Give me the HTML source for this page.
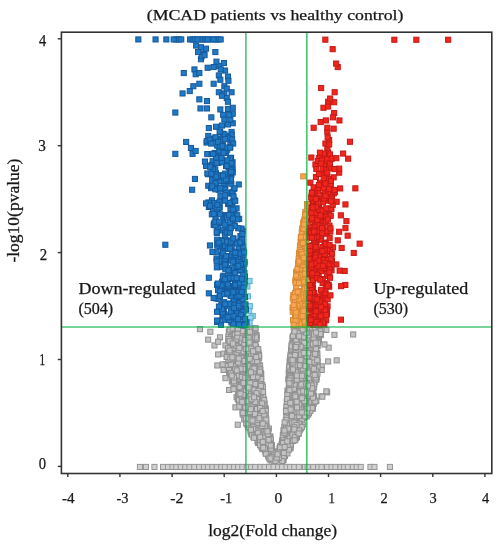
<!DOCTYPE html>
<html><head><meta charset="utf-8"><title>Volcano plot</title>
<style>html,body{margin:0;padding:0;background:#fff}svg{display:block}</style></head>
<body>
<svg width="502" height="550" viewBox="0 0 502 550">
<rect width="502" height="550" fill="#fff"/>
<g fill="#d0d0d0" stroke="#969696" stroke-width="1"><rect x="137.4" y="464.4" width="5.1" height="5.1"/><rect x="143.4" y="464.4" width="5.1" height="5.1"/><rect x="151.9" y="464.4" width="5.1" height="5.1"/><rect x="160.5" y="464.4" width="5.1" height="5.1"/><rect x="165.5" y="464.4" width="5.1" height="5.1"/><rect x="170.0" y="464.4" width="5.1" height="5.1"/><rect x="173.7" y="464.4" width="5.1" height="5.1"/><rect x="178.2" y="464.4" width="5.1" height="5.1"/><rect x="182.7" y="464.4" width="5.1" height="5.1"/><rect x="186.9" y="464.4" width="5.1" height="5.1"/><rect x="191.8" y="464.4" width="5.1" height="5.1"/><rect x="196.6" y="464.4" width="5.1" height="5.1"/><rect x="201.4" y="464.4" width="5.1" height="5.1"/><rect x="205.4" y="464.4" width="5.1" height="5.1"/><rect x="209.8" y="464.4" width="5.1" height="5.1"/><rect x="214.2" y="464.4" width="5.1" height="5.1"/><rect x="218.7" y="464.4" width="5.1" height="5.1"/><rect x="222.3" y="464.4" width="5.1" height="5.1"/><rect x="227.2" y="464.4" width="5.1" height="5.1"/><rect x="231.4" y="464.4" width="5.1" height="5.1"/><rect x="235.6" y="464.4" width="5.1" height="5.1"/><rect x="239.8" y="464.4" width="5.1" height="5.1"/><rect x="244.2" y="464.4" width="5.1" height="5.1"/><rect x="248.7" y="464.4" width="5.1" height="5.1"/><rect x="252.6" y="464.4" width="5.1" height="5.1"/><rect x="257.9" y="464.4" width="5.1" height="5.1"/><rect x="262.0" y="464.4" width="5.1" height="5.1"/><rect x="266.5" y="464.4" width="5.1" height="5.1"/><rect x="271.0" y="464.4" width="5.1" height="5.1"/><rect x="275.6" y="464.4" width="5.1" height="5.1"/><rect x="279.4" y="464.4" width="5.1" height="5.1"/><rect x="284.0" y="464.4" width="5.1" height="5.1"/><rect x="287.6" y="464.4" width="5.1" height="5.1"/><rect x="291.7" y="464.4" width="5.1" height="5.1"/><rect x="296.3" y="464.4" width="5.1" height="5.1"/><rect x="302.4" y="464.4" width="5.1" height="5.1"/><rect x="305.1" y="464.4" width="5.1" height="5.1"/><rect x="310.7" y="464.4" width="5.1" height="5.1"/><rect x="315.6" y="464.4" width="5.1" height="5.1"/><rect x="319.0" y="464.4" width="5.1" height="5.1"/><rect x="324.5" y="464.4" width="5.1" height="5.1"/><rect x="329.0" y="464.4" width="5.1" height="5.1"/><rect x="332.9" y="464.4" width="5.1" height="5.1"/><rect x="338.0" y="464.4" width="5.1" height="5.1"/><rect x="341.6" y="464.4" width="5.1" height="5.1"/><rect x="345.3" y="464.4" width="5.1" height="5.1"/><rect x="350.3" y="464.4" width="5.1" height="5.1"/><rect x="354.2" y="464.4" width="5.1" height="5.1"/><rect x="358.2" y="464.4" width="5.1" height="5.1"/><rect x="367.9" y="464.4" width="5.1" height="5.1"/><rect x="371.9" y="464.4" width="5.1" height="5.1"/><rect x="387.4" y="464.4" width="5.1" height="5.1"/></g>

<g fill="#c3c3c3" stroke="#909090" stroke-width="1"><rect x="254.4" y="355.0" width="5.1" height="5.1"/><rect x="258.4" y="421.2" width="5.1" height="5.1"/><rect x="303.6" y="371.3" width="5.1" height="5.1"/><rect x="306.6" y="375.2" width="5.1" height="5.1"/><rect x="237.8" y="374.4" width="5.1" height="5.1"/><rect x="302.8" y="342.2" width="5.1" height="5.1"/><rect x="226.8" y="327.8" width="5.1" height="5.1"/><rect x="289.3" y="406.2" width="5.1" height="5.1"/><rect x="310.9" y="390.4" width="5.1" height="5.1"/><rect x="295.8" y="334.4" width="5.1" height="5.1"/><rect x="308.2" y="370.9" width="5.1" height="5.1"/><rect x="277.4" y="447.5" width="5.1" height="5.1"/><rect x="288.0" y="445.7" width="5.1" height="5.1"/><rect x="293.1" y="332.4" width="5.1" height="5.1"/><rect x="287.2" y="379.5" width="5.1" height="5.1"/><rect x="303.6" y="331.0" width="5.1" height="5.1"/><rect x="297.8" y="410.3" width="5.1" height="5.1"/><rect x="254.8" y="378.6" width="5.1" height="5.1"/><rect x="234.2" y="342.8" width="5.1" height="5.1"/><rect x="247.9" y="379.0" width="5.1" height="5.1"/><rect x="296.3" y="341.6" width="5.1" height="5.1"/><rect x="298.7" y="333.4" width="5.1" height="5.1"/><rect x="284.4" y="441.0" width="5.1" height="5.1"/><rect x="276.1" y="452.3" width="5.1" height="5.1"/><rect x="297.9" y="411.9" width="5.1" height="5.1"/><rect x="260.4" y="392.5" width="5.1" height="5.1"/><rect x="292.1" y="397.6" width="5.1" height="5.1"/><rect x="267.9" y="451.6" width="5.1" height="5.1"/><rect x="289.2" y="385.6" width="5.1" height="5.1"/><rect x="243.2" y="332.6" width="5.1" height="5.1"/><rect x="248.3" y="341.9" width="5.1" height="5.1"/><rect x="294.0" y="425.2" width="5.1" height="5.1"/><rect x="243.8" y="356.4" width="5.1" height="5.1"/><rect x="285.4" y="444.5" width="5.1" height="5.1"/><rect x="239.1" y="382.0" width="5.1" height="5.1"/><rect x="292.2" y="350.4" width="5.1" height="5.1"/><rect x="251.0" y="361.0" width="5.1" height="5.1"/><rect x="248.6" y="380.1" width="5.1" height="5.1"/><rect x="300.7" y="373.1" width="5.1" height="5.1"/><rect x="288.1" y="379.7" width="5.1" height="5.1"/><rect x="258.0" y="416.2" width="5.1" height="5.1"/><rect x="247.7" y="381.2" width="5.1" height="5.1"/><rect x="284.9" y="388.1" width="5.1" height="5.1"/><rect x="307.7" y="332.3" width="5.1" height="5.1"/><rect x="304.0" y="401.9" width="5.1" height="5.1"/><rect x="303.6" y="344.9" width="5.1" height="5.1"/><rect x="261.4" y="411.4" width="5.1" height="5.1"/><rect x="238.4" y="389.6" width="5.1" height="5.1"/><rect x="252.5" y="338.3" width="5.1" height="5.1"/><rect x="287.3" y="445.0" width="5.1" height="5.1"/><rect x="310.3" y="346.4" width="5.1" height="5.1"/><rect x="315.0" y="343.5" width="5.1" height="5.1"/><rect x="246.4" y="325.2" width="5.1" height="5.1"/><rect x="331.9" y="332.3" width="5.1" height="5.1"/><rect x="297.0" y="420.0" width="5.1" height="5.1"/><rect x="277.2" y="456.2" width="5.1" height="5.1"/><rect x="252.2" y="410.9" width="5.1" height="5.1"/><rect x="268.0" y="457.8" width="5.1" height="5.1"/><rect x="256.3" y="401.7" width="5.1" height="5.1"/><rect x="289.9" y="352.4" width="5.1" height="5.1"/><rect x="286.3" y="403.9" width="5.1" height="5.1"/><rect x="295.6" y="353.7" width="5.1" height="5.1"/><rect x="250.9" y="434.5" width="5.1" height="5.1"/><rect x="258.6" y="390.4" width="5.1" height="5.1"/><rect x="234.5" y="337.8" width="5.1" height="5.1"/><rect x="266.3" y="426.0" width="5.1" height="5.1"/><rect x="310.0" y="345.6" width="5.1" height="5.1"/><rect x="290.4" y="374.8" width="5.1" height="5.1"/><rect x="242.4" y="395.1" width="5.1" height="5.1"/><rect x="266.9" y="437.2" width="5.1" height="5.1"/><rect x="265.5" y="436.5" width="5.1" height="5.1"/><rect x="230.8" y="327.2" width="5.1" height="5.1"/><rect x="236.1" y="387.3" width="5.1" height="5.1"/><rect x="236.7" y="389.1" width="5.1" height="5.1"/><rect x="279.2" y="446.5" width="5.1" height="5.1"/><rect x="246.1" y="412.3" width="5.1" height="5.1"/><rect x="248.6" y="380.2" width="5.1" height="5.1"/><rect x="308.8" y="351.0" width="5.1" height="5.1"/><rect x="316.4" y="337.9" width="5.1" height="5.1"/><rect x="254.7" y="420.5" width="5.1" height="5.1"/><rect x="256.3" y="429.2" width="5.1" height="5.1"/><rect x="242.2" y="401.6" width="5.1" height="5.1"/><rect x="250.4" y="325.9" width="5.1" height="5.1"/><rect x="313.2" y="363.1" width="5.1" height="5.1"/><rect x="240.2" y="412.0" width="5.1" height="5.1"/><rect x="311.9" y="349.1" width="5.1" height="5.1"/><rect x="308.7" y="404.5" width="5.1" height="5.1"/><rect x="245.0" y="374.7" width="5.1" height="5.1"/><rect x="310.7" y="346.5" width="5.1" height="5.1"/><rect x="265.6" y="429.2" width="5.1" height="5.1"/><rect x="245.7" y="414.6" width="5.1" height="5.1"/><rect x="259.3" y="411.6" width="5.1" height="5.1"/><rect x="289.0" y="357.4" width="5.1" height="5.1"/><rect x="263.3" y="407.8" width="5.1" height="5.1"/><rect x="241.0" y="363.9" width="5.1" height="5.1"/><rect x="297.7" y="414.6" width="5.1" height="5.1"/><rect x="290.5" y="434.0" width="5.1" height="5.1"/><rect x="286.2" y="385.2" width="5.1" height="5.1"/><rect x="259.4" y="405.6" width="5.1" height="5.1"/><rect x="260.2" y="421.3" width="5.1" height="5.1"/><rect x="249.1" y="370.0" width="5.1" height="5.1"/><rect x="300.3" y="368.1" width="5.1" height="5.1"/><rect x="252.1" y="350.4" width="5.1" height="5.1"/><rect x="308.7" y="363.1" width="5.1" height="5.1"/><rect x="310.7" y="332.7" width="5.1" height="5.1"/><rect x="334.1" y="357.8" width="5.1" height="5.1"/><rect x="284.0" y="414.4" width="5.1" height="5.1"/><rect x="243.9" y="327.4" width="5.1" height="5.1"/><rect x="247.6" y="367.2" width="5.1" height="5.1"/><rect x="301.9" y="391.0" width="5.1" height="5.1"/><rect x="260.9" y="412.6" width="5.1" height="5.1"/><rect x="289.8" y="340.8" width="5.1" height="5.1"/><rect x="295.9" y="371.4" width="5.1" height="5.1"/><rect x="239.4" y="360.6" width="5.1" height="5.1"/><rect x="251.4" y="331.5" width="5.1" height="5.1"/><rect x="261.2" y="430.0" width="5.1" height="5.1"/><rect x="288.4" y="359.3" width="5.1" height="5.1"/><rect x="314.7" y="343.2" width="5.1" height="5.1"/><rect x="234.0" y="394.7" width="5.1" height="5.1"/><rect x="231.7" y="336.8" width="5.1" height="5.1"/><rect x="242.2" y="351.8" width="5.1" height="5.1"/><rect x="282.5" y="453.4" width="5.1" height="5.1"/><rect x="241.4" y="372.5" width="5.1" height="5.1"/><rect x="313.1" y="355.5" width="5.1" height="5.1"/><rect x="306.5" y="354.1" width="5.1" height="5.1"/><rect x="313.9" y="376.9" width="5.1" height="5.1"/><rect x="302.4" y="349.3" width="5.1" height="5.1"/><rect x="290.4" y="416.7" width="5.1" height="5.1"/><rect x="294.7" y="378.1" width="5.1" height="5.1"/><rect x="235.4" y="367.7" width="5.1" height="5.1"/><rect x="305.3" y="390.1" width="5.1" height="5.1"/><rect x="235.2" y="355.9" width="5.1" height="5.1"/><rect x="310.4" y="405.9" width="5.1" height="5.1"/><rect x="262.5" y="406.1" width="5.1" height="5.1"/><rect x="226.3" y="329.5" width="5.1" height="5.1"/><rect x="297.3" y="415.9" width="5.1" height="5.1"/><rect x="260.4" y="442.1" width="5.1" height="5.1"/><rect x="311.4" y="365.0" width="5.1" height="5.1"/><rect x="221.0" y="367.4" width="5.1" height="5.1"/><rect x="262.6" y="407.1" width="5.1" height="5.1"/><rect x="280.0" y="454.2" width="5.1" height="5.1"/><rect x="319.2" y="363.8" width="5.1" height="5.1"/><rect x="242.4" y="381.3" width="5.1" height="5.1"/><rect x="297.3" y="362.1" width="5.1" height="5.1"/><rect x="271.7" y="458.0" width="5.1" height="5.1"/><rect x="243.0" y="407.3" width="5.1" height="5.1"/><rect x="228.8" y="338.2" width="5.1" height="5.1"/><rect x="260.0" y="387.1" width="5.1" height="5.1"/><rect x="293.6" y="405.4" width="5.1" height="5.1"/><rect x="288.4" y="432.8" width="5.1" height="5.1"/><rect x="232.4" y="325.1" width="5.1" height="5.1"/><rect x="264.0" y="438.1" width="5.1" height="5.1"/><rect x="311.9" y="353.6" width="5.1" height="5.1"/><rect x="308.8" y="327.8" width="5.1" height="5.1"/><rect x="288.9" y="432.4" width="5.1" height="5.1"/><rect x="252.9" y="350.7" width="5.1" height="5.1"/><rect x="301.2" y="333.9" width="5.1" height="5.1"/><rect x="255.6" y="440.5" width="5.1" height="5.1"/><rect x="236.4" y="351.0" width="5.1" height="5.1"/><rect x="259.5" y="430.8" width="5.1" height="5.1"/><rect x="241.7" y="416.8" width="5.1" height="5.1"/><rect x="267.1" y="435.5" width="5.1" height="5.1"/><rect x="236.9" y="353.7" width="5.1" height="5.1"/><rect x="285.7" y="420.0" width="5.1" height="5.1"/><rect x="290.5" y="365.9" width="5.1" height="5.1"/><rect x="239.9" y="384.6" width="5.1" height="5.1"/><rect x="248.0" y="378.1" width="5.1" height="5.1"/><rect x="292.6" y="414.4" width="5.1" height="5.1"/><rect x="282.2" y="437.0" width="5.1" height="5.1"/><rect x="302.0" y="347.7" width="5.1" height="5.1"/><rect x="298.6" y="363.5" width="5.1" height="5.1"/><rect x="252.8" y="332.8" width="5.1" height="5.1"/><rect x="240.8" y="348.3" width="5.1" height="5.1"/><rect x="256.7" y="414.4" width="5.1" height="5.1"/><rect x="300.8" y="396.6" width="5.1" height="5.1"/><rect x="263.7" y="434.4" width="5.1" height="5.1"/><rect x="258.2" y="424.6" width="5.1" height="5.1"/><rect x="300.7" y="371.1" width="5.1" height="5.1"/><rect x="253.9" y="356.8" width="5.1" height="5.1"/><rect x="279.1" y="441.4" width="5.1" height="5.1"/><rect x="294.1" y="418.6" width="5.1" height="5.1"/><rect x="310.0" y="389.9" width="5.1" height="5.1"/><rect x="289.5" y="391.8" width="5.1" height="5.1"/><rect x="237.0" y="338.3" width="5.1" height="5.1"/><rect x="298.5" y="409.5" width="5.1" height="5.1"/><rect x="293.4" y="373.0" width="5.1" height="5.1"/><rect x="289.4" y="343.5" width="5.1" height="5.1"/><rect x="281.8" y="426.6" width="5.1" height="5.1"/><rect x="279.8" y="451.5" width="5.1" height="5.1"/><rect x="242.0" y="359.9" width="5.1" height="5.1"/><rect x="285.9" y="429.7" width="5.1" height="5.1"/><rect x="313.6" y="340.7" width="5.1" height="5.1"/><rect x="268.7" y="455.0" width="5.1" height="5.1"/><rect x="253.9" y="432.6" width="5.1" height="5.1"/><rect x="241.3" y="327.9" width="5.1" height="5.1"/><rect x="254.6" y="377.8" width="5.1" height="5.1"/><rect x="293.9" y="408.7" width="5.1" height="5.1"/><rect x="297.1" y="371.6" width="5.1" height="5.1"/><rect x="291.3" y="333.8" width="5.1" height="5.1"/><rect x="262.2" y="443.8" width="5.1" height="5.1"/><rect x="306.9" y="368.0" width="5.1" height="5.1"/><rect x="283.1" y="426.3" width="5.1" height="5.1"/><rect x="254.1" y="332.9" width="5.1" height="5.1"/><rect x="246.0" y="358.7" width="5.1" height="5.1"/><rect x="295.7" y="355.5" width="5.1" height="5.1"/><rect x="247.7" y="410.5" width="5.1" height="5.1"/><rect x="280.9" y="432.8" width="5.1" height="5.1"/><rect x="242.0" y="379.4" width="5.1" height="5.1"/><rect x="238.5" y="369.5" width="5.1" height="5.1"/><rect x="231.1" y="333.0" width="5.1" height="5.1"/><rect x="304.3" y="370.2" width="5.1" height="5.1"/><rect x="263.2" y="447.0" width="5.1" height="5.1"/><rect x="247.4" y="376.1" width="5.1" height="5.1"/><rect x="236.9" y="382.9" width="5.1" height="5.1"/><rect x="305.8" y="333.7" width="5.1" height="5.1"/><rect x="304.0" y="361.9" width="5.1" height="5.1"/><rect x="236.5" y="398.0" width="5.1" height="5.1"/><rect x="248.0" y="334.8" width="5.1" height="5.1"/><rect x="244.2" y="366.5" width="5.1" height="5.1"/><rect x="297.6" y="339.0" width="5.1" height="5.1"/><rect x="243.1" y="375.2" width="5.1" height="5.1"/><rect x="286.4" y="437.8" width="5.1" height="5.1"/><rect x="293.6" y="334.9" width="5.1" height="5.1"/><rect x="257.3" y="378.7" width="5.1" height="5.1"/><rect x="312.2" y="379.5" width="5.1" height="5.1"/><rect x="286.7" y="414.0" width="5.1" height="5.1"/><rect x="270.9" y="449.3" width="5.1" height="5.1"/><rect x="304.4" y="333.6" width="5.1" height="5.1"/><rect x="242.1" y="345.6" width="5.1" height="5.1"/><rect x="272.2" y="453.3" width="5.1" height="5.1"/><rect x="239.5" y="350.2" width="5.1" height="5.1"/><rect x="255.3" y="359.3" width="5.1" height="5.1"/><rect x="247.1" y="332.9" width="5.1" height="5.1"/><rect x="306.1" y="327.9" width="5.1" height="5.1"/><rect x="241.8" y="388.6" width="5.1" height="5.1"/><rect x="233.1" y="372.9" width="5.1" height="5.1"/><rect x="257.6" y="380.2" width="5.1" height="5.1"/><rect x="313.3" y="330.0" width="5.1" height="5.1"/><rect x="298.5" y="339.6" width="5.1" height="5.1"/><rect x="237.3" y="360.1" width="5.1" height="5.1"/><rect x="234.3" y="358.2" width="5.1" height="5.1"/><rect x="253.3" y="401.4" width="5.1" height="5.1"/><rect x="247.8" y="417.1" width="5.1" height="5.1"/><rect x="243.7" y="414.4" width="5.1" height="5.1"/><rect x="243.0" y="395.8" width="5.1" height="5.1"/><rect x="230.6" y="331.8" width="5.1" height="5.1"/><rect x="246.2" y="368.1" width="5.1" height="5.1"/><rect x="294.9" y="359.5" width="5.1" height="5.1"/><rect x="231.3" y="338.2" width="5.1" height="5.1"/><rect x="251.9" y="350.1" width="5.1" height="5.1"/><rect x="302.5" y="368.5" width="5.1" height="5.1"/><rect x="293.3" y="403.4" width="5.1" height="5.1"/><rect x="248.5" y="420.6" width="5.1" height="5.1"/><rect x="311.4" y="362.7" width="5.1" height="5.1"/><rect x="257.4" y="410.4" width="5.1" height="5.1"/><rect x="300.7" y="377.7" width="5.1" height="5.1"/><rect x="285.8" y="376.8" width="5.1" height="5.1"/><rect x="296.8" y="415.1" width="5.1" height="5.1"/><rect x="254.5" y="355.9" width="5.1" height="5.1"/><rect x="295.1" y="406.3" width="5.1" height="5.1"/><rect x="267.7" y="441.7" width="5.1" height="5.1"/><rect x="309.8" y="372.0" width="5.1" height="5.1"/><rect x="302.0" y="332.4" width="5.1" height="5.1"/><rect x="286.8" y="394.7" width="5.1" height="5.1"/><rect x="236.3" y="391.0" width="5.1" height="5.1"/><rect x="313.5" y="354.7" width="5.1" height="5.1"/><rect x="312.4" y="338.7" width="5.1" height="5.1"/><rect x="311.2" y="395.0" width="5.1" height="5.1"/><rect x="300.5" y="335.5" width="5.1" height="5.1"/><rect x="305.4" y="373.6" width="5.1" height="5.1"/><rect x="248.4" y="402.8" width="5.1" height="5.1"/><rect x="247.2" y="424.5" width="5.1" height="5.1"/><rect x="262.0" y="438.8" width="5.1" height="5.1"/><rect x="311.0" y="360.8" width="5.1" height="5.1"/><rect x="258.7" y="439.3" width="5.1" height="5.1"/><rect x="258.3" y="373.3" width="5.1" height="5.1"/><rect x="244.9" y="325.1" width="5.1" height="5.1"/><rect x="263.1" y="421.8" width="5.1" height="5.1"/><rect x="225.2" y="350.8" width="5.1" height="5.1"/><rect x="297.2" y="332.8" width="5.1" height="5.1"/><rect x="236.6" y="331.9" width="5.1" height="5.1"/><rect x="301.0" y="339.1" width="5.1" height="5.1"/><rect x="297.4" y="359.2" width="5.1" height="5.1"/><rect x="253.6" y="344.1" width="5.1" height="5.1"/><rect x="286.0" y="424.7" width="5.1" height="5.1"/><rect x="259.2" y="412.4" width="5.1" height="5.1"/><rect x="299.6" y="377.1" width="5.1" height="5.1"/><rect x="307.9" y="361.1" width="5.1" height="5.1"/><rect x="289.4" y="381.3" width="5.1" height="5.1"/><rect x="286.1" y="405.9" width="5.1" height="5.1"/><rect x="253.7" y="396.8" width="5.1" height="5.1"/><rect x="252.2" y="388.1" width="5.1" height="5.1"/><rect x="301.3" y="356.8" width="5.1" height="5.1"/><rect x="281.0" y="457.6" width="5.1" height="5.1"/><rect x="304.9" y="339.3" width="5.1" height="5.1"/><rect x="288.1" y="444.0" width="5.1" height="5.1"/><rect x="238.1" y="370.9" width="5.1" height="5.1"/><rect x="290.8" y="356.9" width="5.1" height="5.1"/><rect x="293.1" y="431.7" width="5.1" height="5.1"/><rect x="318.3" y="332.5" width="5.1" height="5.1"/><rect x="296.8" y="392.3" width="5.1" height="5.1"/><rect x="238.2" y="338.5" width="5.1" height="5.1"/><rect x="236.4" y="396.9" width="5.1" height="5.1"/><rect x="314.1" y="338.7" width="5.1" height="5.1"/><rect x="285.6" y="424.5" width="5.1" height="5.1"/><rect x="295.0" y="352.8" width="5.1" height="5.1"/><rect x="239.8" y="340.1" width="5.1" height="5.1"/><rect x="243.3" y="337.7" width="5.1" height="5.1"/><rect x="301.7" y="355.8" width="5.1" height="5.1"/><rect x="266.7" y="437.6" width="5.1" height="5.1"/><rect x="252.3" y="393.8" width="5.1" height="5.1"/><rect x="235.8" y="326.7" width="5.1" height="5.1"/><rect x="284.5" y="428.1" width="5.1" height="5.1"/><rect x="279.7" y="447.1" width="5.1" height="5.1"/><rect x="251.1" y="384.8" width="5.1" height="5.1"/><rect x="243.9" y="420.8" width="5.1" height="5.1"/><rect x="257.6" y="395.8" width="5.1" height="5.1"/><rect x="236.8" y="330.4" width="5.1" height="5.1"/><rect x="306.2" y="398.5" width="5.1" height="5.1"/><rect x="269.5" y="445.9" width="5.1" height="5.1"/><rect x="251.6" y="347.6" width="5.1" height="5.1"/><rect x="294.5" y="434.6" width="5.1" height="5.1"/><rect x="238.6" y="378.1" width="5.1" height="5.1"/><rect x="294.9" y="396.5" width="5.1" height="5.1"/><rect x="247.1" y="346.2" width="5.1" height="5.1"/><rect x="255.7" y="404.1" width="5.1" height="5.1"/><rect x="236.0" y="363.4" width="5.1" height="5.1"/><rect x="288.6" y="403.1" width="5.1" height="5.1"/><rect x="249.7" y="389.7" width="5.1" height="5.1"/><rect x="296.7" y="352.2" width="5.1" height="5.1"/><rect x="310.5" y="372.4" width="5.1" height="5.1"/><rect x="283.4" y="445.6" width="5.1" height="5.1"/><rect x="260.2" y="405.3" width="5.1" height="5.1"/><rect x="253.4" y="420.2" width="5.1" height="5.1"/><rect x="305.7" y="343.6" width="5.1" height="5.1"/><rect x="314.6" y="350.3" width="5.1" height="5.1"/><rect x="298.6" y="397.2" width="5.1" height="5.1"/><rect x="297.8" y="391.0" width="5.1" height="5.1"/><rect x="259.0" y="383.9" width="5.1" height="5.1"/><rect x="254.1" y="408.5" width="5.1" height="5.1"/><rect x="235.5" y="384.0" width="5.1" height="5.1"/><rect x="261.0" y="396.3" width="5.1" height="5.1"/><rect x="253.9" y="419.3" width="5.1" height="5.1"/><rect x="229.4" y="350.8" width="5.1" height="5.1"/><rect x="288.7" y="362.8" width="5.1" height="5.1"/><rect x="250.9" y="363.3" width="5.1" height="5.1"/><rect x="268.5" y="447.4" width="5.1" height="5.1"/><rect x="302.4" y="380.8" width="5.1" height="5.1"/><rect x="286.5" y="401.3" width="5.1" height="5.1"/><rect x="252.5" y="401.1" width="5.1" height="5.1"/><rect x="235.1" y="331.0" width="5.1" height="5.1"/><rect x="257.8" y="415.9" width="5.1" height="5.1"/><rect x="295.0" y="353.6" width="5.1" height="5.1"/><rect x="309.1" y="400.2" width="5.1" height="5.1"/><rect x="293.7" y="393.9" width="5.1" height="5.1"/><rect x="255.2" y="405.1" width="5.1" height="5.1"/><rect x="287.4" y="363.6" width="5.1" height="5.1"/><rect x="271.2" y="449.0" width="5.1" height="5.1"/><rect x="252.5" y="347.9" width="5.1" height="5.1"/><rect x="268.1" y="438.4" width="5.1" height="5.1"/><rect x="246.5" y="374.2" width="5.1" height="5.1"/><rect x="297.1" y="352.0" width="5.1" height="5.1"/><rect x="245.7" y="331.8" width="5.1" height="5.1"/><rect x="287.7" y="394.8" width="5.1" height="5.1"/><rect x="248.8" y="384.9" width="5.1" height="5.1"/><rect x="237.4" y="391.6" width="5.1" height="5.1"/><rect x="281.8" y="440.1" width="5.1" height="5.1"/><rect x="311.7" y="393.5" width="5.1" height="5.1"/><rect x="276.2" y="454.1" width="5.1" height="5.1"/><rect x="287.5" y="416.6" width="5.1" height="5.1"/><rect x="250.8" y="374.2" width="5.1" height="5.1"/><rect x="309.6" y="406.1" width="5.1" height="5.1"/><rect x="323.8" y="327.4" width="5.1" height="5.1"/><rect x="306.2" y="406.9" width="5.1" height="5.1"/><rect x="267.7" y="442.0" width="5.1" height="5.1"/><rect x="251.5" y="431.4" width="5.1" height="5.1"/><rect x="306.1" y="394.8" width="5.1" height="5.1"/><rect x="254.2" y="386.2" width="5.1" height="5.1"/><rect x="258.4" y="425.6" width="5.1" height="5.1"/><rect x="255.3" y="428.8" width="5.1" height="5.1"/><rect x="256.5" y="432.3" width="5.1" height="5.1"/><rect x="313.5" y="326.5" width="5.1" height="5.1"/><rect x="245.7" y="362.3" width="5.1" height="5.1"/><rect x="253.5" y="427.2" width="5.1" height="5.1"/><rect x="246.0" y="399.9" width="5.1" height="5.1"/><rect x="280.3" y="438.0" width="5.1" height="5.1"/><rect x="312.7" y="338.5" width="5.1" height="5.1"/><rect x="250.1" y="391.4" width="5.1" height="5.1"/><rect x="232.8" y="353.0" width="5.1" height="5.1"/><rect x="313.0" y="331.8" width="5.1" height="5.1"/><rect x="247.6" y="377.5" width="5.1" height="5.1"/><rect x="246.7" y="374.9" width="5.1" height="5.1"/><rect x="324.6" y="389.8" width="5.1" height="5.1"/><rect x="267.8" y="434.1" width="5.1" height="5.1"/><rect x="257.5" y="399.8" width="5.1" height="5.1"/><rect x="290.0" y="341.2" width="5.1" height="5.1"/><rect x="249.2" y="356.1" width="5.1" height="5.1"/><rect x="304.6" y="386.7" width="5.1" height="5.1"/><rect x="301.1" y="384.0" width="5.1" height="5.1"/><rect x="289.7" y="358.8" width="5.1" height="5.1"/><rect x="282.8" y="422.9" width="5.1" height="5.1"/><rect x="289.9" y="335.2" width="5.1" height="5.1"/><rect x="303.2" y="343.1" width="5.1" height="5.1"/><rect x="292.1" y="331.2" width="5.1" height="5.1"/><rect x="231.1" y="358.0" width="5.1" height="5.1"/><rect x="249.5" y="411.0" width="5.1" height="5.1"/><rect x="298.8" y="353.0" width="5.1" height="5.1"/><rect x="292.8" y="424.3" width="5.1" height="5.1"/><rect x="288.0" y="385.1" width="5.1" height="5.1"/><rect x="307.8" y="334.6" width="5.1" height="5.1"/><rect x="260.8" y="433.1" width="5.1" height="5.1"/><rect x="275.4" y="449.9" width="5.1" height="5.1"/><rect x="295.3" y="367.1" width="5.1" height="5.1"/><rect x="296.8" y="373.8" width="5.1" height="5.1"/><rect x="263.1" y="405.8" width="5.1" height="5.1"/><rect x="290.5" y="364.5" width="5.1" height="5.1"/><rect x="233.5" y="375.4" width="5.1" height="5.1"/><rect x="252.2" y="404.8" width="5.1" height="5.1"/><rect x="268.7" y="442.3" width="5.1" height="5.1"/><rect x="297.2" y="333.6" width="5.1" height="5.1"/><rect x="252.6" y="393.9" width="5.1" height="5.1"/><rect x="314.6" y="363.6" width="5.1" height="5.1"/><rect x="248.1" y="429.5" width="5.1" height="5.1"/><rect x="241.4" y="333.3" width="5.1" height="5.1"/><rect x="255.9" y="362.7" width="5.1" height="5.1"/><rect x="284.0" y="410.6" width="5.1" height="5.1"/><rect x="301.1" y="415.5" width="5.1" height="5.1"/><rect x="226.8" y="354.0" width="5.1" height="5.1"/><rect x="250.3" y="344.1" width="5.1" height="5.1"/><rect x="307.8" y="338.9" width="5.1" height="5.1"/><rect x="311.3" y="352.1" width="5.1" height="5.1"/><rect x="246.9" y="345.2" width="5.1" height="5.1"/><rect x="242.5" y="388.1" width="5.1" height="5.1"/><rect x="295.3" y="373.9" width="5.1" height="5.1"/><rect x="311.4" y="359.3" width="5.1" height="5.1"/><rect x="285.6" y="390.6" width="5.1" height="5.1"/><rect x="297.5" y="423.6" width="5.1" height="5.1"/><rect x="241.8" y="400.7" width="5.1" height="5.1"/><rect x="249.0" y="394.3" width="5.1" height="5.1"/><rect x="237.5" y="348.0" width="5.1" height="5.1"/><rect x="250.2" y="335.8" width="5.1" height="5.1"/><rect x="226.7" y="339.8" width="5.1" height="5.1"/><rect x="252.6" y="424.7" width="5.1" height="5.1"/><rect x="304.2" y="338.3" width="5.1" height="5.1"/><rect x="270.3" y="452.5" width="5.1" height="5.1"/><rect x="279.6" y="438.2" width="5.1" height="5.1"/><rect x="291.6" y="365.6" width="5.1" height="5.1"/><rect x="251.0" y="340.5" width="5.1" height="5.1"/><rect x="239.3" y="394.9" width="5.1" height="5.1"/><rect x="249.8" y="353.6" width="5.1" height="5.1"/><rect x="246.9" y="345.9" width="5.1" height="5.1"/><rect x="304.4" y="390.6" width="5.1" height="5.1"/><rect x="237.4" y="348.2" width="5.1" height="5.1"/><rect x="310.0" y="402.1" width="5.1" height="5.1"/><rect x="251.3" y="431.5" width="5.1" height="5.1"/><rect x="288.7" y="380.0" width="5.1" height="5.1"/><rect x="228.9" y="370.3" width="5.1" height="5.1"/><rect x="294.5" y="363.6" width="5.1" height="5.1"/><rect x="248.2" y="361.4" width="5.1" height="5.1"/><rect x="235.7" y="390.9" width="5.1" height="5.1"/><rect x="295.3" y="345.6" width="5.1" height="5.1"/><rect x="279.6" y="446.7" width="5.1" height="5.1"/><rect x="281.8" y="424.6" width="5.1" height="5.1"/><rect x="293.3" y="387.7" width="5.1" height="5.1"/><rect x="305.9" y="404.7" width="5.1" height="5.1"/><rect x="301.6" y="340.9" width="5.1" height="5.1"/><rect x="306.2" y="358.2" width="5.1" height="5.1"/><rect x="250.8" y="384.5" width="5.1" height="5.1"/><rect x="297.9" y="328.0" width="5.1" height="5.1"/><rect x="289.5" y="365.1" width="5.1" height="5.1"/><rect x="214.8" y="362.9" width="5.1" height="5.1"/><rect x="279.7" y="451.5" width="5.1" height="5.1"/><rect x="258.8" y="431.9" width="5.1" height="5.1"/><rect x="225.8" y="334.1" width="5.1" height="5.1"/><rect x="254.9" y="438.9" width="5.1" height="5.1"/><rect x="252.0" y="362.5" width="5.1" height="5.1"/><rect x="250.2" y="402.9" width="5.1" height="5.1"/><rect x="225.7" y="352.5" width="5.1" height="5.1"/><rect x="262.3" y="433.8" width="5.1" height="5.1"/><rect x="314.9" y="366.5" width="5.1" height="5.1"/><rect x="280.8" y="432.0" width="5.1" height="5.1"/><rect x="241.2" y="396.9" width="5.1" height="5.1"/><rect x="245.8" y="407.9" width="5.1" height="5.1"/><rect x="307.6" y="404.5" width="5.1" height="5.1"/><rect x="248.8" y="327.3" width="5.1" height="5.1"/><rect x="226.8" y="355.2" width="5.1" height="5.1"/><rect x="278.1" y="445.0" width="5.1" height="5.1"/><rect x="258.1" y="414.2" width="5.1" height="5.1"/><rect x="313.1" y="369.2" width="5.1" height="5.1"/><rect x="301.3" y="367.6" width="5.1" height="5.1"/><rect x="297.5" y="423.9" width="5.1" height="5.1"/><rect x="253.0" y="387.0" width="5.1" height="5.1"/><rect x="232.0" y="377.1" width="5.1" height="5.1"/><rect x="314.7" y="351.6" width="5.1" height="5.1"/><rect x="311.4" y="357.4" width="5.1" height="5.1"/><rect x="285.3" y="405.2" width="5.1" height="5.1"/><rect x="283.3" y="417.7" width="5.1" height="5.1"/><rect x="261.6" y="422.1" width="5.1" height="5.1"/><rect x="309.9" y="340.2" width="5.1" height="5.1"/><rect x="260.5" y="400.1" width="5.1" height="5.1"/><rect x="305.9" y="339.8" width="5.1" height="5.1"/><rect x="229.3" y="378.9" width="5.1" height="5.1"/><rect x="286.2" y="396.7" width="5.1" height="5.1"/><rect x="249.0" y="413.9" width="5.1" height="5.1"/><rect x="254.2" y="422.1" width="5.1" height="5.1"/><rect x="297.6" y="422.4" width="5.1" height="5.1"/><rect x="307.9" y="347.9" width="5.1" height="5.1"/><rect x="297.7" y="415.9" width="5.1" height="5.1"/><rect x="306.6" y="389.3" width="5.1" height="5.1"/><rect x="241.2" y="383.2" width="5.1" height="5.1"/><rect x="283.2" y="445.2" width="5.1" height="5.1"/><rect x="248.3" y="345.1" width="5.1" height="5.1"/><rect x="245.0" y="414.0" width="5.1" height="5.1"/><rect x="255.8" y="440.4" width="5.1" height="5.1"/><rect x="263.3" y="449.6" width="5.1" height="5.1"/><rect x="308.6" y="387.4" width="5.1" height="5.1"/><rect x="290.0" y="360.3" width="5.1" height="5.1"/><rect x="288.4" y="421.8" width="5.1" height="5.1"/><rect x="248.8" y="383.3" width="5.1" height="5.1"/><rect x="244.5" y="396.6" width="5.1" height="5.1"/><rect x="288.0" y="352.0" width="5.1" height="5.1"/><rect x="217.4" y="334.8" width="5.1" height="5.1"/><rect x="293.5" y="354.1" width="5.1" height="5.1"/><rect x="254.7" y="350.4" width="5.1" height="5.1"/><rect x="237.0" y="369.4" width="5.1" height="5.1"/><rect x="286.2" y="370.3" width="5.1" height="5.1"/><rect x="250.2" y="341.9" width="5.1" height="5.1"/><rect x="296.3" y="359.8" width="5.1" height="5.1"/><rect x="284.5" y="415.0" width="5.1" height="5.1"/><rect x="235.0" y="329.7" width="5.1" height="5.1"/><rect x="295.1" y="428.7" width="5.1" height="5.1"/><rect x="249.7" y="403.2" width="5.1" height="5.1"/><rect x="243.7" y="410.4" width="5.1" height="5.1"/><rect x="292.2" y="345.1" width="5.1" height="5.1"/><rect x="255.2" y="432.9" width="5.1" height="5.1"/><rect x="253.0" y="393.3" width="5.1" height="5.1"/><rect x="263.5" y="415.2" width="5.1" height="5.1"/><rect x="259.5" y="394.2" width="5.1" height="5.1"/><rect x="256.1" y="396.3" width="5.1" height="5.1"/><rect x="246.7" y="326.8" width="5.1" height="5.1"/><rect x="244.4" y="368.7" width="5.1" height="5.1"/><rect x="252.2" y="401.6" width="5.1" height="5.1"/><rect x="295.1" y="427.8" width="5.1" height="5.1"/><rect x="286.5" y="365.0" width="5.1" height="5.1"/><rect x="293.1" y="334.5" width="5.1" height="5.1"/><rect x="251.6" y="333.5" width="5.1" height="5.1"/><rect x="252.3" y="428.7" width="5.1" height="5.1"/><rect x="323.8" y="388.8" width="5.1" height="5.1"/><rect x="251.8" y="389.1" width="5.1" height="5.1"/><rect x="197.4" y="326.6" width="5.1" height="5.1"/><rect x="242.8" y="332.9" width="5.1" height="5.1"/><rect x="259.4" y="435.7" width="5.1" height="5.1"/><rect x="282.1" y="430.3" width="5.1" height="5.1"/><rect x="297.5" y="385.7" width="5.1" height="5.1"/><rect x="286.6" y="423.6" width="5.1" height="5.1"/><rect x="284.1" y="409.4" width="5.1" height="5.1"/><rect x="237.3" y="403.0" width="5.1" height="5.1"/><rect x="257.4" y="406.5" width="5.1" height="5.1"/><rect x="259.2" y="430.9" width="5.1" height="5.1"/><rect x="246.4" y="404.7" width="5.1" height="5.1"/><rect x="298.7" y="327.3" width="5.1" height="5.1"/><rect x="259.9" y="446.6" width="5.1" height="5.1"/><rect x="266.0" y="446.1" width="5.1" height="5.1"/><rect x="252.5" y="371.0" width="5.1" height="5.1"/><rect x="315.1" y="339.8" width="5.1" height="5.1"/><rect x="293.2" y="347.6" width="5.1" height="5.1"/><rect x="289.9" y="346.0" width="5.1" height="5.1"/><rect x="229.4" y="344.0" width="5.1" height="5.1"/><rect x="290.6" y="374.2" width="5.1" height="5.1"/><rect x="284.9" y="441.5" width="5.1" height="5.1"/><rect x="309.2" y="389.9" width="5.1" height="5.1"/><rect x="292.6" y="364.9" width="5.1" height="5.1"/><rect x="297.7" y="346.0" width="5.1" height="5.1"/><rect x="304.2" y="368.7" width="5.1" height="5.1"/><rect x="250.2" y="430.4" width="5.1" height="5.1"/><rect x="309.5" y="325.7" width="5.1" height="5.1"/><rect x="248.3" y="376.1" width="5.1" height="5.1"/><rect x="272.9" y="456.9" width="5.1" height="5.1"/><rect x="308.0" y="344.3" width="5.1" height="5.1"/><rect x="301.4" y="350.6" width="5.1" height="5.1"/><rect x="291.2" y="361.1" width="5.1" height="5.1"/><rect x="249.2" y="350.3" width="5.1" height="5.1"/><rect x="305.6" y="412.0" width="5.1" height="5.1"/><rect x="295.5" y="326.2" width="5.1" height="5.1"/><rect x="293.5" y="332.6" width="5.1" height="5.1"/><rect x="258.6" y="371.4" width="5.1" height="5.1"/><rect x="251.6" y="422.0" width="5.1" height="5.1"/><rect x="293.8" y="379.6" width="5.1" height="5.1"/><rect x="291.5" y="390.1" width="5.1" height="5.1"/><rect x="252.1" y="390.3" width="5.1" height="5.1"/><rect x="256.7" y="413.0" width="5.1" height="5.1"/><rect x="283.0" y="434.4" width="5.1" height="5.1"/><rect x="243.7" y="351.1" width="5.1" height="5.1"/><rect x="248.5" y="388.4" width="5.1" height="5.1"/><rect x="289.1" y="348.0" width="5.1" height="5.1"/><rect x="296.9" y="341.1" width="5.1" height="5.1"/><rect x="259.9" y="382.6" width="5.1" height="5.1"/><rect x="287.4" y="359.4" width="5.1" height="5.1"/><rect x="252.9" y="367.3" width="5.1" height="5.1"/><rect x="257.5" y="414.6" width="5.1" height="5.1"/><rect x="292.7" y="331.8" width="5.1" height="5.1"/><rect x="241.3" y="337.3" width="5.1" height="5.1"/><rect x="240.9" y="358.8" width="5.1" height="5.1"/><rect x="301.9" y="387.1" width="5.1" height="5.1"/><rect x="261.1" y="406.4" width="5.1" height="5.1"/><rect x="237.3" y="379.4" width="5.1" height="5.1"/><rect x="251.5" y="350.8" width="5.1" height="5.1"/><rect x="255.6" y="417.9" width="5.1" height="5.1"/><rect x="243.9" y="327.6" width="5.1" height="5.1"/><rect x="297.6" y="352.6" width="5.1" height="5.1"/><rect x="242.1" y="337.5" width="5.1" height="5.1"/><rect x="225.7" y="339.5" width="5.1" height="5.1"/><rect x="222.9" y="375.6" width="5.1" height="5.1"/><rect x="277.6" y="443.7" width="5.1" height="5.1"/><rect x="249.9" y="355.5" width="5.1" height="5.1"/><rect x="286.5" y="424.0" width="5.1" height="5.1"/><rect x="233.6" y="364.8" width="5.1" height="5.1"/><rect x="249.5" y="374.8" width="5.1" height="5.1"/><rect x="301.9" y="358.4" width="5.1" height="5.1"/><rect x="241.6" y="407.7" width="5.1" height="5.1"/><rect x="303.4" y="380.6" width="5.1" height="5.1"/><rect x="262.7" y="425.6" width="5.1" height="5.1"/><rect x="311.6" y="355.8" width="5.1" height="5.1"/><rect x="292.8" y="356.5" width="5.1" height="5.1"/><rect x="249.7" y="353.1" width="5.1" height="5.1"/><rect x="301.5" y="351.2" width="5.1" height="5.1"/><rect x="308.6" y="353.7" width="5.1" height="5.1"/><rect x="307.3" y="385.8" width="5.1" height="5.1"/><rect x="279.4" y="442.2" width="5.1" height="5.1"/><rect x="251.8" y="428.6" width="5.1" height="5.1"/><rect x="251.2" y="372.3" width="5.1" height="5.1"/><rect x="234.0" y="352.9" width="5.1" height="5.1"/><rect x="255.2" y="363.2" width="5.1" height="5.1"/><rect x="240.7" y="370.1" width="5.1" height="5.1"/><rect x="306.2" y="387.7" width="5.1" height="5.1"/><rect x="258.9" y="444.4" width="5.1" height="5.1"/><rect x="298.0" y="380.2" width="5.1" height="5.1"/><rect x="239.0" y="342.9" width="5.1" height="5.1"/><rect x="308.2" y="368.3" width="5.1" height="5.1"/><rect x="289.6" y="438.3" width="5.1" height="5.1"/><rect x="237.6" y="379.1" width="5.1" height="5.1"/><rect x="295.4" y="361.6" width="5.1" height="5.1"/><rect x="249.6" y="341.2" width="5.1" height="5.1"/><rect x="243.7" y="335.8" width="5.1" height="5.1"/><rect x="267.5" y="434.0" width="5.1" height="5.1"/><rect x="287.4" y="402.2" width="5.1" height="5.1"/><rect x="281.6" y="442.6" width="5.1" height="5.1"/><rect x="239.2" y="396.3" width="5.1" height="5.1"/><rect x="233.1" y="378.4" width="5.1" height="5.1"/><rect x="248.9" y="382.6" width="5.1" height="5.1"/><rect x="294.8" y="385.6" width="5.1" height="5.1"/><rect x="246.5" y="380.9" width="5.1" height="5.1"/><rect x="283.1" y="449.4" width="5.1" height="5.1"/><rect x="260.5" y="393.1" width="5.1" height="5.1"/><rect x="312.4" y="334.5" width="5.1" height="5.1"/><rect x="257.3" y="365.5" width="5.1" height="5.1"/><rect x="298.3" y="384.9" width="5.1" height="5.1"/><rect x="261.7" y="415.4" width="5.1" height="5.1"/><rect x="304.1" y="395.6" width="5.1" height="5.1"/><rect x="293.5" y="354.8" width="5.1" height="5.1"/><rect x="302.5" y="402.0" width="5.1" height="5.1"/><rect x="267.2" y="454.4" width="5.1" height="5.1"/><rect x="291.6" y="348.7" width="5.1" height="5.1"/><rect x="259.8" y="445.4" width="5.1" height="5.1"/><rect x="235.3" y="396.9" width="5.1" height="5.1"/><rect x="292.5" y="334.5" width="5.1" height="5.1"/><rect x="251.3" y="379.9" width="5.1" height="5.1"/><rect x="239.6" y="339.5" width="5.1" height="5.1"/><rect x="271.0" y="454.1" width="5.1" height="5.1"/><rect x="255.5" y="368.7" width="5.1" height="5.1"/><rect x="265.0" y="447.7" width="5.1" height="5.1"/><rect x="230.1" y="328.8" width="5.1" height="5.1"/><rect x="231.3" y="383.0" width="5.1" height="5.1"/><rect x="230.0" y="333.9" width="5.1" height="5.1"/><rect x="308.0" y="396.8" width="5.1" height="5.1"/><rect x="304.1" y="365.1" width="5.1" height="5.1"/><rect x="257.1" y="379.9" width="5.1" height="5.1"/><rect x="272.5" y="455.5" width="5.1" height="5.1"/><rect x="227.4" y="351.0" width="5.1" height="5.1"/><rect x="244.7" y="374.7" width="5.1" height="5.1"/><rect x="303.7" y="404.7" width="5.1" height="5.1"/><rect x="249.0" y="396.5" width="5.1" height="5.1"/><rect x="287.9" y="391.4" width="5.1" height="5.1"/><rect x="315.0" y="331.6" width="5.1" height="5.1"/><rect x="253.3" y="353.5" width="5.1" height="5.1"/><rect x="235.8" y="339.3" width="5.1" height="5.1"/><rect x="306.0" y="348.6" width="5.1" height="5.1"/><rect x="300.4" y="351.1" width="5.1" height="5.1"/><rect x="242.9" y="407.1" width="5.1" height="5.1"/><rect x="253.3" y="344.4" width="5.1" height="5.1"/><rect x="260.5" y="424.8" width="5.1" height="5.1"/><rect x="260.8" y="402.2" width="5.1" height="5.1"/><rect x="252.7" y="379.9" width="5.1" height="5.1"/><rect x="293.6" y="434.0" width="5.1" height="5.1"/><rect x="259.0" y="427.2" width="5.1" height="5.1"/><rect x="271.0" y="449.4" width="5.1" height="5.1"/><rect x="282.7" y="446.1" width="5.1" height="5.1"/><rect x="307.0" y="393.8" width="5.1" height="5.1"/><rect x="244.5" y="327.5" width="5.1" height="5.1"/><rect x="243.4" y="375.1" width="5.1" height="5.1"/><rect x="244.6" y="403.6" width="5.1" height="5.1"/><rect x="294.5" y="388.0" width="5.1" height="5.1"/><rect x="250.1" y="362.1" width="5.1" height="5.1"/><rect x="230.5" y="377.0" width="5.1" height="5.1"/><rect x="240.0" y="383.6" width="5.1" height="5.1"/><rect x="215.6" y="351.9" width="5.1" height="5.1"/><rect x="295.5" y="354.5" width="5.1" height="5.1"/><rect x="240.0" y="330.2" width="5.1" height="5.1"/><rect x="246.2" y="355.2" width="5.1" height="5.1"/><rect x="286.9" y="388.5" width="5.1" height="5.1"/><rect x="237.2" y="385.4" width="5.1" height="5.1"/><rect x="294.4" y="327.1" width="5.1" height="5.1"/><rect x="291.3" y="403.5" width="5.1" height="5.1"/><rect x="263.3" y="450.6" width="5.1" height="5.1"/><rect x="291.5" y="353.3" width="5.1" height="5.1"/><rect x="267.4" y="436.9" width="5.1" height="5.1"/><rect x="298.2" y="386.4" width="5.1" height="5.1"/><rect x="303.6" y="395.0" width="5.1" height="5.1"/><rect x="286.4" y="387.4" width="5.1" height="5.1"/><rect x="226.4" y="350.6" width="5.1" height="5.1"/><rect x="291.1" y="344.2" width="5.1" height="5.1"/><rect x="251.5" y="421.7" width="5.1" height="5.1"/><rect x="252.9" y="416.8" width="5.1" height="5.1"/><rect x="252.8" y="384.8" width="5.1" height="5.1"/><rect x="308.3" y="332.8" width="5.1" height="5.1"/><rect x="295.3" y="352.8" width="5.1" height="5.1"/><rect x="251.3" y="360.6" width="5.1" height="5.1"/><rect x="247.8" y="361.6" width="5.1" height="5.1"/><rect x="252.8" y="378.4" width="5.1" height="5.1"/><rect x="300.6" y="356.8" width="5.1" height="5.1"/><rect x="300.1" y="356.0" width="5.1" height="5.1"/><rect x="243.3" y="380.8" width="5.1" height="5.1"/><rect x="292.9" y="397.0" width="5.1" height="5.1"/><rect x="289.2" y="359.8" width="5.1" height="5.1"/><rect x="252.3" y="368.0" width="5.1" height="5.1"/><rect x="302.5" y="332.8" width="5.1" height="5.1"/><rect x="238.5" y="368.5" width="5.1" height="5.1"/><rect x="278.7" y="453.4" width="5.1" height="5.1"/><rect x="234.9" y="329.9" width="5.1" height="5.1"/><rect x="307.8" y="355.9" width="5.1" height="5.1"/><rect x="305.4" y="385.6" width="5.1" height="5.1"/><rect x="299.0" y="404.1" width="5.1" height="5.1"/><rect x="241.0" y="376.7" width="5.1" height="5.1"/><rect x="314.7" y="326.2" width="5.1" height="5.1"/><rect x="252.5" y="403.2" width="5.1" height="5.1"/><rect x="300.1" y="381.6" width="5.1" height="5.1"/><rect x="249.8" y="328.6" width="5.1" height="5.1"/><rect x="289.2" y="378.8" width="5.1" height="5.1"/><rect x="290.3" y="421.3" width="5.1" height="5.1"/><rect x="286.6" y="375.3" width="5.1" height="5.1"/><rect x="255.1" y="361.0" width="5.1" height="5.1"/><rect x="256.9" y="411.2" width="5.1" height="5.1"/><rect x="240.3" y="407.9" width="5.1" height="5.1"/><rect x="298.1" y="347.7" width="5.1" height="5.1"/><rect x="306.0" y="353.4" width="5.1" height="5.1"/><rect x="240.0" y="405.2" width="5.1" height="5.1"/><rect x="312.4" y="361.2" width="5.1" height="5.1"/><rect x="301.5" y="365.7" width="5.1" height="5.1"/><rect x="256.6" y="355.3" width="5.1" height="5.1"/><rect x="291.3" y="398.0" width="5.1" height="5.1"/><rect x="308.1" y="355.9" width="5.1" height="5.1"/><rect x="297.2" y="421.6" width="5.1" height="5.1"/><rect x="300.1" y="414.1" width="5.1" height="5.1"/><rect x="306.1" y="404.6" width="5.1" height="5.1"/><rect x="257.6" y="434.8" width="5.1" height="5.1"/><rect x="234.0" y="348.2" width="5.1" height="5.1"/><rect x="246.4" y="377.1" width="5.1" height="5.1"/><rect x="281.1" y="452.0" width="5.1" height="5.1"/><rect x="244.9" y="394.8" width="5.1" height="5.1"/><rect x="293.5" y="429.9" width="5.1" height="5.1"/><rect x="290.0" y="359.1" width="5.1" height="5.1"/><rect x="293.5" y="347.2" width="5.1" height="5.1"/><rect x="255.2" y="407.2" width="5.1" height="5.1"/><rect x="299.6" y="389.4" width="5.1" height="5.1"/><rect x="256.1" y="382.8" width="5.1" height="5.1"/><rect x="224.3" y="354.3" width="5.1" height="5.1"/><rect x="254.3" y="429.5" width="5.1" height="5.1"/><rect x="253.2" y="431.7" width="5.1" height="5.1"/><rect x="307.8" y="339.3" width="5.1" height="5.1"/><rect x="283.6" y="436.6" width="5.1" height="5.1"/><rect x="260.8" y="416.7" width="5.1" height="5.1"/><rect x="250.4" y="327.3" width="5.1" height="5.1"/><rect x="230.3" y="325.1" width="5.1" height="5.1"/><rect x="296.6" y="406.1" width="5.1" height="5.1"/><rect x="276.7" y="453.2" width="5.1" height="5.1"/><rect x="246.2" y="414.9" width="5.1" height="5.1"/><rect x="282.2" y="431.1" width="5.1" height="5.1"/><rect x="287.0" y="399.1" width="5.1" height="5.1"/><rect x="302.5" y="360.7" width="5.1" height="5.1"/><rect x="235.1" y="377.3" width="5.1" height="5.1"/><rect x="288.6" y="386.6" width="5.1" height="5.1"/><rect x="258.7" y="437.0" width="5.1" height="5.1"/><rect x="313.0" y="352.1" width="5.1" height="5.1"/><rect x="305.0" y="334.9" width="5.1" height="5.1"/><rect x="291.6" y="398.8" width="5.1" height="5.1"/><rect x="293.1" y="433.6" width="5.1" height="5.1"/><rect x="247.0" y="338.8" width="5.1" height="5.1"/><rect x="286.1" y="415.0" width="5.1" height="5.1"/><rect x="234.2" y="354.6" width="5.1" height="5.1"/><rect x="315.1" y="367.4" width="5.1" height="5.1"/><rect x="264.0" y="423.3" width="5.1" height="5.1"/><rect x="296.3" y="378.9" width="5.1" height="5.1"/><rect x="288.4" y="402.3" width="5.1" height="5.1"/><rect x="249.0" y="407.8" width="5.1" height="5.1"/><rect x="284.1" y="414.3" width="5.1" height="5.1"/><rect x="243.7" y="368.5" width="5.1" height="5.1"/><rect x="255.8" y="349.8" width="5.1" height="5.1"/><rect x="287.9" y="366.4" width="5.1" height="5.1"/><rect x="257.2" y="377.9" width="5.1" height="5.1"/><rect x="305.8" y="340.9" width="5.1" height="5.1"/><rect x="271.0" y="455.7" width="5.1" height="5.1"/><rect x="249.7" y="379.1" width="5.1" height="5.1"/><rect x="280.4" y="456.6" width="5.1" height="5.1"/><rect x="301.9" y="334.3" width="5.1" height="5.1"/><rect x="205.6" y="337.1" width="5.1" height="5.1"/><rect x="245.6" y="335.7" width="5.1" height="5.1"/><rect x="293.5" y="330.2" width="5.1" height="5.1"/><rect x="297.8" y="418.3" width="5.1" height="5.1"/><rect x="288.3" y="406.4" width="5.1" height="5.1"/><rect x="244.4" y="343.0" width="5.1" height="5.1"/><rect x="232.9" y="326.4" width="5.1" height="5.1"/><rect x="239.6" y="331.1" width="5.1" height="5.1"/><rect x="246.5" y="398.3" width="5.1" height="5.1"/><rect x="296.2" y="344.9" width="5.1" height="5.1"/><rect x="292.0" y="370.8" width="5.1" height="5.1"/><rect x="234.3" y="333.6" width="5.1" height="5.1"/><rect x="274.0" y="457.1" width="5.1" height="5.1"/><rect x="292.6" y="342.4" width="5.1" height="5.1"/><rect x="235.7" y="359.2" width="5.1" height="5.1"/><rect x="255.3" y="413.6" width="5.1" height="5.1"/><rect x="235.7" y="392.6" width="5.1" height="5.1"/><rect x="265.1" y="441.4" width="5.1" height="5.1"/><rect x="298.8" y="392.0" width="5.1" height="5.1"/><rect x="257.2" y="418.1" width="5.1" height="5.1"/><rect x="269.0" y="448.1" width="5.1" height="5.1"/><rect x="257.9" y="418.1" width="5.1" height="5.1"/><rect x="307.2" y="368.5" width="5.1" height="5.1"/><rect x="235.8" y="330.4" width="5.1" height="5.1"/><rect x="278.2" y="453.9" width="5.1" height="5.1"/><rect x="302.2" y="403.7" width="5.1" height="5.1"/><rect x="249.9" y="390.8" width="5.1" height="5.1"/><rect x="226.6" y="369.4" width="5.1" height="5.1"/><rect x="244.4" y="393.8" width="5.1" height="5.1"/><rect x="295.1" y="325.1" width="5.1" height="5.1"/><rect x="303.5" y="354.3" width="5.1" height="5.1"/><rect x="236.4" y="397.4" width="5.1" height="5.1"/><rect x="282.5" y="434.1" width="5.1" height="5.1"/><rect x="283.5" y="437.1" width="5.1" height="5.1"/><rect x="238.3" y="353.5" width="5.1" height="5.1"/><rect x="257.6" y="440.4" width="5.1" height="5.1"/><rect x="288.0" y="441.2" width="5.1" height="5.1"/><rect x="221.0" y="351.1" width="5.1" height="5.1"/><rect x="304.9" y="336.4" width="5.1" height="5.1"/><rect x="258.6" y="378.8" width="5.1" height="5.1"/><rect x="314.1" y="374.8" width="5.1" height="5.1"/><rect x="294.0" y="387.9" width="5.1" height="5.1"/><rect x="303.4" y="377.7" width="5.1" height="5.1"/><rect x="253.7" y="333.0" width="5.1" height="5.1"/><rect x="258.1" y="406.4" width="5.1" height="5.1"/><rect x="287.3" y="427.7" width="5.1" height="5.1"/><rect x="302.9" y="375.9" width="5.1" height="5.1"/><rect x="288.7" y="376.7" width="5.1" height="5.1"/><rect x="231.6" y="348.6" width="5.1" height="5.1"/><rect x="244.9" y="409.3" width="5.1" height="5.1"/><rect x="242.3" y="336.4" width="5.1" height="5.1"/><rect x="252.8" y="398.2" width="5.1" height="5.1"/><rect x="239.0" y="392.5" width="5.1" height="5.1"/><rect x="244.8" y="366.6" width="5.1" height="5.1"/><rect x="225.4" y="345.8" width="5.1" height="5.1"/><rect x="285.5" y="437.5" width="5.1" height="5.1"/><rect x="252.2" y="368.8" width="5.1" height="5.1"/><rect x="295.5" y="366.4" width="5.1" height="5.1"/><rect x="310.8" y="336.3" width="5.1" height="5.1"/><rect x="298.4" y="326.6" width="5.1" height="5.1"/><rect x="297.4" y="396.8" width="5.1" height="5.1"/><rect x="247.6" y="425.6" width="5.1" height="5.1"/><rect x="295.1" y="415.0" width="5.1" height="5.1"/><rect x="259.3" y="404.0" width="5.1" height="5.1"/><rect x="250.0" y="327.1" width="5.1" height="5.1"/><rect x="298.6" y="355.1" width="5.1" height="5.1"/><rect x="227.5" y="356.6" width="5.1" height="5.1"/><rect x="305.7" y="344.9" width="5.1" height="5.1"/><rect x="289.3" y="410.8" width="5.1" height="5.1"/><rect x="289.1" y="360.2" width="5.1" height="5.1"/><rect x="247.9" y="367.0" width="5.1" height="5.1"/><rect x="236.4" y="350.4" width="5.1" height="5.1"/><rect x="271.3" y="457.5" width="5.1" height="5.1"/><rect x="242.3" y="333.1" width="5.1" height="5.1"/><rect x="255.5" y="436.2" width="5.1" height="5.1"/><rect x="311.5" y="340.1" width="5.1" height="5.1"/><rect x="246.9" y="376.9" width="5.1" height="5.1"/><rect x="250.6" y="386.9" width="5.1" height="5.1"/><rect x="284.7" y="431.7" width="5.1" height="5.1"/><rect x="292.5" y="417.2" width="5.1" height="5.1"/><rect x="224.8" y="352.2" width="5.1" height="5.1"/><rect x="293.1" y="363.6" width="5.1" height="5.1"/><rect x="312.3" y="371.1" width="5.1" height="5.1"/><rect x="291.8" y="437.1" width="5.1" height="5.1"/><rect x="287.5" y="393.3" width="5.1" height="5.1"/><rect x="254.7" y="426.6" width="5.1" height="5.1"/><rect x="301.5" y="347.3" width="5.1" height="5.1"/><rect x="248.6" y="428.8" width="5.1" height="5.1"/><rect x="311.8" y="360.3" width="5.1" height="5.1"/><rect x="293.4" y="429.5" width="5.1" height="5.1"/><rect x="309.2" y="332.2" width="5.1" height="5.1"/><rect x="285.1" y="403.7" width="5.1" height="5.1"/><rect x="296.3" y="328.5" width="5.1" height="5.1"/><rect x="306.5" y="388.7" width="5.1" height="5.1"/><rect x="249.4" y="330.9" width="5.1" height="5.1"/><rect x="289.1" y="421.3" width="5.1" height="5.1"/><rect x="229.2" y="369.2" width="5.1" height="5.1"/><rect x="294.1" y="415.9" width="5.1" height="5.1"/><rect x="308.9" y="369.4" width="5.1" height="5.1"/><rect x="236.1" y="389.9" width="5.1" height="5.1"/><rect x="263.6" y="444.5" width="5.1" height="5.1"/><rect x="255.0" y="403.2" width="5.1" height="5.1"/><rect x="251.8" y="400.4" width="5.1" height="5.1"/><rect x="248.7" y="431.5" width="5.1" height="5.1"/><rect x="312.5" y="372.0" width="5.1" height="5.1"/><rect x="279.9" y="451.6" width="5.1" height="5.1"/><rect x="299.4" y="389.0" width="5.1" height="5.1"/><rect x="319.2" y="367.4" width="5.1" height="5.1"/><rect x="262.1" y="401.0" width="5.1" height="5.1"/><rect x="264.6" y="432.2" width="5.1" height="5.1"/><rect x="235.2" y="376.4" width="5.1" height="5.1"/><rect x="312.7" y="330.2" width="5.1" height="5.1"/><rect x="287.4" y="442.5" width="5.1" height="5.1"/><rect x="252.6" y="362.9" width="5.1" height="5.1"/><rect x="311.1" y="401.3" width="5.1" height="5.1"/><rect x="232.4" y="375.5" width="5.1" height="5.1"/><rect x="286.2" y="441.3" width="5.1" height="5.1"/><rect x="254.2" y="425.7" width="5.1" height="5.1"/><rect x="304.6" y="375.1" width="5.1" height="5.1"/><rect x="234.1" y="343.4" width="5.1" height="5.1"/><rect x="265.1" y="429.0" width="5.1" height="5.1"/><rect x="301.1" y="349.4" width="5.1" height="5.1"/><rect x="211.9" y="342.9" width="5.1" height="5.1"/><rect x="235.3" y="363.5" width="5.1" height="5.1"/><rect x="268.1" y="447.9" width="5.1" height="5.1"/><rect x="311.2" y="394.5" width="5.1" height="5.1"/><rect x="289.2" y="434.9" width="5.1" height="5.1"/><rect x="260.0" y="401.9" width="5.1" height="5.1"/><rect x="237.2" y="332.5" width="5.1" height="5.1"/><rect x="256.4" y="380.7" width="5.1" height="5.1"/><rect x="250.0" y="412.3" width="5.1" height="5.1"/><rect x="255.5" y="410.5" width="5.1" height="5.1"/><rect x="262.3" y="442.3" width="5.1" height="5.1"/><rect x="228.3" y="361.1" width="5.1" height="5.1"/><rect x="237.0" y="370.4" width="5.1" height="5.1"/><rect x="295.8" y="431.1" width="5.1" height="5.1"/><rect x="252.5" y="353.7" width="5.1" height="5.1"/><rect x="255.0" y="370.3" width="5.1" height="5.1"/><rect x="296.7" y="354.2" width="5.1" height="5.1"/><rect x="286.6" y="387.1" width="5.1" height="5.1"/><rect x="254.9" y="400.6" width="5.1" height="5.1"/><rect x="254.8" y="348.6" width="5.1" height="5.1"/><rect x="305.6" y="376.3" width="5.1" height="5.1"/><rect x="281.4" y="454.7" width="5.1" height="5.1"/><rect x="230.8" y="345.1" width="5.1" height="5.1"/><rect x="266.6" y="442.0" width="5.1" height="5.1"/><rect x="247.2" y="399.5" width="5.1" height="5.1"/><rect x="311.6" y="325.2" width="5.1" height="5.1"/><rect x="246.6" y="361.3" width="5.1" height="5.1"/><rect x="254.5" y="357.7" width="5.1" height="5.1"/><rect x="306.8" y="337.7" width="5.1" height="5.1"/><rect x="305.0" y="350.0" width="5.1" height="5.1"/><rect x="262.3" y="406.3" width="5.1" height="5.1"/><rect x="237.9" y="346.7" width="5.1" height="5.1"/><rect x="289.4" y="420.2" width="5.1" height="5.1"/><rect x="241.5" y="367.7" width="5.1" height="5.1"/><rect x="248.0" y="396.6" width="5.1" height="5.1"/><rect x="295.0" y="337.9" width="5.1" height="5.1"/><rect x="254.3" y="367.1" width="5.1" height="5.1"/><rect x="296.3" y="420.5" width="5.1" height="5.1"/><rect x="228.3" y="356.5" width="5.1" height="5.1"/><rect x="259.3" y="403.4" width="5.1" height="5.1"/><rect x="232.0" y="335.5" width="5.1" height="5.1"/><rect x="240.1" y="337.7" width="5.1" height="5.1"/><rect x="236.6" y="401.9" width="5.1" height="5.1"/><rect x="311.5" y="384.5" width="5.1" height="5.1"/><rect x="256.0" y="399.7" width="5.1" height="5.1"/><rect x="297.2" y="344.0" width="5.1" height="5.1"/><rect x="306.3" y="327.6" width="5.1" height="5.1"/><rect x="300.2" y="362.2" width="5.1" height="5.1"/><rect x="296.4" y="374.0" width="5.1" height="5.1"/><rect x="291.5" y="414.8" width="5.1" height="5.1"/><rect x="291.7" y="337.5" width="5.1" height="5.1"/><rect x="246.2" y="407.5" width="5.1" height="5.1"/><rect x="303.0" y="366.4" width="5.1" height="5.1"/><rect x="313.4" y="346.9" width="5.1" height="5.1"/><rect x="262.0" y="435.3" width="5.1" height="5.1"/><rect x="260.0" y="385.4" width="5.1" height="5.1"/><rect x="314.8" y="335.2" width="5.1" height="5.1"/><rect x="292.7" y="390.2" width="5.1" height="5.1"/><rect x="239.1" y="330.5" width="5.1" height="5.1"/><rect x="255.0" y="424.8" width="5.1" height="5.1"/><rect x="260.0" y="387.0" width="5.1" height="5.1"/><rect x="251.4" y="346.8" width="5.1" height="5.1"/><rect x="248.5" y="342.0" width="5.1" height="5.1"/><rect x="230.8" y="347.3" width="5.1" height="5.1"/><rect x="228.6" y="363.1" width="5.1" height="5.1"/><rect x="248.3" y="382.1" width="5.1" height="5.1"/><rect x="252.0" y="420.4" width="5.1" height="5.1"/><rect x="258.3" y="390.1" width="5.1" height="5.1"/><rect x="247.1" y="368.2" width="5.1" height="5.1"/><rect x="304.0" y="386.5" width="5.1" height="5.1"/><rect x="290.1" y="361.4" width="5.1" height="5.1"/><rect x="297.5" y="426.9" width="5.1" height="5.1"/><rect x="243.1" y="408.0" width="5.1" height="5.1"/><rect x="306.4" y="337.2" width="5.1" height="5.1"/><rect x="228.5" y="334.7" width="5.1" height="5.1"/><rect x="292.0" y="348.0" width="5.1" height="5.1"/><rect x="290.8" y="432.6" width="5.1" height="5.1"/><rect x="229.1" y="359.5" width="5.1" height="5.1"/><rect x="275.4" y="450.5" width="5.1" height="5.1"/><rect x="243.7" y="386.7" width="5.1" height="5.1"/><rect x="256.4" y="429.2" width="5.1" height="5.1"/><rect x="290.9" y="427.7" width="5.1" height="5.1"/><rect x="249.1" y="325.7" width="5.1" height="5.1"/><rect x="254.9" y="423.7" width="5.1" height="5.1"/><rect x="250.0" y="415.0" width="5.1" height="5.1"/><rect x="298.1" y="420.9" width="5.1" height="5.1"/><rect x="243.2" y="395.8" width="5.1" height="5.1"/><rect x="298.8" y="347.3" width="5.1" height="5.1"/><rect x="288.8" y="402.6" width="5.1" height="5.1"/><rect x="246.2" y="352.5" width="5.1" height="5.1"/><rect x="288.7" y="388.4" width="5.1" height="5.1"/><rect x="243.2" y="392.4" width="5.1" height="5.1"/><rect x="283.9" y="417.3" width="5.1" height="5.1"/><rect x="298.0" y="409.7" width="5.1" height="5.1"/><rect x="256.2" y="425.9" width="5.1" height="5.1"/><rect x="250.8" y="330.1" width="5.1" height="5.1"/><rect x="257.4" y="422.7" width="5.1" height="5.1"/><rect x="288.5" y="438.8" width="5.1" height="5.1"/><rect x="267.1" y="438.9" width="5.1" height="5.1"/><rect x="299.8" y="337.9" width="5.1" height="5.1"/><rect x="245.2" y="390.8" width="5.1" height="5.1"/><rect x="301.7" y="399.1" width="5.1" height="5.1"/><rect x="262.3" y="425.0" width="5.1" height="5.1"/><rect x="288.5" y="347.2" width="5.1" height="5.1"/><rect x="284.9" y="450.9" width="5.1" height="5.1"/><rect x="253.8" y="351.6" width="5.1" height="5.1"/><rect x="294.3" y="343.0" width="5.1" height="5.1"/><rect x="291.0" y="361.8" width="5.1" height="5.1"/><rect x="257.5" y="362.8" width="5.1" height="5.1"/><rect x="307.6" y="364.0" width="5.1" height="5.1"/><rect x="284.5" y="403.2" width="5.1" height="5.1"/><rect x="293.2" y="392.5" width="5.1" height="5.1"/><rect x="250.7" y="385.0" width="5.1" height="5.1"/><rect x="304.5" y="400.9" width="5.1" height="5.1"/><rect x="312.2" y="326.2" width="5.1" height="5.1"/><rect x="294.1" y="425.3" width="5.1" height="5.1"/><rect x="250.7" y="386.5" width="5.1" height="5.1"/><rect x="223.6" y="361.5" width="5.1" height="5.1"/><rect x="306.7" y="374.9" width="5.1" height="5.1"/><rect x="294.4" y="345.4" width="5.1" height="5.1"/><rect x="286.1" y="435.3" width="5.1" height="5.1"/><rect x="256.3" y="381.7" width="5.1" height="5.1"/><rect x="308.9" y="325.1" width="5.1" height="5.1"/><rect x="256.5" y="400.2" width="5.1" height="5.1"/><rect x="284.1" y="438.9" width="5.1" height="5.1"/><rect x="277.0" y="445.5" width="5.1" height="5.1"/><rect x="295.7" y="343.0" width="5.1" height="5.1"/><rect x="274.0" y="457.2" width="5.1" height="5.1"/><rect x="229.3" y="336.4" width="5.1" height="5.1"/><rect x="290.1" y="343.7" width="5.1" height="5.1"/><rect x="290.0" y="397.7" width="5.1" height="5.1"/><rect x="301.4" y="351.8" width="5.1" height="5.1"/><rect x="305.1" y="352.3" width="5.1" height="5.1"/><rect x="310.2" y="368.8" width="5.1" height="5.1"/><rect x="248.4" y="401.2" width="5.1" height="5.1"/><rect x="239.6" y="388.1" width="5.1" height="5.1"/><rect x="254.1" y="336.5" width="5.1" height="5.1"/><rect x="309.1" y="405.3" width="5.1" height="5.1"/><rect x="263.9" y="439.9" width="5.1" height="5.1"/><rect x="251.3" y="388.9" width="5.1" height="5.1"/><rect x="306.0" y="373.6" width="5.1" height="5.1"/><rect x="230.9" y="337.0" width="5.1" height="5.1"/><rect x="292.7" y="330.5" width="5.1" height="5.1"/><rect x="286.2" y="445.5" width="5.1" height="5.1"/><rect x="228.4" y="337.6" width="5.1" height="5.1"/><rect x="293.1" y="435.1" width="5.1" height="5.1"/><rect x="289.6" y="375.2" width="5.1" height="5.1"/><rect x="255.3" y="435.4" width="5.1" height="5.1"/><rect x="251.6" y="371.2" width="5.1" height="5.1"/><rect x="286.3" y="446.4" width="5.1" height="5.1"/><rect x="287.8" y="372.6" width="5.1" height="5.1"/><rect x="306.1" y="402.3" width="5.1" height="5.1"/><rect x="244.3" y="414.6" width="5.1" height="5.1"/><rect x="294.8" y="409.7" width="5.1" height="5.1"/><rect x="297.7" y="356.0" width="5.1" height="5.1"/><rect x="237.3" y="355.9" width="5.1" height="5.1"/><rect x="301.0" y="366.2" width="5.1" height="5.1"/><rect x="286.4" y="367.5" width="5.1" height="5.1"/><rect x="306.8" y="379.8" width="5.1" height="5.1"/><rect x="231.2" y="331.1" width="5.1" height="5.1"/><rect x="280.9" y="427.8" width="5.1" height="5.1"/><rect x="237.4" y="384.0" width="5.1" height="5.1"/><rect x="252.6" y="385.6" width="5.1" height="5.1"/><rect x="300.7" y="409.2" width="5.1" height="5.1"/><rect x="268.1" y="439.3" width="5.1" height="5.1"/><rect x="307.2" y="358.5" width="5.1" height="5.1"/><rect x="285.9" y="408.6" width="5.1" height="5.1"/><rect x="242.0" y="334.4" width="5.1" height="5.1"/><rect x="282.0" y="444.9" width="5.1" height="5.1"/><rect x="286.9" y="441.6" width="5.1" height="5.1"/><rect x="252.0" y="387.7" width="5.1" height="5.1"/><rect x="281.5" y="442.8" width="5.1" height="5.1"/><rect x="229.0" y="350.4" width="5.1" height="5.1"/><rect x="300.2" y="345.0" width="5.1" height="5.1"/><rect x="232.3" y="339.4" width="5.1" height="5.1"/><rect x="300.0" y="408.1" width="5.1" height="5.1"/><rect x="305.1" y="354.1" width="5.1" height="5.1"/><rect x="255.7" y="438.2" width="5.1" height="5.1"/><rect x="256.7" y="439.5" width="5.1" height="5.1"/><rect x="248.2" y="343.0" width="5.1" height="5.1"/><rect x="234.0" y="341.4" width="5.1" height="5.1"/><rect x="325.6" y="358.9" width="5.1" height="5.1"/><rect x="307.8" y="332.2" width="5.1" height="5.1"/><rect x="257.0" y="427.9" width="5.1" height="5.1"/><rect x="289.6" y="401.6" width="5.1" height="5.1"/><rect x="310.0" y="395.2" width="5.1" height="5.1"/><rect x="225.4" y="362.9" width="5.1" height="5.1"/><rect x="225.8" y="352.4" width="5.1" height="5.1"/><rect x="291.6" y="428.0" width="5.1" height="5.1"/><rect x="248.9" y="332.6" width="5.1" height="5.1"/><rect x="239.4" y="355.7" width="5.1" height="5.1"/><rect x="290.9" y="419.4" width="5.1" height="5.1"/><rect x="306.0" y="389.4" width="5.1" height="5.1"/><rect x="286.7" y="387.4" width="5.1" height="5.1"/><rect x="248.4" y="358.9" width="5.1" height="5.1"/><rect x="242.2" y="409.0" width="5.1" height="5.1"/><rect x="296.7" y="377.0" width="5.1" height="5.1"/><rect x="286.7" y="403.5" width="5.1" height="5.1"/><rect x="299.3" y="418.0" width="5.1" height="5.1"/><rect x="252.3" y="415.8" width="5.1" height="5.1"/><rect x="228.5" y="372.1" width="5.1" height="5.1"/><rect x="256.6" y="366.9" width="5.1" height="5.1"/><rect x="288.8" y="356.8" width="5.1" height="5.1"/><rect x="306.9" y="357.6" width="5.1" height="5.1"/><rect x="257.1" y="372.4" width="5.1" height="5.1"/><rect x="252.5" y="399.4" width="5.1" height="5.1"/><rect x="285.4" y="399.1" width="5.1" height="5.1"/><rect x="311.7" y="351.9" width="5.1" height="5.1"/><rect x="291.0" y="369.5" width="5.1" height="5.1"/><rect x="263.0" y="434.5" width="5.1" height="5.1"/><rect x="249.4" y="352.7" width="5.1" height="5.1"/><rect x="269.5" y="457.7" width="5.1" height="5.1"/><rect x="299.8" y="356.7" width="5.1" height="5.1"/><rect x="283.5" y="426.4" width="5.1" height="5.1"/><rect x="235.2" y="342.4" width="5.1" height="5.1"/><rect x="282.0" y="433.6" width="5.1" height="5.1"/><rect x="284.6" y="398.9" width="5.1" height="5.1"/><rect x="282.1" y="441.8" width="5.1" height="5.1"/><rect x="313.4" y="341.7" width="5.1" height="5.1"/><rect x="233.5" y="363.9" width="5.1" height="5.1"/><rect x="309.5" y="385.6" width="5.1" height="5.1"/><rect x="306.2" y="408.9" width="5.1" height="5.1"/><rect x="326.1" y="345.1" width="5.1" height="5.1"/><rect x="299.8" y="405.3" width="5.1" height="5.1"/><rect x="244.8" y="402.5" width="5.1" height="5.1"/><rect x="255.8" y="423.7" width="5.1" height="5.1"/><rect x="313.3" y="377.2" width="5.1" height="5.1"/><rect x="235.4" y="371.9" width="5.1" height="5.1"/><rect x="299.5" y="352.4" width="5.1" height="5.1"/><rect x="301.0" y="409.9" width="5.1" height="5.1"/><rect x="280.3" y="435.7" width="5.1" height="5.1"/><rect x="251.9" y="361.9" width="5.1" height="5.1"/><rect x="259.9" y="413.5" width="5.1" height="5.1"/><rect x="257.0" y="435.1" width="5.1" height="5.1"/><rect x="296.7" y="404.4" width="5.1" height="5.1"/><rect x="247.9" y="348.9" width="5.1" height="5.1"/><rect x="314.8" y="355.6" width="5.1" height="5.1"/><rect x="240.3" y="408.3" width="5.1" height="5.1"/><rect x="280.9" y="432.7" width="5.1" height="5.1"/><rect x="293.6" y="435.6" width="5.1" height="5.1"/><rect x="310.3" y="362.3" width="5.1" height="5.1"/><rect x="293.7" y="428.6" width="5.1" height="5.1"/><rect x="268.7" y="449.7" width="5.1" height="5.1"/><rect x="232.6" y="375.6" width="5.1" height="5.1"/><rect x="305.3" y="350.8" width="5.1" height="5.1"/><rect x="287.5" y="356.0" width="5.1" height="5.1"/><rect x="260.9" y="423.3" width="5.1" height="5.1"/><rect x="222.9" y="342.9" width="5.1" height="5.1"/><rect x="253.5" y="334.9" width="5.1" height="5.1"/><rect x="241.4" y="358.6" width="5.1" height="5.1"/><rect x="294.9" y="397.4" width="5.1" height="5.1"/><rect x="240.3" y="353.3" width="5.1" height="5.1"/><rect x="225.4" y="345.7" width="5.1" height="5.1"/><rect x="306.3" y="354.8" width="5.1" height="5.1"/><rect x="304.1" y="413.9" width="5.1" height="5.1"/><rect x="230.8" y="355.0" width="5.1" height="5.1"/><rect x="252.0" y="421.7" width="5.1" height="5.1"/><rect x="285.3" y="399.3" width="5.1" height="5.1"/><rect x="251.3" y="429.7" width="5.1" height="5.1"/><rect x="292.3" y="326.6" width="5.1" height="5.1"/><rect x="292.2" y="329.9" width="5.1" height="5.1"/><rect x="310.2" y="372.6" width="5.1" height="5.1"/><rect x="287.1" y="359.1" width="5.1" height="5.1"/><rect x="241.8" y="336.8" width="5.1" height="5.1"/><rect x="299.5" y="326.6" width="5.1" height="5.1"/><rect x="304.5" y="404.1" width="5.1" height="5.1"/><rect x="259.0" y="429.5" width="5.1" height="5.1"/><rect x="295.9" y="391.4" width="5.1" height="5.1"/><rect x="235.2" y="357.1" width="5.1" height="5.1"/><rect x="266.0" y="452.4" width="5.1" height="5.1"/><rect x="295.6" y="374.9" width="5.1" height="5.1"/><rect x="240.9" y="409.5" width="5.1" height="5.1"/><rect x="292.3" y="417.2" width="5.1" height="5.1"/><rect x="301.4" y="333.8" width="5.1" height="5.1"/><rect x="288.6" y="425.8" width="5.1" height="5.1"/><rect x="288.8" y="373.4" width="5.1" height="5.1"/><rect x="233.9" y="384.7" width="5.1" height="5.1"/><rect x="257.6" y="438.9" width="5.1" height="5.1"/><rect x="249.5" y="430.4" width="5.1" height="5.1"/><rect x="232.8" y="365.9" width="5.1" height="5.1"/><rect x="283.5" y="434.4" width="5.1" height="5.1"/><rect x="239.4" y="373.7" width="5.1" height="5.1"/><rect x="296.0" y="423.6" width="5.1" height="5.1"/><rect x="306.9" y="326.1" width="5.1" height="5.1"/><rect x="292.5" y="415.0" width="5.1" height="5.1"/><rect x="240.3" y="356.4" width="5.1" height="5.1"/><rect x="289.0" y="408.2" width="5.1" height="5.1"/><rect x="290.6" y="364.4" width="5.1" height="5.1"/><rect x="243.7" y="410.5" width="5.1" height="5.1"/><rect x="248.1" y="336.8" width="5.1" height="5.1"/><rect x="295.1" y="365.4" width="5.1" height="5.1"/><rect x="241.2" y="350.0" width="5.1" height="5.1"/><rect x="242.7" y="329.8" width="5.1" height="5.1"/><rect x="291.2" y="325.1" width="5.1" height="5.1"/><rect x="263.3" y="418.4" width="5.1" height="5.1"/><rect x="270.0" y="453.3" width="5.1" height="5.1"/><rect x="305.4" y="350.0" width="5.1" height="5.1"/><rect x="350.6" y="331.9" width="5.1" height="5.1"/><rect x="265.7" y="453.9" width="5.1" height="5.1"/><rect x="233.4" y="367.5" width="5.1" height="5.1"/><rect x="302.5" y="411.5" width="5.1" height="5.1"/><rect x="291.6" y="392.1" width="5.1" height="5.1"/><rect x="237.2" y="393.8" width="5.1" height="5.1"/><rect x="258.5" y="371.4" width="5.1" height="5.1"/><rect x="260.5" y="389.4" width="5.1" height="5.1"/><rect x="288.3" y="376.7" width="5.1" height="5.1"/><rect x="269.4" y="442.6" width="5.1" height="5.1"/><rect x="287.7" y="366.8" width="5.1" height="5.1"/><rect x="248.3" y="421.3" width="5.1" height="5.1"/><rect x="256.1" y="427.4" width="5.1" height="5.1"/><rect x="243.7" y="390.1" width="5.1" height="5.1"/><rect x="236.5" y="397.2" width="5.1" height="5.1"/><rect x="251.4" y="410.3" width="5.1" height="5.1"/><rect x="289.3" y="406.5" width="5.1" height="5.1"/><rect x="243.9" y="387.4" width="5.1" height="5.1"/><rect x="292.0" y="371.5" width="5.1" height="5.1"/><rect x="229.6" y="372.1" width="5.1" height="5.1"/><rect x="284.2" y="399.0" width="5.1" height="5.1"/><rect x="246.0" y="365.0" width="5.1" height="5.1"/><rect x="309.9" y="325.4" width="5.1" height="5.1"/><rect x="253.9" y="351.0" width="5.1" height="5.1"/><rect x="310.7" y="357.6" width="5.1" height="5.1"/><rect x="250.0" y="347.9" width="5.1" height="5.1"/><rect x="265.3" y="428.3" width="5.1" height="5.1"/><rect x="289.1" y="358.0" width="5.1" height="5.1"/><rect x="306.6" y="332.9" width="5.1" height="5.1"/><rect x="244.7" y="330.9" width="5.1" height="5.1"/><rect x="251.6" y="405.2" width="5.1" height="5.1"/><rect x="302.1" y="401.3" width="5.1" height="5.1"/><rect x="289.1" y="411.0" width="5.1" height="5.1"/><rect x="296.0" y="325.1" width="5.1" height="5.1"/><rect x="293.9" y="425.6" width="5.1" height="5.1"/><rect x="317.4" y="327.7" width="5.1" height="5.1"/><rect x="233.3" y="343.2" width="5.1" height="5.1"/><rect x="249.7" y="331.1" width="5.1" height="5.1"/><rect x="231.2" y="363.1" width="5.1" height="5.1"/><rect x="308.1" y="348.7" width="5.1" height="5.1"/><rect x="291.2" y="392.9" width="5.1" height="5.1"/><rect x="248.0" y="388.0" width="5.1" height="5.1"/><rect x="231.0" y="382.0" width="5.1" height="5.1"/><rect x="288.6" y="408.3" width="5.1" height="5.1"/><rect x="288.3" y="428.8" width="5.1" height="5.1"/><rect x="293.6" y="395.5" width="5.1" height="5.1"/><rect x="252.6" y="357.8" width="5.1" height="5.1"/><rect x="299.0" y="424.2" width="5.1" height="5.1"/><rect x="245.6" y="406.7" width="5.1" height="5.1"/><rect x="261.6" y="431.7" width="5.1" height="5.1"/><rect x="281.2" y="441.3" width="5.1" height="5.1"/><rect x="225.6" y="354.2" width="5.1" height="5.1"/><rect x="226.9" y="367.6" width="5.1" height="5.1"/><rect x="305.7" y="362.7" width="5.1" height="5.1"/><rect x="263.7" y="419.9" width="5.1" height="5.1"/><rect x="244.3" y="395.7" width="5.1" height="5.1"/><rect x="300.4" y="391.8" width="5.1" height="5.1"/><rect x="300.4" y="344.0" width="5.1" height="5.1"/><rect x="267.0" y="435.2" width="5.1" height="5.1"/><rect x="257.5" y="432.7" width="5.1" height="5.1"/><rect x="262.7" y="437.5" width="5.1" height="5.1"/><rect x="232.6" y="371.0" width="5.1" height="5.1"/><rect x="305.4" y="370.0" width="5.1" height="5.1"/><rect x="286.1" y="390.3" width="5.1" height="5.1"/><rect x="270.1" y="453.5" width="5.1" height="5.1"/><rect x="254.8" y="405.2" width="5.1" height="5.1"/><rect x="257.0" y="365.9" width="5.1" height="5.1"/><rect x="286.9" y="364.7" width="5.1" height="5.1"/><rect x="295.8" y="430.8" width="5.1" height="5.1"/><rect x="247.7" y="406.8" width="5.1" height="5.1"/><rect x="240.6" y="401.3" width="5.1" height="5.1"/><rect x="247.7" y="330.9" width="5.1" height="5.1"/><rect x="245.6" y="424.7" width="5.1" height="5.1"/><rect x="255.7" y="422.1" width="5.1" height="5.1"/><rect x="296.2" y="365.8" width="5.1" height="5.1"/><rect x="314.9" y="371.1" width="5.1" height="5.1"/><rect x="260.6" y="416.0" width="5.1" height="5.1"/><rect x="298.0" y="367.2" width="5.1" height="5.1"/><rect x="314.4" y="330.5" width="5.1" height="5.1"/><rect x="296.4" y="413.5" width="5.1" height="5.1"/><rect x="283.8" y="404.4" width="5.1" height="5.1"/><rect x="309.5" y="338.7" width="5.1" height="5.1"/><rect x="289.7" y="431.1" width="5.1" height="5.1"/><rect x="245.3" y="338.3" width="5.1" height="5.1"/><rect x="265.0" y="428.2" width="5.1" height="5.1"/><rect x="297.7" y="397.5" width="5.1" height="5.1"/><rect x="296.4" y="387.6" width="5.1" height="5.1"/><rect x="315.0" y="364.2" width="5.1" height="5.1"/><rect x="250.7" y="364.1" width="5.1" height="5.1"/><rect x="231.1" y="339.5" width="5.1" height="5.1"/><rect x="291.5" y="381.1" width="5.1" height="5.1"/><rect x="252.7" y="327.7" width="5.1" height="5.1"/><rect x="308.7" y="348.0" width="5.1" height="5.1"/><rect x="262.9" y="410.7" width="5.1" height="5.1"/><rect x="251.2" y="348.4" width="5.1" height="5.1"/><rect x="289.1" y="373.9" width="5.1" height="5.1"/><rect x="306.2" y="375.3" width="5.1" height="5.1"/><rect x="246.7" y="394.4" width="5.1" height="5.1"/><rect x="277.3" y="447.9" width="5.1" height="5.1"/><rect x="243.8" y="349.3" width="5.1" height="5.1"/><rect x="255.3" y="414.3" width="5.1" height="5.1"/><rect x="293.3" y="375.7" width="5.1" height="5.1"/><rect x="262.8" y="424.5" width="5.1" height="5.1"/><rect x="289.1" y="416.3" width="5.1" height="5.1"/><rect x="306.4" y="384.4" width="5.1" height="5.1"/><rect x="246.6" y="395.6" width="5.1" height="5.1"/><rect x="297.5" y="355.3" width="5.1" height="5.1"/><rect x="247.6" y="335.4" width="5.1" height="5.1"/><rect x="244.2" y="398.4" width="5.1" height="5.1"/><rect x="262.5" y="448.3" width="5.1" height="5.1"/><rect x="257.7" y="395.4" width="5.1" height="5.1"/><rect x="224.9" y="362.3" width="5.1" height="5.1"/><rect x="283.5" y="427.3" width="5.1" height="5.1"/><rect x="235.6" y="391.3" width="5.1" height="5.1"/><rect x="294.0" y="351.8" width="5.1" height="5.1"/><rect x="228.9" y="369.5" width="5.1" height="5.1"/><rect x="299.0" y="332.5" width="5.1" height="5.1"/><rect x="284.0" y="433.0" width="5.1" height="5.1"/><rect x="289.5" y="399.4" width="5.1" height="5.1"/><rect x="296.1" y="361.6" width="5.1" height="5.1"/><rect x="308.9" y="360.1" width="5.1" height="5.1"/><rect x="267.7" y="449.3" width="5.1" height="5.1"/><rect x="295.2" y="400.2" width="5.1" height="5.1"/><rect x="287.6" y="357.7" width="5.1" height="5.1"/><rect x="240.7" y="369.4" width="5.1" height="5.1"/><rect x="293.7" y="336.9" width="5.1" height="5.1"/><rect x="309.4" y="365.4" width="5.1" height="5.1"/><rect x="237.7" y="352.7" width="5.1" height="5.1"/><rect x="294.0" y="394.2" width="5.1" height="5.1"/><rect x="249.0" y="428.1" width="5.1" height="5.1"/><rect x="301.3" y="390.3" width="5.1" height="5.1"/><rect x="227.2" y="327.1" width="5.1" height="5.1"/><rect x="289.2" y="376.7" width="5.1" height="5.1"/><rect x="294.0" y="404.5" width="5.1" height="5.1"/><rect x="238.8" y="349.8" width="5.1" height="5.1"/><rect x="318.9" y="326.5" width="5.1" height="5.1"/><rect x="262.0" y="435.2" width="5.1" height="5.1"/><rect x="302.5" y="411.1" width="5.1" height="5.1"/><rect x="257.5" y="442.6" width="5.1" height="5.1"/><rect x="248.1" y="394.2" width="5.1" height="5.1"/><rect x="262.2" y="423.3" width="5.1" height="5.1"/><rect x="267.6" y="441.7" width="5.1" height="5.1"/><rect x="253.2" y="416.6" width="5.1" height="5.1"/><rect x="292.7" y="437.0" width="5.1" height="5.1"/><rect x="246.6" y="349.4" width="5.1" height="5.1"/><rect x="284.8" y="392.2" width="5.1" height="5.1"/><rect x="295.8" y="351.8" width="5.1" height="5.1"/><rect x="282.2" y="439.2" width="5.1" height="5.1"/><rect x="237.9" y="332.1" width="5.1" height="5.1"/><rect x="242.7" y="402.2" width="5.1" height="5.1"/><rect x="256.3" y="383.3" width="5.1" height="5.1"/><rect x="236.3" y="392.3" width="5.1" height="5.1"/><rect x="243.4" y="388.5" width="5.1" height="5.1"/><rect x="308.0" y="350.3" width="5.1" height="5.1"/><rect x="300.9" y="383.5" width="5.1" height="5.1"/><rect x="311.6" y="381.9" width="5.1" height="5.1"/><rect x="317.5" y="328.7" width="5.1" height="5.1"/><rect x="248.6" y="336.7" width="5.1" height="5.1"/><rect x="235.2" y="422.2" width="5.1" height="5.1"/><rect x="251.5" y="358.8" width="5.1" height="5.1"/><rect x="232.9" y="404.8" width="5.1" height="5.1"/><rect x="251.4" y="392.9" width="5.1" height="5.1"/><rect x="291.9" y="329.8" width="5.1" height="5.1"/><rect x="294.8" y="421.7" width="5.1" height="5.1"/><rect x="258.1" y="382.0" width="5.1" height="5.1"/><rect x="313.8" y="398.2" width="5.1" height="5.1"/><rect x="285.5" y="444.2" width="5.1" height="5.1"/><rect x="267.0" y="443.7" width="5.1" height="5.1"/><rect x="295.6" y="425.5" width="5.1" height="5.1"/><rect x="287.3" y="427.7" width="5.1" height="5.1"/><rect x="304.2" y="359.9" width="5.1" height="5.1"/><rect x="308.8" y="328.1" width="5.1" height="5.1"/><rect x="299.1" y="369.3" width="5.1" height="5.1"/><rect x="232.5" y="366.7" width="5.1" height="5.1"/><rect x="300.3" y="422.1" width="5.1" height="5.1"/><rect x="253.5" y="368.8" width="5.1" height="5.1"/><rect x="308.7" y="400.5" width="5.1" height="5.1"/><rect x="239.2" y="393.7" width="5.1" height="5.1"/><rect x="252.1" y="327.0" width="5.1" height="5.1"/><rect x="263.3" y="451.2" width="5.1" height="5.1"/><rect x="249.1" y="407.1" width="5.1" height="5.1"/><rect x="247.6" y="336.2" width="5.1" height="5.1"/><rect x="284.7" y="396.4" width="5.1" height="5.1"/><rect x="232.7" y="351.6" width="5.1" height="5.1"/><rect x="228.4" y="337.2" width="5.1" height="5.1"/><rect x="248.9" y="331.6" width="5.1" height="5.1"/><rect x="256.7" y="407.2" width="5.1" height="5.1"/><rect x="232.8" y="378.4" width="5.1" height="5.1"/><rect x="249.3" y="367.2" width="5.1" height="5.1"/><rect x="263.9" y="428.6" width="5.1" height="5.1"/><rect x="260.4" y="438.8" width="5.1" height="5.1"/><rect x="315.7" y="339.2" width="5.1" height="5.1"/><rect x="281.3" y="450.4" width="5.1" height="5.1"/><rect x="246.0" y="363.6" width="5.1" height="5.1"/><rect x="256.2" y="401.5" width="5.1" height="5.1"/><rect x="266.7" y="455.9" width="5.1" height="5.1"/><rect x="306.9" y="386.4" width="5.1" height="5.1"/><rect x="249.2" y="422.7" width="5.1" height="5.1"/><rect x="288.0" y="440.5" width="5.1" height="5.1"/><rect x="299.9" y="361.9" width="5.1" height="5.1"/><rect x="233.1" y="328.1" width="5.1" height="5.1"/><rect x="244.3" y="406.2" width="5.1" height="5.1"/><rect x="259.1" y="423.5" width="5.1" height="5.1"/><rect x="304.3" y="362.2" width="5.1" height="5.1"/><rect x="246.0" y="380.1" width="5.1" height="5.1"/><rect x="287.4" y="356.8" width="5.1" height="5.1"/><rect x="240.3" y="367.6" width="5.1" height="5.1"/><rect x="260.7" y="404.4" width="5.1" height="5.1"/><rect x="260.2" y="384.4" width="5.1" height="5.1"/><rect x="234.2" y="384.9" width="5.1" height="5.1"/><rect x="308.3" y="340.7" width="5.1" height="5.1"/><rect x="295.3" y="423.0" width="5.1" height="5.1"/><rect x="298.7" y="367.4" width="5.1" height="5.1"/><rect x="311.1" y="326.9" width="5.1" height="5.1"/><rect x="295.9" y="325.2" width="5.1" height="5.1"/><rect x="304.1" y="358.7" width="5.1" height="5.1"/><rect x="254.8" y="346.5" width="5.1" height="5.1"/><rect x="252.3" y="346.4" width="5.1" height="5.1"/><rect x="292.4" y="409.3" width="5.1" height="5.1"/><rect x="313.1" y="342.2" width="5.1" height="5.1"/><rect x="252.8" y="404.4" width="5.1" height="5.1"/><rect x="305.3" y="329.1" width="5.1" height="5.1"/><rect x="249.7" y="377.1" width="5.1" height="5.1"/><rect x="291.7" y="361.1" width="5.1" height="5.1"/><rect x="241.7" y="347.6" width="5.1" height="5.1"/><rect x="291.6" y="399.8" width="5.1" height="5.1"/><rect x="294.0" y="374.7" width="5.1" height="5.1"/><rect x="299.1" y="328.5" width="5.1" height="5.1"/><rect x="290.5" y="430.5" width="5.1" height="5.1"/><rect x="291.2" y="339.9" width="5.1" height="5.1"/><rect x="258.7" y="405.0" width="5.1" height="5.1"/><rect x="302.7" y="413.7" width="5.1" height="5.1"/><rect x="248.1" y="427.9" width="5.1" height="5.1"/><rect x="300.0" y="349.4" width="5.1" height="5.1"/><rect x="305.7" y="385.1" width="5.1" height="5.1"/><rect x="292.5" y="337.1" width="5.1" height="5.1"/><rect x="302.2" y="378.4" width="5.1" height="5.1"/><rect x="254.2" y="382.4" width="5.1" height="5.1"/><rect x="256.2" y="375.2" width="5.1" height="5.1"/><rect x="307.1" y="393.4" width="5.1" height="5.1"/><rect x="289.0" y="358.0" width="5.1" height="5.1"/><rect x="311.3" y="350.4" width="5.1" height="5.1"/><rect x="290.5" y="402.3" width="5.1" height="5.1"/><rect x="294.6" y="330.0" width="5.1" height="5.1"/><rect x="230.3" y="377.3" width="5.1" height="5.1"/><rect x="292.1" y="332.5" width="5.1" height="5.1"/><rect x="313.2" y="368.0" width="5.1" height="5.1"/><rect x="300.2" y="330.4" width="5.1" height="5.1"/><rect x="252.3" y="343.1" width="5.1" height="5.1"/><rect x="251.0" y="403.4" width="5.1" height="5.1"/><rect x="299.3" y="351.0" width="5.1" height="5.1"/><rect x="297.2" y="389.7" width="5.1" height="5.1"/><rect x="297.4" y="421.6" width="5.1" height="5.1"/><rect x="244.4" y="398.6" width="5.1" height="5.1"/><rect x="292.4" y="349.3" width="5.1" height="5.1"/><rect x="298.3" y="425.8" width="5.1" height="5.1"/><rect x="293.3" y="351.0" width="5.1" height="5.1"/><rect x="243.4" y="353.6" width="5.1" height="5.1"/><rect x="307.4" y="353.5" width="5.1" height="5.1"/><rect x="257.7" y="399.5" width="5.1" height="5.1"/><rect x="261.0" y="402.7" width="5.1" height="5.1"/><rect x="286.2" y="410.3" width="5.1" height="5.1"/><rect x="256.9" y="371.6" width="5.1" height="5.1"/><rect x="307.4" y="371.6" width="5.1" height="5.1"/><rect x="294.6" y="339.5" width="5.1" height="5.1"/><rect x="292.0" y="436.9" width="5.1" height="5.1"/><rect x="279.8" y="458.4" width="5.1" height="5.1"/><rect x="238.6" y="355.0" width="5.1" height="5.1"/><rect x="302.0" y="381.2" width="5.1" height="5.1"/><rect x="321.9" y="341.9" width="5.1" height="5.1"/><rect x="287.9" y="354.0" width="5.1" height="5.1"/><rect x="237.5" y="362.1" width="5.1" height="5.1"/><rect x="289.9" y="345.9" width="5.1" height="5.1"/><rect x="255.2" y="393.7" width="5.1" height="5.1"/><rect x="233.3" y="383.2" width="5.1" height="5.1"/><rect x="257.6" y="411.4" width="5.1" height="5.1"/><rect x="288.2" y="409.6" width="5.1" height="5.1"/><rect x="293.8" y="369.7" width="5.1" height="5.1"/><rect x="237.1" y="384.6" width="5.1" height="5.1"/><rect x="300.5" y="375.9" width="5.1" height="5.1"/><rect x="254.1" y="400.2" width="5.1" height="5.1"/><rect x="252.4" y="419.7" width="5.1" height="5.1"/><rect x="234.2" y="351.2" width="5.1" height="5.1"/><rect x="287.3" y="375.8" width="5.1" height="5.1"/><rect x="247.1" y="333.8" width="5.1" height="5.1"/><rect x="298.0" y="425.1" width="5.1" height="5.1"/><rect x="250.0" y="358.0" width="5.1" height="5.1"/><rect x="252.9" y="342.7" width="5.1" height="5.1"/><rect x="306.8" y="391.9" width="5.1" height="5.1"/><rect x="313.2" y="375.0" width="5.1" height="5.1"/><rect x="293.8" y="404.4" width="5.1" height="5.1"/><rect x="280.5" y="434.7" width="5.1" height="5.1"/><rect x="311.4" y="354.4" width="5.1" height="5.1"/><rect x="254.4" y="398.1" width="5.1" height="5.1"/><rect x="248.1" y="393.7" width="5.1" height="5.1"/><rect x="280.3" y="432.6" width="5.1" height="5.1"/><rect x="288.0" y="442.1" width="5.1" height="5.1"/><rect x="306.6" y="329.8" width="5.1" height="5.1"/><rect x="286.5" y="447.0" width="5.1" height="5.1"/><rect x="301.0" y="380.0" width="5.1" height="5.1"/><rect x="255.6" y="431.0" width="5.1" height="5.1"/><rect x="249.5" y="432.1" width="5.1" height="5.1"/><rect x="255.1" y="400.4" width="5.1" height="5.1"/><rect x="288.6" y="402.4" width="5.1" height="5.1"/><rect x="301.0" y="326.9" width="5.1" height="5.1"/><rect x="234.2" y="330.8" width="5.1" height="5.1"/><rect x="296.9" y="409.7" width="5.1" height="5.1"/><rect x="241.0" y="344.0" width="5.1" height="5.1"/><rect x="256.5" y="352.3" width="5.1" height="5.1"/><rect x="289.1" y="362.0" width="5.1" height="5.1"/><rect x="240.0" y="374.6" width="5.1" height="5.1"/><rect x="289.1" y="342.1" width="5.1" height="5.1"/><rect x="308.7" y="364.5" width="5.1" height="5.1"/><rect x="286.8" y="364.1" width="5.1" height="5.1"/><rect x="283.9" y="408.0" width="5.1" height="5.1"/><rect x="303.4" y="404.0" width="5.1" height="5.1"/><rect x="291.1" y="359.3" width="5.1" height="5.1"/><rect x="268.3" y="445.9" width="5.1" height="5.1"/><rect x="227.7" y="352.4" width="5.1" height="5.1"/><rect x="245.1" y="421.8" width="5.1" height="5.1"/><rect x="305.7" y="356.4" width="5.1" height="5.1"/><rect x="313.5" y="358.2" width="5.1" height="5.1"/><rect x="292.8" y="362.5" width="5.1" height="5.1"/><rect x="270.1" y="450.1" width="5.1" height="5.1"/><rect x="253.3" y="395.8" width="5.1" height="5.1"/><rect x="284.6" y="422.6" width="5.1" height="5.1"/><rect x="254.8" y="411.9" width="5.1" height="5.1"/><rect x="295.3" y="330.7" width="5.1" height="5.1"/><rect x="249.7" y="426.3" width="5.1" height="5.1"/><rect x="302.2" y="361.2" width="5.1" height="5.1"/><rect x="258.3" y="408.7" width="5.1" height="5.1"/><rect x="313.7" y="357.4" width="5.1" height="5.1"/><rect x="226.5" y="367.5" width="5.1" height="5.1"/><rect x="265.5" y="431.5" width="5.1" height="5.1"/><rect x="257.9" y="400.6" width="5.1" height="5.1"/><rect x="295.9" y="363.0" width="5.1" height="5.1"/><rect x="232.4" y="332.2" width="5.1" height="5.1"/><rect x="239.0" y="366.4" width="5.1" height="5.1"/><rect x="268.1" y="436.7" width="5.1" height="5.1"/><rect x="283.7" y="431.3" width="5.1" height="5.1"/><rect x="244.9" y="422.2" width="5.1" height="5.1"/><rect x="310.3" y="336.9" width="5.1" height="5.1"/><rect x="316.4" y="332.5" width="5.1" height="5.1"/><rect x="270.3" y="453.0" width="5.1" height="5.1"/><rect x="315.1" y="358.9" width="5.1" height="5.1"/><rect x="247.9" y="386.2" width="5.1" height="5.1"/><rect x="302.3" y="357.6" width="5.1" height="5.1"/><rect x="271.5" y="452.8" width="5.1" height="5.1"/><rect x="304.1" y="385.1" width="5.1" height="5.1"/><rect x="242.3" y="366.2" width="5.1" height="5.1"/><rect x="284.9" y="442.3" width="5.1" height="5.1"/><rect x="304.0" y="342.4" width="5.1" height="5.1"/><rect x="304.0" y="403.3" width="5.1" height="5.1"/><rect x="255.8" y="358.8" width="5.1" height="5.1"/><rect x="229.6" y="358.7" width="5.1" height="5.1"/><rect x="292.8" y="365.5" width="5.1" height="5.1"/><rect x="289.7" y="420.2" width="5.1" height="5.1"/><rect x="304.9" y="329.7" width="5.1" height="5.1"/><rect x="239.1" y="339.1" width="5.1" height="5.1"/><rect x="244.9" y="354.8" width="5.1" height="5.1"/><rect x="280.5" y="440.5" width="5.1" height="5.1"/><rect x="307.6" y="368.2" width="5.1" height="5.1"/><rect x="295.8" y="370.4" width="5.1" height="5.1"/><rect x="298.1" y="375.7" width="5.1" height="5.1"/><rect x="220.1" y="361.9" width="5.1" height="5.1"/><rect x="303.4" y="348.7" width="5.1" height="5.1"/><rect x="310.1" y="367.8" width="5.1" height="5.1"/><rect x="276.4" y="455.0" width="5.1" height="5.1"/><rect x="283.4" y="426.0" width="5.1" height="5.1"/><rect x="267.8" y="444.8" width="5.1" height="5.1"/><rect x="309.0" y="399.3" width="5.1" height="5.1"/><rect x="312.2" y="347.2" width="5.1" height="5.1"/><rect x="241.0" y="380.4" width="5.1" height="5.1"/><rect x="309.6" y="363.2" width="5.1" height="5.1"/><rect x="251.7" y="433.8" width="5.1" height="5.1"/><rect x="242.9" y="405.0" width="5.1" height="5.1"/><rect x="234.9" y="355.1" width="5.1" height="5.1"/><rect x="289.5" y="413.4" width="5.1" height="5.1"/><rect x="257.9" y="381.9" width="5.1" height="5.1"/><rect x="255.5" y="392.3" width="5.1" height="5.1"/><rect x="298.3" y="328.6" width="5.1" height="5.1"/><rect x="250.0" y="358.4" width="5.1" height="5.1"/><rect x="303.6" y="356.0" width="5.1" height="5.1"/><rect x="287.3" y="435.7" width="5.1" height="5.1"/><rect x="291.7" y="431.4" width="5.1" height="5.1"/><rect x="277.5" y="445.0" width="5.1" height="5.1"/><rect x="236.8" y="404.1" width="5.1" height="5.1"/><rect x="287.4" y="374.0" width="5.1" height="5.1"/><rect x="275.6" y="450.2" width="5.1" height="5.1"/><rect x="290.0" y="432.1" width="5.1" height="5.1"/><rect x="239.8" y="328.5" width="5.1" height="5.1"/><rect x="289.5" y="364.1" width="5.1" height="5.1"/><rect x="300.1" y="333.9" width="5.1" height="5.1"/><rect x="254.2" y="372.5" width="5.1" height="5.1"/><rect x="235.7" y="359.9" width="5.1" height="5.1"/><rect x="306.0" y="359.5" width="5.1" height="5.1"/><rect x="243.2" y="373.1" width="5.1" height="5.1"/><rect x="249.8" y="426.2" width="5.1" height="5.1"/><rect x="299.6" y="358.6" width="5.1" height="5.1"/><rect x="260.6" y="443.6" width="5.1" height="5.1"/><rect x="249.6" y="416.8" width="5.1" height="5.1"/><rect x="283.0" y="428.2" width="5.1" height="5.1"/><rect x="297.3" y="383.3" width="5.1" height="5.1"/><rect x="298.2" y="366.6" width="5.1" height="5.1"/><rect x="296.6" y="401.9" width="5.1" height="5.1"/><rect x="286.3" y="379.0" width="5.1" height="5.1"/><rect x="242.5" y="364.0" width="5.1" height="5.1"/><rect x="255.7" y="434.6" width="5.1" height="5.1"/><rect x="304.5" y="404.9" width="5.1" height="5.1"/><rect x="252.9" y="427.3" width="5.1" height="5.1"/><rect x="292.0" y="425.4" width="5.1" height="5.1"/><rect x="237.2" y="335.6" width="5.1" height="5.1"/><rect x="245.9" y="356.9" width="5.1" height="5.1"/><rect x="254.7" y="420.3" width="5.1" height="5.1"/><rect x="252.7" y="381.5" width="5.1" height="5.1"/><rect x="290.5" y="362.2" width="5.1" height="5.1"/><rect x="235.8" y="373.3" width="5.1" height="5.1"/><rect x="215.6" y="339.2" width="5.1" height="5.1"/><rect x="292.2" y="374.4" width="5.1" height="5.1"/><rect x="245.0" y="355.7" width="5.1" height="5.1"/><rect x="250.0" y="365.7" width="5.1" height="5.1"/><rect x="245.7" y="355.8" width="5.1" height="5.1"/><rect x="246.1" y="329.6" width="5.1" height="5.1"/><rect x="311.6" y="399.5" width="5.1" height="5.1"/><rect x="313.9" y="331.5" width="5.1" height="5.1"/><rect x="294.7" y="431.4" width="5.1" height="5.1"/><rect x="207.8" y="329.2" width="5.1" height="5.1"/><rect x="249.1" y="397.2" width="5.1" height="5.1"/><rect x="253.0" y="325.6" width="5.1" height="5.1"/><rect x="230.1" y="325.8" width="5.1" height="5.1"/><rect x="293.9" y="328.5" width="5.1" height="5.1"/><rect x="291.9" y="425.3" width="5.1" height="5.1"/><rect x="268.6" y="444.5" width="5.1" height="5.1"/><rect x="238.9" y="347.4" width="5.1" height="5.1"/><rect x="233.2" y="336.9" width="5.1" height="5.1"/><rect x="298.7" y="381.9" width="5.1" height="5.1"/><rect x="291.5" y="386.1" width="5.1" height="5.1"/><rect x="296.1" y="348.6" width="5.1" height="5.1"/><rect x="234.7" y="334.0" width="5.1" height="5.1"/><rect x="290.9" y="407.0" width="5.1" height="5.1"/><rect x="259.7" y="406.7" width="5.1" height="5.1"/><rect x="300.8" y="334.3" width="5.1" height="5.1"/><rect x="295.9" y="371.1" width="5.1" height="5.1"/><rect x="292.0" y="381.9" width="5.1" height="5.1"/><rect x="282.2" y="429.1" width="5.1" height="5.1"/><rect x="300.4" y="367.3" width="5.1" height="5.1"/><rect x="292.7" y="365.6" width="5.1" height="5.1"/><rect x="311.1" y="330.2" width="5.1" height="5.1"/><rect x="251.0" y="370.8" width="5.1" height="5.1"/><rect x="294.8" y="425.9" width="5.1" height="5.1"/><rect x="292.6" y="392.4" width="5.1" height="5.1"/><rect x="292.5" y="419.1" width="5.1" height="5.1"/><rect x="306.5" y="410.5" width="5.1" height="5.1"/><rect x="286.5" y="376.0" width="5.1" height="5.1"/><rect x="253.9" y="433.9" width="5.1" height="5.1"/><rect x="295.3" y="330.4" width="5.1" height="5.1"/><rect x="312.8" y="398.8" width="5.1" height="5.1"/><rect x="287.8" y="400.3" width="5.1" height="5.1"/><rect x="244.2" y="355.8" width="5.1" height="5.1"/><rect x="226.3" y="358.5" width="5.1" height="5.1"/><rect x="312.8" y="338.8" width="5.1" height="5.1"/><rect x="304.9" y="355.9" width="5.1" height="5.1"/><rect x="250.7" y="424.3" width="5.1" height="5.1"/><rect x="307.8" y="408.3" width="5.1" height="5.1"/><rect x="307.8" y="352.6" width="5.1" height="5.1"/><rect x="249.2" y="335.0" width="5.1" height="5.1"/><rect x="268.4" y="446.0" width="5.1" height="5.1"/><rect x="315.4" y="340.4" width="5.1" height="5.1"/><rect x="314.6" y="331.6" width="5.1" height="5.1"/><rect x="243.8" y="420.7" width="5.1" height="5.1"/><rect x="307.2" y="325.1" width="5.1" height="5.1"/><rect x="296.2" y="421.0" width="5.1" height="5.1"/><rect x="292.8" y="393.9" width="5.1" height="5.1"/><rect x="299.2" y="424.4" width="5.1" height="5.1"/><rect x="312.3" y="360.5" width="5.1" height="5.1"/><rect x="276.4" y="455.0" width="5.1" height="5.1"/><rect x="226.1" y="336.5" width="5.1" height="5.1"/><rect x="254.4" y="396.5" width="5.1" height="5.1"/><rect x="227.0" y="347.9" width="5.1" height="5.1"/><rect x="293.6" y="337.3" width="5.1" height="5.1"/><rect x="231.9" y="377.6" width="5.1" height="5.1"/><rect x="252.5" y="348.6" width="5.1" height="5.1"/><rect x="289.1" y="343.8" width="5.1" height="5.1"/><rect x="257.8" y="367.0" width="5.1" height="5.1"/><rect x="304.5" y="327.1" width="5.1" height="5.1"/><rect x="294.2" y="375.1" width="5.1" height="5.1"/><rect x="294.1" y="363.9" width="5.1" height="5.1"/><rect x="289.5" y="378.3" width="5.1" height="5.1"/><rect x="287.4" y="381.8" width="5.1" height="5.1"/><rect x="257.8" y="374.7" width="5.1" height="5.1"/><rect x="299.7" y="358.0" width="5.1" height="5.1"/><rect x="248.7" y="353.1" width="5.1" height="5.1"/><rect x="300.6" y="388.7" width="5.1" height="5.1"/><rect x="286.6" y="380.4" width="5.1" height="5.1"/><rect x="296.2" y="349.1" width="5.1" height="5.1"/><rect x="231.4" y="378.8" width="5.1" height="5.1"/><rect x="226.9" y="355.7" width="5.1" height="5.1"/><rect x="290.4" y="333.3" width="5.1" height="5.1"/><rect x="311.5" y="359.1" width="5.1" height="5.1"/><rect x="289.6" y="357.9" width="5.1" height="5.1"/><rect x="255.3" y="430.2" width="5.1" height="5.1"/><rect x="231.5" y="385.7" width="5.1" height="5.1"/><rect x="304.1" y="380.5" width="5.1" height="5.1"/><rect x="241.8" y="341.2" width="5.1" height="5.1"/><rect x="287.6" y="375.1" width="5.1" height="5.1"/><rect x="292.0" y="328.9" width="5.1" height="5.1"/><rect x="235.0" y="330.2" width="5.1" height="5.1"/><rect x="313.4" y="346.4" width="5.1" height="5.1"/><rect x="312.5" y="338.3" width="5.1" height="5.1"/><rect x="294.5" y="405.0" width="5.1" height="5.1"/><rect x="261.6" y="397.5" width="5.1" height="5.1"/><rect x="243.0" y="337.3" width="5.1" height="5.1"/><rect x="309.7" y="405.5" width="5.1" height="5.1"/><rect x="281.8" y="430.2" width="5.1" height="5.1"/><rect x="292.4" y="434.4" width="5.1" height="5.1"/><rect x="291.8" y="420.1" width="5.1" height="5.1"/><rect x="247.5" y="409.3" width="5.1" height="5.1"/><rect x="304.4" y="356.5" width="5.1" height="5.1"/><rect x="258.4" y="383.4" width="5.1" height="5.1"/><rect x="304.5" y="389.6" width="5.1" height="5.1"/><rect x="301.7" y="340.4" width="5.1" height="5.1"/><rect x="304.2" y="409.9" width="5.1" height="5.1"/><rect x="288.0" y="375.8" width="5.1" height="5.1"/><rect x="261.7" y="442.3" width="5.1" height="5.1"/><rect x="293.9" y="422.4" width="5.1" height="5.1"/><rect x="241.4" y="392.4" width="5.1" height="5.1"/><rect x="226.5" y="387.4" width="5.1" height="5.1"/><rect x="269.5" y="454.4" width="5.1" height="5.1"/><rect x="256.5" y="353.2" width="5.1" height="5.1"/><rect x="258.7" y="376.4" width="5.1" height="5.1"/><rect x="297.0" y="362.9" width="5.1" height="5.1"/><rect x="311.1" y="336.2" width="5.1" height="5.1"/><rect x="251.9" y="387.2" width="5.1" height="5.1"/><rect x="257.7" y="413.1" width="5.1" height="5.1"/><rect x="286.9" y="387.6" width="5.1" height="5.1"/><rect x="238.5" y="355.3" width="5.1" height="5.1"/><rect x="248.6" y="346.1" width="5.1" height="5.1"/><rect x="288.7" y="357.0" width="5.1" height="5.1"/><rect x="303.1" y="348.6" width="5.1" height="5.1"/><rect x="283.4" y="408.4" width="5.1" height="5.1"/><rect x="309.2" y="382.9" width="5.1" height="5.1"/><rect x="242.4" y="364.6" width="5.1" height="5.1"/><rect x="292.8" y="367.5" width="5.1" height="5.1"/><rect x="318.9" y="393.8" width="5.1" height="5.1"/><rect x="310.7" y="394.0" width="5.1" height="5.1"/><rect x="291.7" y="424.7" width="5.1" height="5.1"/><rect x="254.4" y="406.4" width="5.1" height="5.1"/><rect x="303.8" y="330.1" width="5.1" height="5.1"/><rect x="262.4" y="446.5" width="5.1" height="5.1"/><rect x="227.1" y="338.7" width="5.1" height="5.1"/><rect x="304.0" y="359.2" width="5.1" height="5.1"/><rect x="303.9" y="349.1" width="5.1" height="5.1"/><rect x="239.9" y="348.9" width="5.1" height="5.1"/><rect x="254.9" y="417.5" width="5.1" height="5.1"/><rect x="247.5" y="417.0" width="5.1" height="5.1"/><rect x="290.5" y="438.4" width="5.1" height="5.1"/><rect x="298.1" y="344.1" width="5.1" height="5.1"/><rect x="297.8" y="352.0" width="5.1" height="5.1"/><rect x="293.6" y="367.5" width="5.1" height="5.1"/><rect x="294.2" y="399.2" width="5.1" height="5.1"/><rect x="240.2" y="410.4" width="5.1" height="5.1"/><rect x="284.7" y="438.8" width="5.1" height="5.1"/><rect x="258.3" y="370.5" width="5.1" height="5.1"/><rect x="311.5" y="331.9" width="5.1" height="5.1"/><rect x="254.6" y="358.7" width="5.1" height="5.1"/><rect x="231.0" y="386.6" width="5.1" height="5.1"/><rect x="285.7" y="426.2" width="5.1" height="5.1"/><rect x="255.7" y="346.7" width="5.1" height="5.1"/><rect x="268.0" y="455.9" width="5.1" height="5.1"/><rect x="301.8" y="398.4" width="5.1" height="5.1"/><rect x="310.6" y="340.4" width="5.1" height="5.1"/><rect x="254.8" y="374.1" width="5.1" height="5.1"/><rect x="310.4" y="395.1" width="5.1" height="5.1"/><rect x="294.7" y="342.2" width="5.1" height="5.1"/><rect x="252.7" y="399.5" width="5.1" height="5.1"/><rect x="319.8" y="394.1" width="5.1" height="5.1"/><rect x="228.3" y="361.7" width="5.1" height="5.1"/><rect x="247.5" y="333.5" width="5.1" height="5.1"/><rect x="302.8" y="371.1" width="5.1" height="5.1"/><rect x="292.5" y="344.6" width="5.1" height="5.1"/><rect x="310.7" y="354.9" width="5.1" height="5.1"/><rect x="296.8" y="427.9" width="5.1" height="5.1"/><rect x="273.0" y="458.5" width="5.1" height="5.1"/><rect x="312.1" y="372.5" width="5.1" height="5.1"/><rect x="239.3" y="374.4" width="5.1" height="5.1"/><rect x="314.7" y="357.7" width="5.1" height="5.1"/><rect x="236.8" y="391.0" width="5.1" height="5.1"/><rect x="296.6" y="333.7" width="5.1" height="5.1"/><rect x="257.6" y="434.7" width="5.1" height="5.1"/><rect x="241.5" y="366.4" width="5.1" height="5.1"/><rect x="286.8" y="382.2" width="5.1" height="5.1"/><rect x="226.8" y="355.0" width="5.1" height="5.1"/><rect x="294.3" y="377.0" width="5.1" height="5.1"/><rect x="259.6" y="400.9" width="5.1" height="5.1"/><rect x="255.9" y="388.3" width="5.1" height="5.1"/><rect x="293.5" y="350.8" width="5.1" height="5.1"/><rect x="310.5" y="341.7" width="5.1" height="5.1"/><rect x="245.0" y="333.4" width="5.1" height="5.1"/><rect x="305.2" y="405.8" width="5.1" height="5.1"/><rect x="254.0" y="390.6" width="5.1" height="5.1"/><rect x="266.8" y="440.5" width="5.1" height="5.1"/><rect x="230.3" y="341.0" width="5.1" height="5.1"/><rect x="291.9" y="367.6" width="5.1" height="5.1"/><rect x="293.3" y="369.7" width="5.1" height="5.1"/><rect x="248.9" y="396.6" width="5.1" height="5.1"/><rect x="237.9" y="391.2" width="5.1" height="5.1"/><rect x="235.9" y="347.7" width="5.1" height="5.1"/><rect x="301.8" y="326.5" width="5.1" height="5.1"/><rect x="286.9" y="377.9" width="5.1" height="5.1"/><rect x="250.7" y="351.3" width="5.1" height="5.1"/><rect x="288.2" y="381.9" width="5.1" height="5.1"/><rect x="308.4" y="391.0" width="5.1" height="5.1"/><rect x="246.1" y="335.3" width="5.1" height="5.1"/><rect x="281.9" y="428.0" width="5.1" height="5.1"/><rect x="260.3" y="439.3" width="5.1" height="5.1"/><rect x="282.1" y="444.5" width="5.1" height="5.1"/><rect x="231.4" y="374.9" width="5.1" height="5.1"/><rect x="263.7" y="417.0" width="5.1" height="5.1"/><rect x="292.3" y="362.7" width="5.1" height="5.1"/><rect x="290.4" y="366.9" width="5.1" height="5.1"/><rect x="301.2" y="371.8" width="5.1" height="5.1"/><rect x="226.0" y="357.5" width="5.1" height="5.1"/><rect x="224.2" y="354.4" width="5.1" height="5.1"/><rect x="257.6" y="405.4" width="5.1" height="5.1"/><rect x="243.2" y="415.9" width="5.1" height="5.1"/><rect x="282.1" y="419.9" width="5.1" height="5.1"/><rect x="303.9" y="381.6" width="5.1" height="5.1"/><rect x="251.4" y="435.2" width="5.1" height="5.1"/><rect x="256.4" y="369.9" width="5.1" height="5.1"/><rect x="251.7" y="366.0" width="5.1" height="5.1"/><rect x="260.2" y="421.1" width="5.1" height="5.1"/><rect x="257.4" y="369.1" width="5.1" height="5.1"/><rect x="238.0" y="366.2" width="5.1" height="5.1"/><rect x="317.9" y="331.4" width="5.1" height="5.1"/><rect x="260.7" y="445.2" width="5.1" height="5.1"/><rect x="247.4" y="329.3" width="5.1" height="5.1"/><rect x="293.4" y="352.9" width="5.1" height="5.1"/><rect x="250.6" y="348.7" width="5.1" height="5.1"/><rect x="293.3" y="344.4" width="5.1" height="5.1"/><rect x="274.2" y="455.1" width="5.1" height="5.1"/><rect x="312.4" y="351.6" width="5.1" height="5.1"/><rect x="247.8" y="380.5" width="5.1" height="5.1"/><rect x="234.8" y="326.0" width="5.1" height="5.1"/><rect x="305.9" y="358.9" width="5.1" height="5.1"/><rect x="286.8" y="380.7" width="5.1" height="5.1"/><rect x="299.5" y="373.2" width="5.1" height="5.1"/><rect x="248.3" y="406.6" width="5.1" height="5.1"/><rect x="227.7" y="370.4" width="5.1" height="5.1"/><rect x="243.7" y="346.5" width="5.1" height="5.1"/><rect x="251.5" y="394.7" width="5.1" height="5.1"/><rect x="300.1" y="326.9" width="5.1" height="5.1"/><rect x="242.9" y="337.4" width="5.1" height="5.1"/><rect x="228.2" y="370.8" width="5.1" height="5.1"/><rect x="292.6" y="352.5" width="5.1" height="5.1"/><rect x="253.6" y="354.5" width="5.1" height="5.1"/><rect x="242.6" y="375.1" width="5.1" height="5.1"/><rect x="263.4" y="408.3" width="5.1" height="5.1"/><rect x="291.8" y="426.8" width="5.1" height="5.1"/><rect x="236.8" y="345.5" width="5.1" height="5.1"/><rect x="264.9" y="428.8" width="5.1" height="5.1"/><rect x="313.0" y="340.2" width="5.1" height="5.1"/><rect x="290.7" y="360.0" width="5.1" height="5.1"/><rect x="275.0" y="451.8" width="5.1" height="5.1"/><rect x="227.8" y="356.0" width="5.1" height="5.1"/><rect x="309.6" y="385.7" width="5.1" height="5.1"/><rect x="239.6" y="399.3" width="5.1" height="5.1"/><rect x="250.7" y="426.3" width="5.1" height="5.1"/><rect x="304.2" y="353.7" width="5.1" height="5.1"/><rect x="247.2" y="356.3" width="5.1" height="5.1"/><rect x="229.2" y="373.1" width="5.1" height="5.1"/><rect x="252.4" y="411.5" width="5.1" height="5.1"/><rect x="250.5" y="374.4" width="5.1" height="5.1"/><rect x="266.0" y="441.2" width="5.1" height="5.1"/><rect x="256.8" y="415.7" width="5.1" height="5.1"/><rect x="248.4" y="369.8" width="5.1" height="5.1"/><rect x="296.1" y="430.9" width="5.1" height="5.1"/><rect x="266.1" y="437.2" width="5.1" height="5.1"/><rect x="235.4" y="326.0" width="5.1" height="5.1"/><rect x="234.2" y="367.9" width="5.1" height="5.1"/><rect x="305.3" y="370.2" width="5.1" height="5.1"/><rect x="247.0" y="339.9" width="5.1" height="5.1"/><rect x="246.1" y="384.9" width="5.1" height="5.1"/><rect x="305.4" y="350.6" width="5.1" height="5.1"/><rect x="268.2" y="443.0" width="5.1" height="5.1"/><rect x="242.0" y="358.3" width="5.1" height="5.1"/><rect x="288.1" y="407.0" width="5.1" height="5.1"/><rect x="261.7" y="411.9" width="5.1" height="5.1"/><rect x="311.3" y="366.2" width="5.1" height="5.1"/><rect x="305.4" y="383.1" width="5.1" height="5.1"/><rect x="299.2" y="409.8" width="5.1" height="5.1"/><rect x="299.3" y="395.6" width="5.1" height="5.1"/><rect x="306.8" y="359.4" width="5.1" height="5.1"/><rect x="250.0" y="418.0" width="5.1" height="5.1"/><rect x="313.4" y="330.0" width="5.1" height="5.1"/><rect x="292.1" y="437.8" width="5.1" height="5.1"/><rect x="298.0" y="357.4" width="5.1" height="5.1"/><rect x="260.1" y="408.5" width="5.1" height="5.1"/><rect x="294.3" y="373.0" width="5.1" height="5.1"/><rect x="248.4" y="427.2" width="5.1" height="5.1"/><rect x="290.1" y="357.7" width="5.1" height="5.1"/><rect x="229.8" y="354.8" width="5.1" height="5.1"/><rect x="236.2" y="356.0" width="5.1" height="5.1"/><rect x="303.0" y="363.6" width="5.1" height="5.1"/><rect x="312.6" y="351.3" width="5.1" height="5.1"/><rect x="301.2" y="350.5" width="5.1" height="5.1"/></g>

<g fill="#90d6ec" stroke="#5fb0cc" stroke-width="1"><rect x="250.2" y="313.4" width="5.1" height="5.1"/><rect x="244.8" y="283.9" width="5.1" height="5.1"/><rect x="248.1" y="315.1" width="5.1" height="5.1"/><rect x="247.3" y="303.6" width="5.1" height="5.1"/><rect x="247.0" y="278.4" width="5.1" height="5.1"/><rect x="246.6" y="308.4" width="5.1" height="5.1"/><rect x="245.4" y="293.8" width="5.1" height="5.1"/><rect x="247.0" y="320.1" width="5.1" height="5.1"/></g>

<g fill="#f8a64e" stroke="#d98a36" stroke-width="1"><rect x="298.9" y="243.7" width="5.1" height="5.1"/><rect x="303.8" y="271.5" width="5.1" height="5.1"/><rect x="301.5" y="280.1" width="5.1" height="5.1"/><rect x="299.7" y="225.9" width="5.1" height="5.1"/><rect x="304.9" y="223.9" width="5.1" height="5.1"/><rect x="303.8" y="225.7" width="5.1" height="5.1"/><rect x="301.5" y="221.3" width="5.1" height="5.1"/><rect x="303.1" y="246.3" width="5.1" height="5.1"/><rect x="303.0" y="276.4" width="5.1" height="5.1"/><rect x="294.3" y="305.7" width="5.1" height="5.1"/><rect x="302.0" y="319.8" width="5.1" height="5.1"/><rect x="296.2" y="267.7" width="5.1" height="5.1"/><rect x="301.6" y="218.8" width="5.1" height="5.1"/><rect x="301.0" y="296.1" width="5.1" height="5.1"/><rect x="293.5" y="297.4" width="5.1" height="5.1"/><rect x="304.5" y="201.5" width="5.1" height="5.1"/><rect x="293.4" y="276.3" width="5.1" height="5.1"/><rect x="296.7" y="298.5" width="5.1" height="5.1"/><rect x="295.8" y="303.8" width="5.1" height="5.1"/><rect x="302.4" y="248.8" width="5.1" height="5.1"/><rect x="302.7" y="249.1" width="5.1" height="5.1"/><rect x="304.0" y="239.5" width="5.1" height="5.1"/><rect x="306.2" y="209.3" width="5.1" height="5.1"/><rect x="302.0" y="254.5" width="5.1" height="5.1"/><rect x="303.4" y="238.7" width="5.1" height="5.1"/><rect x="300.3" y="252.0" width="5.1" height="5.1"/><rect x="303.3" y="218.4" width="5.1" height="5.1"/><rect x="303.5" y="279.7" width="5.1" height="5.1"/><rect x="301.5" y="266.8" width="5.1" height="5.1"/><rect x="299.8" y="231.6" width="5.1" height="5.1"/><rect x="297.2" y="316.6" width="5.1" height="5.1"/><rect x="300.5" y="242.9" width="5.1" height="5.1"/><rect x="290.0" y="305.0" width="5.1" height="5.1"/><rect x="300.3" y="242.1" width="5.1" height="5.1"/><rect x="305.0" y="201.5" width="5.1" height="5.1"/><rect x="297.4" y="292.1" width="5.1" height="5.1"/><rect x="304.2" y="294.0" width="5.1" height="5.1"/><rect x="296.0" y="275.4" width="5.1" height="5.1"/><rect x="305.4" y="208.1" width="5.1" height="5.1"/><rect x="293.8" y="294.9" width="5.1" height="5.1"/><rect x="303.4" y="249.7" width="5.1" height="5.1"/><rect x="295.9" y="311.2" width="5.1" height="5.1"/><rect x="298.1" y="301.0" width="5.1" height="5.1"/><rect x="299.2" y="244.5" width="5.1" height="5.1"/><rect x="293.7" y="278.4" width="5.1" height="5.1"/><rect x="303.7" y="310.7" width="5.1" height="5.1"/><rect x="295.8" y="263.3" width="5.1" height="5.1"/><rect x="298.1" y="280.8" width="5.1" height="5.1"/><rect x="300.2" y="293.9" width="5.1" height="5.1"/><rect x="303.9" y="264.1" width="5.1" height="5.1"/><rect x="298.0" y="247.8" width="5.1" height="5.1"/><rect x="300.7" y="220.0" width="5.1" height="5.1"/><rect x="304.9" y="227.5" width="5.1" height="5.1"/><rect x="300.8" y="271.8" width="5.1" height="5.1"/><rect x="303.7" y="284.3" width="5.1" height="5.1"/><rect x="293.6" y="305.0" width="5.1" height="5.1"/><rect x="297.2" y="312.2" width="5.1" height="5.1"/><rect x="296.0" y="317.7" width="5.1" height="5.1"/><rect x="303.2" y="219.5" width="5.1" height="5.1"/><rect x="301.7" y="271.5" width="5.1" height="5.1"/><rect x="290.8" y="292.5" width="5.1" height="5.1"/><rect x="305.6" y="221.2" width="5.1" height="5.1"/><rect x="302.4" y="250.2" width="5.1" height="5.1"/><rect x="294.7" y="274.6" width="5.1" height="5.1"/><rect x="297.3" y="288.4" width="5.1" height="5.1"/><rect x="301.5" y="286.1" width="5.1" height="5.1"/><rect x="293.7" y="269.1" width="5.1" height="5.1"/><rect x="295.1" y="280.0" width="5.1" height="5.1"/><rect x="299.2" y="306.1" width="5.1" height="5.1"/><rect x="294.7" y="303.8" width="5.1" height="5.1"/><rect x="293.2" y="309.9" width="5.1" height="5.1"/><rect x="295.5" y="303.6" width="5.1" height="5.1"/><rect x="290.5" y="317.6" width="5.1" height="5.1"/><rect x="292.9" y="291.6" width="5.1" height="5.1"/><rect x="303.9" y="291.9" width="5.1" height="5.1"/><rect x="304.9" y="309.0" width="5.1" height="5.1"/><rect x="306.0" y="278.0" width="5.1" height="5.1"/><rect x="296.9" y="310.4" width="5.1" height="5.1"/><rect x="293.7" y="270.3" width="5.1" height="5.1"/><rect x="297.8" y="296.6" width="5.1" height="5.1"/><rect x="302.7" y="246.5" width="5.1" height="5.1"/><rect x="296.8" y="253.2" width="5.1" height="5.1"/><rect x="296.1" y="256.1" width="5.1" height="5.1"/><rect x="301.9" y="216.8" width="5.1" height="5.1"/><rect x="301.5" y="308.9" width="5.1" height="5.1"/><rect x="305.7" y="248.6" width="5.1" height="5.1"/><rect x="301.1" y="262.5" width="5.1" height="5.1"/><rect x="306.1" y="205.6" width="5.1" height="5.1"/><rect x="299.2" y="229.7" width="5.1" height="5.1"/><rect x="300.9" y="301.3" width="5.1" height="5.1"/><rect x="292.8" y="291.4" width="5.1" height="5.1"/><rect x="299.9" y="310.2" width="5.1" height="5.1"/><rect x="299.8" y="256.3" width="5.1" height="5.1"/><rect x="298.1" y="239.3" width="5.1" height="5.1"/><rect x="302.9" y="303.7" width="5.1" height="5.1"/><rect x="299.8" y="319.4" width="5.1" height="5.1"/><rect x="303.1" y="212.7" width="5.1" height="5.1"/><rect x="303.9" y="228.4" width="5.1" height="5.1"/><rect x="301.8" y="263.8" width="5.1" height="5.1"/><rect x="300.5" y="262.6" width="5.1" height="5.1"/><rect x="294.9" y="314.5" width="5.1" height="5.1"/><rect x="295.9" y="260.3" width="5.1" height="5.1"/><rect x="301.7" y="297.8" width="5.1" height="5.1"/><rect x="301.0" y="222.1" width="5.1" height="5.1"/><rect x="293.7" y="272.1" width="5.1" height="5.1"/><rect x="297.9" y="244.1" width="5.1" height="5.1"/><rect x="302.1" y="276.8" width="5.1" height="5.1"/><rect x="303.3" y="237.3" width="5.1" height="5.1"/><rect x="298.5" y="236.0" width="5.1" height="5.1"/><rect x="297.1" y="266.4" width="5.1" height="5.1"/><rect x="302.2" y="249.1" width="5.1" height="5.1"/><rect x="306.3" y="265.0" width="5.1" height="5.1"/><rect x="290.3" y="296.0" width="5.1" height="5.1"/><rect x="293.0" y="277.9" width="5.1" height="5.1"/><rect x="305.5" y="313.3" width="5.1" height="5.1"/><rect x="306.2" y="252.5" width="5.1" height="5.1"/><rect x="304.4" y="322.4" width="5.1" height="5.1"/><rect x="297.8" y="245.0" width="5.1" height="5.1"/><rect x="302.3" y="253.0" width="5.1" height="5.1"/><rect x="300.8" y="173.8" width="5.1" height="5.1"/><rect x="296.6" y="291.0" width="5.1" height="5.1"/><rect x="304.7" y="290.2" width="5.1" height="5.1"/><rect x="295.9" y="267.4" width="5.1" height="5.1"/><rect x="297.7" y="270.1" width="5.1" height="5.1"/><rect x="301.4" y="292.5" width="5.1" height="5.1"/><rect x="296.7" y="300.6" width="5.1" height="5.1"/><rect x="303.7" y="255.3" width="5.1" height="5.1"/><rect x="300.5" y="252.7" width="5.1" height="5.1"/><rect x="302.1" y="238.1" width="5.1" height="5.1"/><rect x="303.8" y="224.2" width="5.1" height="5.1"/><rect x="302.6" y="240.2" width="5.1" height="5.1"/><rect x="300.3" y="298.9" width="5.1" height="5.1"/><rect x="304.9" y="202.9" width="5.1" height="5.1"/><rect x="297.3" y="261.2" width="5.1" height="5.1"/><rect x="298.3" y="293.2" width="5.1" height="5.1"/><rect x="296.4" y="265.3" width="5.1" height="5.1"/><rect x="292.5" y="313.1" width="5.1" height="5.1"/><rect x="296.6" y="310.7" width="5.1" height="5.1"/><rect x="302.2" y="259.5" width="5.1" height="5.1"/><rect x="304.7" y="282.5" width="5.1" height="5.1"/><rect x="302.6" y="322.7" width="5.1" height="5.1"/><rect x="301.6" y="320.4" width="5.1" height="5.1"/><rect x="293.1" y="278.3" width="5.1" height="5.1"/><rect x="302.3" y="220.0" width="5.1" height="5.1"/><rect x="297.4" y="321.2" width="5.1" height="5.1"/><rect x="293.4" y="322.6" width="5.1" height="5.1"/><rect x="297.1" y="314.4" width="5.1" height="5.1"/><rect x="302.7" y="262.6" width="5.1" height="5.1"/><rect x="303.5" y="298.2" width="5.1" height="5.1"/><rect x="295.3" y="303.7" width="5.1" height="5.1"/><rect x="302.3" y="256.1" width="5.1" height="5.1"/><rect x="305.3" y="205.3" width="5.1" height="5.1"/><rect x="293.6" y="275.2" width="5.1" height="5.1"/><rect x="302.8" y="209.6" width="5.1" height="5.1"/><rect x="301.9" y="296.4" width="5.1" height="5.1"/><rect x="300.7" y="244.7" width="5.1" height="5.1"/><rect x="294.6" y="274.4" width="5.1" height="5.1"/><rect x="298.2" y="261.7" width="5.1" height="5.1"/><rect x="299.3" y="238.3" width="5.1" height="5.1"/><rect x="301.9" y="240.0" width="5.1" height="5.1"/><rect x="296.5" y="250.6" width="5.1" height="5.1"/><rect x="295.1" y="277.9" width="5.1" height="5.1"/><rect x="305.2" y="213.4" width="5.1" height="5.1"/><rect x="298.3" y="311.1" width="5.1" height="5.1"/><rect x="301.3" y="247.4" width="5.1" height="5.1"/><rect x="297.6" y="299.4" width="5.1" height="5.1"/><rect x="300.0" y="247.4" width="5.1" height="5.1"/><rect x="300.6" y="240.7" width="5.1" height="5.1"/><rect x="304.8" y="307.9" width="5.1" height="5.1"/><rect x="302.5" y="276.0" width="5.1" height="5.1"/><rect x="306.0" y="310.2" width="5.1" height="5.1"/><rect x="303.7" y="320.8" width="5.1" height="5.1"/><rect x="305.2" y="257.3" width="5.1" height="5.1"/><rect x="295.9" y="269.6" width="5.1" height="5.1"/><rect x="294.2" y="318.4" width="5.1" height="5.1"/><rect x="305.2" y="272.2" width="5.1" height="5.1"/><rect x="300.4" y="289.8" width="5.1" height="5.1"/><rect x="301.0" y="292.1" width="5.1" height="5.1"/><rect x="303.6" y="251.0" width="5.1" height="5.1"/><rect x="294.2" y="271.1" width="5.1" height="5.1"/><rect x="295.3" y="272.7" width="5.1" height="5.1"/><rect x="300.3" y="272.7" width="5.1" height="5.1"/><rect x="299.0" y="263.9" width="5.1" height="5.1"/><rect x="303.4" y="265.9" width="5.1" height="5.1"/><rect x="294.1" y="308.9" width="5.1" height="5.1"/><rect x="301.0" y="261.4" width="5.1" height="5.1"/><rect x="303.3" y="276.4" width="5.1" height="5.1"/><rect x="298.8" y="239.6" width="5.1" height="5.1"/><rect x="295.3" y="295.0" width="5.1" height="5.1"/><rect x="301.7" y="301.8" width="5.1" height="5.1"/><rect x="298.4" y="244.0" width="5.1" height="5.1"/><rect x="300.9" y="275.4" width="5.1" height="5.1"/><rect x="298.8" y="280.5" width="5.1" height="5.1"/><rect x="301.0" y="240.1" width="5.1" height="5.1"/><rect x="300.6" y="279.2" width="5.1" height="5.1"/><rect x="299.5" y="263.0" width="5.1" height="5.1"/><rect x="301.9" y="257.5" width="5.1" height="5.1"/><rect x="304.3" y="215.4" width="5.1" height="5.1"/><rect x="300.1" y="246.5" width="5.1" height="5.1"/><rect x="293.5" y="285.6" width="5.1" height="5.1"/><rect x="301.1" y="314.1" width="5.1" height="5.1"/><rect x="303.6" y="293.9" width="5.1" height="5.1"/><rect x="297.4" y="243.1" width="5.1" height="5.1"/><rect x="302.2" y="286.2" width="5.1" height="5.1"/><rect x="303.4" y="225.6" width="5.1" height="5.1"/><rect x="305.2" y="231.0" width="5.1" height="5.1"/><rect x="300.0" y="225.8" width="5.1" height="5.1"/><rect x="299.0" y="240.6" width="5.1" height="5.1"/><rect x="293.1" y="280.2" width="5.1" height="5.1"/><rect x="301.7" y="271.5" width="5.1" height="5.1"/><rect x="304.0" y="307.6" width="5.1" height="5.1"/><rect x="305.2" y="207.4" width="5.1" height="5.1"/><rect x="300.5" y="264.7" width="5.1" height="5.1"/><rect x="301.9" y="219.8" width="5.1" height="5.1"/><rect x="300.7" y="306.4" width="5.1" height="5.1"/><rect x="305.5" y="292.6" width="5.1" height="5.1"/><rect x="301.2" y="246.5" width="5.1" height="5.1"/><rect x="295.0" y="266.4" width="5.1" height="5.1"/><rect x="292.3" y="297.6" width="5.1" height="5.1"/><rect x="304.9" y="256.6" width="5.1" height="5.1"/><rect x="298.8" y="298.4" width="5.1" height="5.1"/><rect x="293.8" y="293.7" width="5.1" height="5.1"/><rect x="303.8" y="219.9" width="5.1" height="5.1"/><rect x="305.1" y="203.9" width="5.1" height="5.1"/><rect x="293.4" y="312.8" width="5.1" height="5.1"/><rect x="306.0" y="206.0" width="5.1" height="5.1"/><rect x="295.6" y="272.6" width="5.1" height="5.1"/><rect x="299.5" y="269.9" width="5.1" height="5.1"/><rect x="292.8" y="306.9" width="5.1" height="5.1"/><rect x="301.6" y="235.3" width="5.1" height="5.1"/><rect x="302.2" y="218.8" width="5.1" height="5.1"/><rect x="297.2" y="299.1" width="5.1" height="5.1"/><rect x="306.2" y="318.1" width="5.1" height="5.1"/><rect x="304.6" y="208.6" width="5.1" height="5.1"/><rect x="305.9" y="233.9" width="5.1" height="5.1"/><rect x="290.2" y="309.1" width="5.1" height="5.1"/><rect x="298.7" y="295.0" width="5.1" height="5.1"/><rect x="302.3" y="319.7" width="5.1" height="5.1"/><rect x="303.1" y="238.7" width="5.1" height="5.1"/><rect x="299.6" y="267.5" width="5.1" height="5.1"/><rect x="292.6" y="298.1" width="5.1" height="5.1"/><rect x="305.5" y="276.2" width="5.1" height="5.1"/><rect x="296.3" y="296.8" width="5.1" height="5.1"/><rect x="296.5" y="271.5" width="5.1" height="5.1"/><rect x="298.2" y="248.7" width="5.1" height="5.1"/><rect x="295.4" y="272.5" width="5.1" height="5.1"/><rect x="297.4" y="301.7" width="5.1" height="5.1"/><rect x="293.6" y="289.0" width="5.1" height="5.1"/><rect x="300.4" y="239.0" width="5.1" height="5.1"/><rect x="305.4" y="300.3" width="5.1" height="5.1"/><rect x="302.2" y="268.1" width="5.1" height="5.1"/><rect x="296.3" y="258.5" width="5.1" height="5.1"/><rect x="297.1" y="250.3" width="5.1" height="5.1"/><rect x="293.5" y="293.8" width="5.1" height="5.1"/><rect x="297.3" y="247.7" width="5.1" height="5.1"/><rect x="299.1" y="252.5" width="5.1" height="5.1"/><rect x="292.4" y="302.8" width="5.1" height="5.1"/><rect x="303.5" y="211.7" width="5.1" height="5.1"/><rect x="292.0" y="309.2" width="5.1" height="5.1"/><rect x="292.4" y="290.6" width="5.1" height="5.1"/><rect x="305.9" y="314.8" width="5.1" height="5.1"/><rect x="295.7" y="260.7" width="5.1" height="5.1"/><rect x="304.0" y="245.3" width="5.1" height="5.1"/><rect x="300.3" y="240.4" width="5.1" height="5.1"/><rect x="302.1" y="319.0" width="5.1" height="5.1"/><rect x="298.8" y="257.9" width="5.1" height="5.1"/><rect x="303.1" y="249.2" width="5.1" height="5.1"/><rect x="300.1" y="313.6" width="5.1" height="5.1"/><rect x="291.7" y="294.6" width="5.1" height="5.1"/><rect x="295.0" y="303.2" width="5.1" height="5.1"/><rect x="303.2" y="267.6" width="5.1" height="5.1"/><rect x="295.3" y="289.4" width="5.1" height="5.1"/><rect x="293.0" y="318.5" width="5.1" height="5.1"/><rect x="305.9" y="320.3" width="5.1" height="5.1"/><rect x="296.4" y="280.4" width="5.1" height="5.1"/><rect x="298.6" y="272.5" width="5.1" height="5.1"/><rect x="301.0" y="226.2" width="5.1" height="5.1"/><rect x="298.6" y="249.5" width="5.1" height="5.1"/><rect x="301.1" y="308.3" width="5.1" height="5.1"/><rect x="304.6" y="285.2" width="5.1" height="5.1"/><rect x="292.3" y="305.2" width="5.1" height="5.1"/><rect x="299.7" y="251.7" width="5.1" height="5.1"/><rect x="301.5" y="221.8" width="5.1" height="5.1"/><rect x="296.6" y="258.9" width="5.1" height="5.1"/><rect x="300.9" y="308.4" width="5.1" height="5.1"/><rect x="291.6" y="305.2" width="5.1" height="5.1"/><rect x="305.1" y="233.3" width="5.1" height="5.1"/><rect x="291.2" y="322.4" width="5.1" height="5.1"/><rect x="299.3" y="234.4" width="5.1" height="5.1"/><rect x="298.8" y="234.9" width="5.1" height="5.1"/><rect x="301.1" y="234.4" width="5.1" height="5.1"/><rect x="305.3" y="254.9" width="5.1" height="5.1"/><rect x="298.3" y="234.6" width="5.1" height="5.1"/><rect x="291.1" y="302.4" width="5.1" height="5.1"/><rect x="302.6" y="212.0" width="5.1" height="5.1"/><rect x="295.2" y="274.4" width="5.1" height="5.1"/><rect x="301.1" y="255.3" width="5.1" height="5.1"/><rect x="304.8" y="245.4" width="5.1" height="5.1"/><rect x="293.5" y="273.1" width="5.1" height="5.1"/><rect x="302.5" y="271.2" width="5.1" height="5.1"/><rect x="293.5" y="310.0" width="5.1" height="5.1"/></g>

<g fill="#1f79c4" stroke="#14599c" stroke-width="1"><rect x="213.4" y="36.9" width="5.1" height="5.1"/><rect x="221.6" y="212.8" width="5.1" height="5.1"/><rect x="220.4" y="131.2" width="5.1" height="5.1"/><rect x="204.0" y="140.0" width="5.1" height="5.1"/><rect x="231.2" y="186.4" width="5.1" height="5.1"/><rect x="230.9" y="317.6" width="5.1" height="5.1"/><rect x="221.9" y="213.0" width="5.1" height="5.1"/><rect x="198.4" y="44.7" width="5.1" height="5.1"/><rect x="173.8" y="36.9" width="5.1" height="5.1"/><rect x="225.6" y="201.5" width="5.1" height="5.1"/><rect x="224.3" y="133.6" width="5.1" height="5.1"/><rect x="230.8" y="235.9" width="5.1" height="5.1"/><rect x="221.8" y="90.9" width="5.1" height="5.1"/><rect x="215.7" y="241.5" width="5.1" height="5.1"/><rect x="237.9" y="233.5" width="5.1" height="5.1"/><rect x="239.6" y="321.3" width="5.1" height="5.1"/><rect x="204.3" y="138.5" width="5.1" height="5.1"/><rect x="223.5" y="163.5" width="5.1" height="5.1"/><rect x="214.8" y="228.1" width="5.1" height="5.1"/><rect x="205.7" y="133.4" width="5.1" height="5.1"/><rect x="243.9" y="319.8" width="5.1" height="5.1"/><rect x="209.3" y="203.7" width="5.1" height="5.1"/><rect x="213.5" y="124.2" width="5.1" height="5.1"/><rect x="214.5" y="319.5" width="5.1" height="5.1"/><rect x="215.8" y="160.3" width="5.1" height="5.1"/><rect x="230.7" y="275.7" width="5.1" height="5.1"/><rect x="222.9" y="303.0" width="5.1" height="5.1"/><rect x="224.2" y="223.7" width="5.1" height="5.1"/><rect x="236.3" y="266.6" width="5.1" height="5.1"/><rect x="217.3" y="244.0" width="5.1" height="5.1"/><rect x="232.8" y="213.7" width="5.1" height="5.1"/><rect x="237.5" y="312.5" width="5.1" height="5.1"/><rect x="216.0" y="318.3" width="5.1" height="5.1"/><rect x="218.1" y="289.3" width="5.1" height="5.1"/><rect x="205.1" y="65.2" width="5.1" height="5.1"/><rect x="221.8" y="83.7" width="5.1" height="5.1"/><rect x="230.0" y="159.7" width="5.1" height="5.1"/><rect x="222.4" y="261.7" width="5.1" height="5.1"/><rect x="218.0" y="136.0" width="5.1" height="5.1"/><rect x="221.7" y="299.6" width="5.1" height="5.1"/><rect x="217.0" y="294.2" width="5.1" height="5.1"/><rect x="215.3" y="152.5" width="5.1" height="5.1"/><rect x="229.1" y="244.2" width="5.1" height="5.1"/><rect x="227.9" y="292.6" width="5.1" height="5.1"/><rect x="242.0" y="259.3" width="5.1" height="5.1"/><rect x="206.3" y="125.5" width="5.1" height="5.1"/><rect x="221.9" y="311.6" width="5.1" height="5.1"/><rect x="213.9" y="178.3" width="5.1" height="5.1"/><rect x="236.4" y="291.8" width="5.1" height="5.1"/><rect x="241.1" y="307.5" width="5.1" height="5.1"/><rect x="220.9" y="213.5" width="5.1" height="5.1"/><rect x="236.3" y="248.6" width="5.1" height="5.1"/><rect x="201.5" y="50.9" width="5.1" height="5.1"/><rect x="211.4" y="136.0" width="5.1" height="5.1"/><rect x="219.9" y="197.7" width="5.1" height="5.1"/><rect x="223.5" y="150.3" width="5.1" height="5.1"/><rect x="232.0" y="210.2" width="5.1" height="5.1"/><rect x="220.8" y="273.2" width="5.1" height="5.1"/><rect x="204.7" y="151.5" width="5.1" height="5.1"/><rect x="214.7" y="243.1" width="5.1" height="5.1"/><rect x="241.9" y="261.2" width="5.1" height="5.1"/><rect x="236.0" y="301.5" width="5.1" height="5.1"/><rect x="229.0" y="129.4" width="5.1" height="5.1"/><rect x="222.4" y="314.6" width="5.1" height="5.1"/><rect x="240.1" y="228.2" width="5.1" height="5.1"/><rect x="236.2" y="308.7" width="5.1" height="5.1"/><rect x="234.3" y="302.7" width="5.1" height="5.1"/><rect x="225.9" y="246.2" width="5.1" height="5.1"/><rect x="241.9" y="270.5" width="5.1" height="5.1"/><rect x="223.4" y="254.1" width="5.1" height="5.1"/><rect x="187.5" y="36.9" width="5.1" height="5.1"/><rect x="230.1" y="165.8" width="5.1" height="5.1"/><rect x="235.2" y="294.1" width="5.1" height="5.1"/><rect x="198.4" y="56.7" width="5.1" height="5.1"/><rect x="220.0" y="227.8" width="5.1" height="5.1"/><rect x="214.0" y="181.9" width="5.1" height="5.1"/><rect x="225.5" y="303.2" width="5.1" height="5.1"/><rect x="219.8" y="157.7" width="5.1" height="5.1"/><rect x="226.3" y="200.6" width="5.1" height="5.1"/><rect x="215.0" y="240.8" width="5.1" height="5.1"/><rect x="221.4" y="60.5" width="5.1" height="5.1"/><rect x="236.3" y="301.3" width="5.1" height="5.1"/><rect x="181.2" y="70.5" width="5.1" height="5.1"/><rect x="216.7" y="308.6" width="5.1" height="5.1"/><rect x="239.8" y="256.3" width="5.1" height="5.1"/><rect x="183.6" y="139.4" width="5.1" height="5.1"/><rect x="220.0" y="313.6" width="5.1" height="5.1"/><rect x="210.4" y="165.5" width="5.1" height="5.1"/><rect x="205.6" y="171.7" width="5.1" height="5.1"/><rect x="218.8" y="144.7" width="5.1" height="5.1"/><rect x="217.0" y="157.3" width="5.1" height="5.1"/><rect x="203.5" y="163.4" width="5.1" height="5.1"/><rect x="234.7" y="239.2" width="5.1" height="5.1"/><rect x="190.2" y="36.9" width="5.1" height="5.1"/><rect x="240.4" y="314.9" width="5.1" height="5.1"/><rect x="242.3" y="274.1" width="5.1" height="5.1"/><rect x="228.8" y="181.1" width="5.1" height="5.1"/><rect x="230.6" y="268.6" width="5.1" height="5.1"/><rect x="223.2" y="178.8" width="5.1" height="5.1"/><rect x="172.8" y="151.3" width="5.1" height="5.1"/><rect x="235.3" y="289.7" width="5.1" height="5.1"/><rect x="237.6" y="264.5" width="5.1" height="5.1"/><rect x="221.0" y="214.8" width="5.1" height="5.1"/><rect x="221.7" y="260.0" width="5.1" height="5.1"/><rect x="229.4" y="202.5" width="5.1" height="5.1"/><rect x="212.2" y="150.4" width="5.1" height="5.1"/><rect x="230.1" y="199.1" width="5.1" height="5.1"/><rect x="227.3" y="200.3" width="5.1" height="5.1"/><rect x="214.0" y="136.7" width="5.1" height="5.1"/><rect x="220.3" y="274.8" width="5.1" height="5.1"/><rect x="231.6" y="308.4" width="5.1" height="5.1"/><rect x="236.1" y="245.2" width="5.1" height="5.1"/><rect x="240.9" y="248.0" width="5.1" height="5.1"/><rect x="190.8" y="83.7" width="5.1" height="5.1"/><rect x="228.8" y="172.5" width="5.1" height="5.1"/><rect x="220.6" y="112.4" width="5.1" height="5.1"/><rect x="214.6" y="143.0" width="5.1" height="5.1"/><rect x="220.3" y="312.6" width="5.1" height="5.1"/><rect x="240.5" y="243.7" width="5.1" height="5.1"/><rect x="207.2" y="137.3" width="5.1" height="5.1"/><rect x="229.2" y="132.1" width="5.1" height="5.1"/><rect x="200.5" y="36.9" width="5.1" height="5.1"/><rect x="221.8" y="117.0" width="5.1" height="5.1"/><rect x="214.6" y="282.4" width="5.1" height="5.1"/><rect x="232.1" y="284.9" width="5.1" height="5.1"/><rect x="239.8" y="308.2" width="5.1" height="5.1"/><rect x="214.1" y="155.0" width="5.1" height="5.1"/><rect x="223.0" y="313.1" width="5.1" height="5.1"/><rect x="225.2" y="288.6" width="5.1" height="5.1"/><rect x="232.3" y="249.8" width="5.1" height="5.1"/><rect x="215.7" y="138.3" width="5.1" height="5.1"/><rect x="222.7" y="183.8" width="5.1" height="5.1"/><rect x="230.8" y="217.6" width="5.1" height="5.1"/><rect x="219.4" y="285.1" width="5.1" height="5.1"/><rect x="237.2" y="308.6" width="5.1" height="5.1"/><rect x="229.8" y="189.9" width="5.1" height="5.1"/><rect x="220.9" y="180.9" width="5.1" height="5.1"/><rect x="227.8" y="138.2" width="5.1" height="5.1"/><rect x="230.5" y="255.3" width="5.1" height="5.1"/><rect x="230.2" y="120.7" width="5.1" height="5.1"/><rect x="220.2" y="142.4" width="5.1" height="5.1"/><rect x="231.8" y="297.0" width="5.1" height="5.1"/><rect x="233.1" y="294.9" width="5.1" height="5.1"/><rect x="231.6" y="287.9" width="5.1" height="5.1"/><rect x="216.7" y="148.1" width="5.1" height="5.1"/><rect x="241.0" y="266.9" width="5.1" height="5.1"/><rect x="226.2" y="276.6" width="5.1" height="5.1"/><rect x="222.3" y="230.3" width="5.1" height="5.1"/><rect x="237.4" y="268.0" width="5.1" height="5.1"/><rect x="239.0" y="226.0" width="5.1" height="5.1"/><rect x="210.1" y="158.7" width="5.1" height="5.1"/><rect x="226.4" y="283.8" width="5.1" height="5.1"/><rect x="220.3" y="174.9" width="5.1" height="5.1"/><rect x="228.4" y="301.0" width="5.1" height="5.1"/><rect x="221.9" y="260.6" width="5.1" height="5.1"/><rect x="224.2" y="86.0" width="5.1" height="5.1"/><rect x="231.4" y="269.0" width="5.1" height="5.1"/><rect x="219.4" y="123.0" width="5.1" height="5.1"/><rect x="213.3" y="295.8" width="5.1" height="5.1"/><rect x="232.8" y="280.7" width="5.1" height="5.1"/><rect x="222.5" y="186.8" width="5.1" height="5.1"/><rect x="232.5" y="278.0" width="5.1" height="5.1"/><rect x="232.7" y="270.5" width="5.1" height="5.1"/><rect x="220.6" y="178.4" width="5.1" height="5.1"/><rect x="219.4" y="252.7" width="5.1" height="5.1"/><rect x="171.1" y="36.9" width="5.1" height="5.1"/><rect x="206.3" y="204.4" width="5.1" height="5.1"/><rect x="230.6" y="216.2" width="5.1" height="5.1"/><rect x="209.4" y="197.8" width="5.1" height="5.1"/><rect x="211.2" y="222.4" width="5.1" height="5.1"/><rect x="242.4" y="294.6" width="5.1" height="5.1"/><rect x="223.1" y="262.2" width="5.1" height="5.1"/><rect x="228.6" y="169.9" width="5.1" height="5.1"/><rect x="199.1" y="53.8" width="5.1" height="5.1"/><rect x="218.5" y="322.4" width="5.1" height="5.1"/><rect x="215.8" y="36.9" width="5.1" height="5.1"/><rect x="204.8" y="170.9" width="5.1" height="5.1"/><rect x="233.1" y="281.0" width="5.1" height="5.1"/><rect x="226.9" y="159.2" width="5.1" height="5.1"/><rect x="195.5" y="49.5" width="5.1" height="5.1"/><rect x="215.5" y="287.5" width="5.1" height="5.1"/><rect x="207.0" y="203.8" width="5.1" height="5.1"/><rect x="217.6" y="144.2" width="5.1" height="5.1"/><rect x="227.8" y="288.6" width="5.1" height="5.1"/><rect x="203.0" y="36.9" width="5.1" height="5.1"/><rect x="211.7" y="200.6" width="5.1" height="5.1"/><rect x="210.0" y="172.6" width="5.1" height="5.1"/><rect x="216.3" y="72.9" width="5.1" height="5.1"/><rect x="235.7" y="225.7" width="5.1" height="5.1"/><rect x="212.9" y="134.7" width="5.1" height="5.1"/><rect x="226.8" y="253.5" width="5.1" height="5.1"/><rect x="212.4" y="169.2" width="5.1" height="5.1"/><rect x="222.0" y="240.0" width="5.1" height="5.1"/><rect x="187.2" y="88.5" width="5.1" height="5.1"/><rect x="232.9" y="283.4" width="5.1" height="5.1"/><rect x="229.6" y="239.4" width="5.1" height="5.1"/><rect x="232.8" y="261.1" width="5.1" height="5.1"/><rect x="190.0" y="151.3" width="5.1" height="5.1"/><rect x="192.4" y="176.4" width="5.1" height="5.1"/><rect x="228.4" y="309.2" width="5.1" height="5.1"/><rect x="163.8" y="36.9" width="5.1" height="5.1"/><rect x="216.3" y="63.4" width="5.1" height="5.1"/><rect x="235.8" y="254.4" width="5.1" height="5.1"/><rect x="242.9" y="301.9" width="5.1" height="5.1"/><rect x="237.8" y="240.4" width="5.1" height="5.1"/><rect x="223.4" y="213.3" width="5.1" height="5.1"/><rect x="217.2" y="204.8" width="5.1" height="5.1"/><rect x="205.7" y="183.2" width="5.1" height="5.1"/><rect x="234.0" y="205.8" width="5.1" height="5.1"/><rect x="222.4" y="317.2" width="5.1" height="5.1"/><rect x="234.0" y="259.4" width="5.1" height="5.1"/><rect x="222.0" y="131.8" width="5.1" height="5.1"/><rect x="197.8" y="36.9" width="5.1" height="5.1"/><rect x="237.1" y="298.1" width="5.1" height="5.1"/><rect x="232.7" y="296.6" width="5.1" height="5.1"/><rect x="226.0" y="225.8" width="5.1" height="5.1"/><rect x="189.6" y="187.2" width="5.1" height="5.1"/><rect x="236.2" y="181.9" width="5.1" height="5.1"/><rect x="217.8" y="77.2" width="5.1" height="5.1"/><rect x="230.4" y="213.3" width="5.1" height="5.1"/><rect x="226.0" y="164.4" width="5.1" height="5.1"/><rect x="202.4" y="159.0" width="5.1" height="5.1"/><rect x="219.0" y="137.9" width="5.1" height="5.1"/><rect x="229.0" y="89.7" width="5.1" height="5.1"/><rect x="227.9" y="178.2" width="5.1" height="5.1"/><rect x="237.1" y="314.2" width="5.1" height="5.1"/><rect x="225.4" y="121.9" width="5.1" height="5.1"/><rect x="225.9" y="237.9" width="5.1" height="5.1"/><rect x="180.0" y="90.9" width="5.1" height="5.1"/><rect x="207.4" y="242.9" width="5.1" height="5.1"/><rect x="234.4" y="310.7" width="5.1" height="5.1"/><rect x="216.2" y="187.2" width="5.1" height="5.1"/><rect x="236.3" y="304.7" width="5.1" height="5.1"/><rect x="221.2" y="308.5" width="5.1" height="5.1"/><rect x="224.4" y="290.1" width="5.1" height="5.1"/><rect x="231.7" y="313.6" width="5.1" height="5.1"/><rect x="221.1" y="245.3" width="5.1" height="5.1"/><rect x="214.0" y="249.7" width="5.1" height="5.1"/><rect x="218.9" y="159.1" width="5.1" height="5.1"/><rect x="242.0" y="279.1" width="5.1" height="5.1"/><rect x="243.4" y="307.0" width="5.1" height="5.1"/><rect x="213.0" y="214.8" width="5.1" height="5.1"/><rect x="237.6" y="265.1" width="5.1" height="5.1"/><rect x="232.0" y="275.3" width="5.1" height="5.1"/><rect x="216.2" y="205.5" width="5.1" height="5.1"/><rect x="220.0" y="308.8" width="5.1" height="5.1"/><rect x="212.8" y="49.5" width="5.1" height="5.1"/><rect x="212.3" y="173.0" width="5.1" height="5.1"/><rect x="235.1" y="291.6" width="5.1" height="5.1"/><rect x="162.8" y="242.2" width="5.1" height="5.1"/><rect x="215.6" y="139.4" width="5.1" height="5.1"/><rect x="219.1" y="282.3" width="5.1" height="5.1"/><rect x="208.8" y="114.8" width="5.1" height="5.1"/><rect x="233.3" y="252.6" width="5.1" height="5.1"/><rect x="216.6" y="178.3" width="5.1" height="5.1"/><rect x="219.2" y="157.4" width="5.1" height="5.1"/><rect x="237.3" y="259.6" width="5.1" height="5.1"/><rect x="220.9" y="282.9" width="5.1" height="5.1"/><rect x="209.9" y="249.4" width="5.1" height="5.1"/><rect x="230.2" y="105.2" width="5.1" height="5.1"/><rect x="241.0" y="291.0" width="5.1" height="5.1"/><rect x="217.5" y="288.6" width="5.1" height="5.1"/><rect x="229.4" y="239.2" width="5.1" height="5.1"/><rect x="228.6" y="211.9" width="5.1" height="5.1"/><rect x="238.9" y="322.5" width="5.1" height="5.1"/><rect x="225.4" y="106.4" width="5.1" height="5.1"/><rect x="215.3" y="224.8" width="5.1" height="5.1"/><rect x="241.0" y="277.1" width="5.1" height="5.1"/><rect x="213.6" y="155.1" width="5.1" height="5.1"/><rect x="228.8" y="319.7" width="5.1" height="5.1"/><rect x="234.5" y="240.9" width="5.1" height="5.1"/><rect x="217.6" y="129.4" width="5.1" height="5.1"/><rect x="211.4" y="220.8" width="5.1" height="5.1"/><rect x="239.7" y="265.3" width="5.1" height="5.1"/><rect x="210.8" y="171.8" width="5.1" height="5.1"/><rect x="214.5" y="309.2" width="5.1" height="5.1"/><rect x="237.4" y="305.3" width="5.1" height="5.1"/><rect x="230.2" y="111.2" width="5.1" height="5.1"/><rect x="215.7" y="296.3" width="5.1" height="5.1"/><rect x="222.4" y="243.5" width="5.1" height="5.1"/><rect x="172.8" y="110.0" width="5.1" height="5.1"/><rect x="188.4" y="145.4" width="5.1" height="5.1"/><rect x="208.0" y="36.9" width="5.1" height="5.1"/><rect x="237.8" y="267.4" width="5.1" height="5.1"/><rect x="191.9" y="66.9" width="5.1" height="5.1"/><rect x="227.1" y="170.2" width="5.1" height="5.1"/><rect x="220.2" y="309.8" width="5.1" height="5.1"/><rect x="235.2" y="250.0" width="5.1" height="5.1"/><rect x="212.4" y="185.4" width="5.1" height="5.1"/><rect x="224.6" y="147.2" width="5.1" height="5.1"/><rect x="210.5" y="208.8" width="5.1" height="5.1"/><rect x="230.6" y="321.1" width="5.1" height="5.1"/><rect x="233.1" y="293.9" width="5.1" height="5.1"/><rect x="231.0" y="299.2" width="5.1" height="5.1"/><rect x="227.8" y="117.0" width="5.1" height="5.1"/><rect x="240.2" y="272.3" width="5.1" height="5.1"/><rect x="226.8" y="273.7" width="5.1" height="5.1"/><rect x="209.6" y="177.8" width="5.1" height="5.1"/><rect x="223.0" y="148.0" width="5.1" height="5.1"/><rect x="240.9" y="252.7" width="5.1" height="5.1"/><rect x="233.4" y="305.3" width="5.1" height="5.1"/><rect x="218.8" y="302.6" width="5.1" height="5.1"/><rect x="235.8" y="289.4" width="5.1" height="5.1"/><rect x="231.1" y="297.4" width="5.1" height="5.1"/><rect x="211.1" y="81.2" width="5.1" height="5.1"/><rect x="227.2" y="243.1" width="5.1" height="5.1"/><rect x="228.6" y="167.2" width="5.1" height="5.1"/><rect x="214.0" y="256.0" width="5.1" height="5.1"/><rect x="236.6" y="216.3" width="5.1" height="5.1"/><rect x="153.0" y="36.9" width="5.1" height="5.1"/><rect x="220.4" y="219.9" width="5.1" height="5.1"/><rect x="222.2" y="261.4" width="5.1" height="5.1"/><rect x="208.5" y="185.6" width="5.1" height="5.1"/><rect x="231.9" y="197.6" width="5.1" height="5.1"/><rect x="224.0" y="239.1" width="5.1" height="5.1"/><rect x="222.6" y="232.5" width="5.1" height="5.1"/><rect x="233.2" y="302.2" width="5.1" height="5.1"/><rect x="218.6" y="237.7" width="5.1" height="5.1"/><rect x="214.4" y="209.9" width="5.1" height="5.1"/><rect x="224.2" y="230.0" width="5.1" height="5.1"/><rect x="215.4" y="174.4" width="5.1" height="5.1"/><rect x="214.6" y="237.1" width="5.1" height="5.1"/><rect x="238.0" y="251.0" width="5.1" height="5.1"/><rect x="219.6" y="306.6" width="5.1" height="5.1"/><rect x="226.6" y="112.4" width="5.1" height="5.1"/><rect x="224.1" y="145.0" width="5.1" height="5.1"/><rect x="214.5" y="230.3" width="5.1" height="5.1"/><rect x="236.8" y="300.4" width="5.1" height="5.1"/><rect x="228.6" y="238.9" width="5.1" height="5.1"/><rect x="230.2" y="169.9" width="5.1" height="5.1"/><rect x="218.9" y="264.5" width="5.1" height="5.1"/><rect x="193.1" y="148.4" width="5.1" height="5.1"/><rect x="222.8" y="266.6" width="5.1" height="5.1"/><rect x="197.9" y="105.9" width="5.1" height="5.1"/><rect x="219.6" y="279.3" width="5.1" height="5.1"/><rect x="219.4" y="159.6" width="5.1" height="5.1"/><rect x="221.6" y="280.2" width="5.1" height="5.1"/><rect x="239.5" y="239.5" width="5.1" height="5.1"/><rect x="214.1" y="229.7" width="5.1" height="5.1"/><rect x="209.3" y="211.8" width="5.1" height="5.1"/><rect x="216.5" y="220.6" width="5.1" height="5.1"/><rect x="231.9" y="302.1" width="5.1" height="5.1"/><rect x="228.9" y="191.1" width="5.1" height="5.1"/><rect x="229.2" y="265.3" width="5.1" height="5.1"/><rect x="213.4" y="170.9" width="5.1" height="5.1"/><rect x="227.0" y="219.3" width="5.1" height="5.1"/><rect x="212.8" y="222.8" width="5.1" height="5.1"/><rect x="204.4" y="98.5" width="5.1" height="5.1"/><rect x="213.7" y="174.1" width="5.1" height="5.1"/><rect x="135.8" y="36.9" width="5.1" height="5.1"/><rect x="240.4" y="309.4" width="5.1" height="5.1"/><rect x="202.0" y="52.6" width="5.1" height="5.1"/><rect x="228.3" y="176.6" width="5.1" height="5.1"/><rect x="226.5" y="283.8" width="5.1" height="5.1"/><rect x="228.5" y="155.2" width="5.1" height="5.1"/><rect x="212.8" y="186.8" width="5.1" height="5.1"/><rect x="223.6" y="190.6" width="5.1" height="5.1"/><rect x="225.4" y="245.9" width="5.1" height="5.1"/><rect x="227.9" y="206.6" width="5.1" height="5.1"/><rect x="229.7" y="249.1" width="5.1" height="5.1"/><rect x="223.9" y="190.2" width="5.1" height="5.1"/><rect x="209.4" y="162.3" width="5.1" height="5.1"/><rect x="227.2" y="275.5" width="5.1" height="5.1"/><rect x="217.0" y="199.1" width="5.1" height="5.1"/><rect x="229.9" y="189.8" width="5.1" height="5.1"/><rect x="226.5" y="267.8" width="5.1" height="5.1"/><rect x="232.3" y="223.4" width="5.1" height="5.1"/><rect x="219.8" y="143.6" width="5.1" height="5.1"/><rect x="228.2" y="157.4" width="5.1" height="5.1"/><rect x="216.8" y="258.3" width="5.1" height="5.1"/><rect x="222.5" y="68.0" width="5.1" height="5.1"/><rect x="222.5" y="198.0" width="5.1" height="5.1"/><rect x="241.6" y="249.9" width="5.1" height="5.1"/><rect x="232.7" y="198.3" width="5.1" height="5.1"/><rect x="238.6" y="312.2" width="5.1" height="5.1"/><rect x="212.8" y="180.6" width="5.1" height="5.1"/><rect x="192.2" y="36.9" width="5.1" height="5.1"/><rect x="232.0" y="185.8" width="5.1" height="5.1"/><rect x="236.1" y="259.4" width="5.1" height="5.1"/><rect x="209.2" y="151.5" width="5.1" height="5.1"/><rect x="215.6" y="282.2" width="5.1" height="5.1"/><rect x="219.0" y="282.8" width="5.1" height="5.1"/><rect x="232.7" y="250.1" width="5.1" height="5.1"/><rect x="219.5" y="238.3" width="5.1" height="5.1"/><rect x="225.6" y="135.1" width="5.1" height="5.1"/><rect x="231.0" y="193.8" width="5.1" height="5.1"/><rect x="223.7" y="255.1" width="5.1" height="5.1"/><rect x="234.7" y="294.2" width="5.1" height="5.1"/><rect x="232.9" y="282.4" width="5.1" height="5.1"/><rect x="218.1" y="36.9" width="5.1" height="5.1"/><rect x="241.9" y="322.7" width="5.1" height="5.1"/><rect x="234.7" y="212.7" width="5.1" height="5.1"/><rect x="212.8" y="219.2" width="5.1" height="5.1"/><rect x="216.1" y="240.1" width="5.1" height="5.1"/><rect x="206.3" y="290.8" width="5.1" height="5.1"/><rect x="226.9" y="257.9" width="5.1" height="5.1"/><rect x="196.8" y="81.2" width="5.1" height="5.1"/><rect x="217.4" y="293.3" width="5.1" height="5.1"/><rect x="218.8" y="172.7" width="5.1" height="5.1"/><rect x="224.5" y="214.8" width="5.1" height="5.1"/><rect x="224.3" y="163.3" width="5.1" height="5.1"/><rect x="229.6" y="136.8" width="5.1" height="5.1"/><rect x="217.8" y="185.6" width="5.1" height="5.1"/><rect x="219.0" y="155.2" width="5.1" height="5.1"/><rect x="205.9" y="199.9" width="5.1" height="5.1"/><rect x="224.2" y="95.5" width="5.1" height="5.1"/><rect x="226.6" y="212.5" width="5.1" height="5.1"/><rect x="236.0" y="303.2" width="5.1" height="5.1"/><rect x="209.0" y="162.8" width="5.1" height="5.1"/><rect x="227.6" y="155.9" width="5.1" height="5.1"/><rect x="221.5" y="291.6" width="5.1" height="5.1"/><rect x="228.6" y="169.3" width="5.1" height="5.1"/><rect x="211.1" y="295.4" width="5.1" height="5.1"/><rect x="231.0" y="275.6" width="5.1" height="5.1"/><rect x="239.9" y="231.4" width="5.1" height="5.1"/><rect x="216.4" y="304.0" width="5.1" height="5.1"/><rect x="238.1" y="283.1" width="5.1" height="5.1"/><rect x="235.7" y="264.4" width="5.1" height="5.1"/><rect x="237.4" y="280.6" width="5.1" height="5.1"/><rect x="195.0" y="36.9" width="5.1" height="5.1"/><rect x="193.1" y="71.7" width="5.1" height="5.1"/><rect x="226.6" y="317.5" width="5.1" height="5.1"/><rect x="230.4" y="207.0" width="5.1" height="5.1"/><rect x="234.8" y="216.8" width="5.1" height="5.1"/><rect x="225.3" y="314.7" width="5.1" height="5.1"/><rect x="240.1" y="296.5" width="5.1" height="5.1"/><rect x="222.2" y="222.1" width="5.1" height="5.1"/><rect x="224.3" y="175.5" width="5.1" height="5.1"/><rect x="239.7" y="237.3" width="5.1" height="5.1"/><rect x="237.7" y="240.0" width="5.1" height="5.1"/><rect x="213.9" y="59.1" width="5.1" height="5.1"/><rect x="216.3" y="89.7" width="5.1" height="5.1"/><rect x="236.5" y="322.0" width="5.1" height="5.1"/><rect x="211.1" y="64.5" width="5.1" height="5.1"/><rect x="217.9" y="193.6" width="5.1" height="5.1"/><rect x="176.4" y="36.9" width="5.1" height="5.1"/><rect x="196.8" y="96.8" width="5.1" height="5.1"/><rect x="225.4" y="74.0" width="5.1" height="5.1"/><rect x="214.5" y="318.0" width="5.1" height="5.1"/><rect x="223.5" y="176.9" width="5.1" height="5.1"/><rect x="226.6" y="301.4" width="5.1" height="5.1"/><rect x="238.4" y="261.6" width="5.1" height="5.1"/><rect x="215.2" y="281.0" width="5.1" height="5.1"/><rect x="227.4" y="246.0" width="5.1" height="5.1"/><rect x="241.8" y="281.8" width="5.1" height="5.1"/><rect x="211.1" y="211.4" width="5.1" height="5.1"/><rect x="210.9" y="36.9" width="5.1" height="5.1"/><rect x="225.3" y="281.8" width="5.1" height="5.1"/><rect x="227.3" y="229.9" width="5.1" height="5.1"/><rect x="217.5" y="211.7" width="5.1" height="5.1"/><rect x="206.3" y="275.2" width="5.1" height="5.1"/><rect x="238.7" y="287.8" width="5.1" height="5.1"/><rect x="241.4" y="281.6" width="5.1" height="5.1"/><rect x="212.7" y="166.8" width="5.1" height="5.1"/><rect x="222.7" y="301.4" width="5.1" height="5.1"/><rect x="222.6" y="171.0" width="5.1" height="5.1"/><rect x="228.4" y="293.4" width="5.1" height="5.1"/><rect x="214.1" y="160.4" width="5.1" height="5.1"/><rect x="225.9" y="78.2" width="5.1" height="5.1"/><rect x="234.1" y="275.5" width="5.1" height="5.1"/><rect x="218.2" y="66.9" width="5.1" height="5.1"/><rect x="228.3" y="289.0" width="5.1" height="5.1"/><rect x="228.2" y="225.6" width="5.1" height="5.1"/><rect x="224.8" y="157.9" width="5.1" height="5.1"/><rect x="240.9" y="285.2" width="5.1" height="5.1"/><rect x="210.6" y="166.8" width="5.1" height="5.1"/><rect x="236.9" y="293.1" width="5.1" height="5.1"/><rect x="220.9" y="150.3" width="5.1" height="5.1"/><rect x="222.6" y="192.7" width="5.1" height="5.1"/><rect x="217.8" y="106.9" width="5.1" height="5.1"/><rect x="222.5" y="276.7" width="5.1" height="5.1"/><rect x="220.4" y="249.1" width="5.1" height="5.1"/><rect x="225.4" y="99.2" width="5.1" height="5.1"/><rect x="230.7" y="289.7" width="5.1" height="5.1"/><rect x="203.5" y="200.9" width="5.1" height="5.1"/><rect x="223.4" y="259.5" width="5.1" height="5.1"/><rect x="207.6" y="164.3" width="5.1" height="5.1"/><rect x="235.6" y="316.5" width="5.1" height="5.1"/><rect x="208.6" y="141.0" width="5.1" height="5.1"/><rect x="193.6" y="43.0" width="5.1" height="5.1"/><rect x="208.7" y="171.1" width="5.1" height="5.1"/><rect x="204.4" y="105.9" width="5.1" height="5.1"/><rect x="217.1" y="129.0" width="5.1" height="5.1"/><rect x="239.4" y="276.3" width="5.1" height="5.1"/><rect x="230.6" y="141.0" width="5.1" height="5.1"/><rect x="231.4" y="305.4" width="5.1" height="5.1"/><rect x="214.3" y="264.8" width="5.1" height="5.1"/><rect x="214.9" y="202.3" width="5.1" height="5.1"/><rect x="178.7" y="36.9" width="5.1" height="5.1"/><rect x="222.4" y="256.6" width="5.1" height="5.1"/><rect x="224.7" y="290.8" width="5.1" height="5.1"/><rect x="230.7" y="236.0" width="5.1" height="5.1"/><rect x="216.7" y="219.1" width="5.1" height="5.1"/><rect x="222.7" y="262.0" width="5.1" height="5.1"/><rect x="207.3" y="203.3" width="5.1" height="5.1"/><rect x="220.7" y="250.7" width="5.1" height="5.1"/><rect x="230.3" y="259.1" width="5.1" height="5.1"/><rect x="203.4" y="46.1" width="5.1" height="5.1"/><rect x="227.7" y="144.4" width="5.1" height="5.1"/><rect x="223.6" y="253.8" width="5.1" height="5.1"/><rect x="219.4" y="93.2" width="5.1" height="5.1"/><rect x="214.1" y="258.8" width="5.1" height="5.1"/><rect x="225.9" y="267.8" width="5.1" height="5.1"/><rect x="222.5" y="136.6" width="5.1" height="5.1"/><rect x="239.2" y="289.4" width="5.1" height="5.1"/><rect x="242.4" y="316.3" width="5.1" height="5.1"/><rect x="235.8" y="263.3" width="5.1" height="5.1"/><rect x="227.5" y="145.2" width="5.1" height="5.1"/><rect x="209.6" y="183.8" width="5.1" height="5.1"/><rect x="229.0" y="160.6" width="5.1" height="5.1"/><rect x="196.8" y="70.5" width="5.1" height="5.1"/><rect x="220.5" y="173.0" width="5.1" height="5.1"/><rect x="230.5" y="216.0" width="5.1" height="5.1"/><rect x="205.1" y="36.9" width="5.1" height="5.1"/><rect x="210.5" y="151.4" width="5.1" height="5.1"/></g>

<g fill="#f3261d" stroke="#c41916" stroke-width="1"><rect x="316.2" y="216.5" width="5.1" height="5.1"/><rect x="318.6" y="294.6" width="5.1" height="5.1"/><rect x="320.1" y="216.6" width="5.1" height="5.1"/><rect x="324.4" y="173.4" width="5.1" height="5.1"/><rect x="312.7" y="210.9" width="5.1" height="5.1"/><rect x="309.6" y="190.1" width="5.1" height="5.1"/><rect x="314.3" y="197.6" width="5.1" height="5.1"/><rect x="324.8" y="146.5" width="5.1" height="5.1"/><rect x="307.5" y="314.2" width="5.1" height="5.1"/><rect x="328.6" y="250.0" width="5.1" height="5.1"/><rect x="307.2" y="233.8" width="5.1" height="5.1"/><rect x="323.6" y="317.6" width="5.1" height="5.1"/><rect x="324.4" y="309.4" width="5.1" height="5.1"/><rect x="313.4" y="216.1" width="5.1" height="5.1"/><rect x="328.3" y="181.9" width="5.1" height="5.1"/><rect x="324.4" y="198.1" width="5.1" height="5.1"/><rect x="329.0" y="267.7" width="5.1" height="5.1"/><rect x="310.5" y="278.1" width="5.1" height="5.1"/><rect x="324.5" y="311.3" width="5.1" height="5.1"/><rect x="318.1" y="119.5" width="5.1" height="5.1"/><rect x="322.8" y="37.1" width="5.1" height="5.1"/><rect x="357.1" y="241.1" width="5.1" height="5.1"/><rect x="326.6" y="207.6" width="5.1" height="5.1"/><rect x="317.5" y="305.1" width="5.1" height="5.1"/><rect x="325.6" y="99.2" width="5.1" height="5.1"/><rect x="326.6" y="165.6" width="5.1" height="5.1"/><rect x="308.0" y="268.3" width="5.1" height="5.1"/><rect x="314.8" y="201.8" width="5.1" height="5.1"/><rect x="320.6" y="307.6" width="5.1" height="5.1"/><rect x="306.6" y="307.0" width="5.1" height="5.1"/><rect x="445.6" y="37.2" width="5.1" height="5.1"/><rect x="325.1" y="273.3" width="5.1" height="5.1"/><rect x="317.5" y="252.4" width="5.1" height="5.1"/><rect x="311.7" y="200.3" width="5.1" height="5.1"/><rect x="321.1" y="155.6" width="5.1" height="5.1"/><rect x="317.9" y="232.7" width="5.1" height="5.1"/><rect x="307.4" y="317.4" width="5.1" height="5.1"/><rect x="391.8" y="37.2" width="5.1" height="5.1"/><rect x="322.9" y="160.1" width="5.1" height="5.1"/><rect x="316.9" y="251.4" width="5.1" height="5.1"/><rect x="322.8" y="280.7" width="5.1" height="5.1"/><rect x="330.1" y="46.6" width="5.1" height="5.1"/><rect x="307.8" y="291.8" width="5.1" height="5.1"/><rect x="312.2" y="246.5" width="5.1" height="5.1"/><rect x="310.3" y="201.7" width="5.1" height="5.1"/><rect x="331.3" y="190.8" width="5.1" height="5.1"/><rect x="342.1" y="268.4" width="5.1" height="5.1"/><rect x="312.9" y="161.9" width="5.1" height="5.1"/><rect x="308.9" y="265.7" width="5.1" height="5.1"/><rect x="309.6" y="316.2" width="5.1" height="5.1"/><rect x="331.1" y="174.8" width="5.1" height="5.1"/><rect x="310.0" y="311.7" width="5.1" height="5.1"/><rect x="307.9" y="232.0" width="5.1" height="5.1"/><rect x="307.8" y="180.1" width="5.1" height="5.1"/><rect x="320.9" y="192.3" width="5.1" height="5.1"/><rect x="311.4" y="192.5" width="5.1" height="5.1"/><rect x="319.0" y="307.6" width="5.1" height="5.1"/><rect x="322.2" y="190.3" width="5.1" height="5.1"/><rect x="308.6" y="256.2" width="5.1" height="5.1"/><rect x="313.1" y="229.1" width="5.1" height="5.1"/><rect x="324.8" y="129.2" width="5.1" height="5.1"/><rect x="309.2" y="196.2" width="5.1" height="5.1"/><rect x="310.8" y="251.5" width="5.1" height="5.1"/><rect x="319.7" y="292.7" width="5.1" height="5.1"/><rect x="311.1" y="257.2" width="5.1" height="5.1"/><rect x="309.3" y="192.6" width="5.1" height="5.1"/><rect x="325.0" y="303.8" width="5.1" height="5.1"/><rect x="324.8" y="125.2" width="5.1" height="5.1"/><rect x="321.1" y="185.6" width="5.1" height="5.1"/><rect x="318.6" y="295.3" width="5.1" height="5.1"/><rect x="317.4" y="180.1" width="5.1" height="5.1"/><rect x="337.6" y="185.9" width="5.1" height="5.1"/><rect x="306.6" y="267.0" width="5.1" height="5.1"/><rect x="318.2" y="218.4" width="5.1" height="5.1"/><rect x="327.5" y="265.0" width="5.1" height="5.1"/><rect x="306.8" y="271.0" width="5.1" height="5.1"/><rect x="326.6" y="284.1" width="5.1" height="5.1"/><rect x="322.3" y="208.9" width="5.1" height="5.1"/><rect x="323.3" y="219.3" width="5.1" height="5.1"/><rect x="315.9" y="293.9" width="5.1" height="5.1"/><rect x="318.3" y="237.2" width="5.1" height="5.1"/><rect x="326.6" y="176.5" width="5.1" height="5.1"/><rect x="316.4" y="205.7" width="5.1" height="5.1"/><rect x="317.3" y="248.9" width="5.1" height="5.1"/><rect x="339.1" y="245.4" width="5.1" height="5.1"/><rect x="311.1" y="275.9" width="5.1" height="5.1"/><rect x="328.7" y="189.5" width="5.1" height="5.1"/><rect x="312.6" y="303.9" width="5.1" height="5.1"/><rect x="311.7" y="290.6" width="5.1" height="5.1"/><rect x="319.2" y="171.0" width="5.1" height="5.1"/><rect x="316.3" y="201.4" width="5.1" height="5.1"/><rect x="318.5" y="214.9" width="5.1" height="5.1"/><rect x="307.4" y="271.8" width="5.1" height="5.1"/><rect x="326.8" y="195.8" width="5.1" height="5.1"/><rect x="307.9" y="252.0" width="5.1" height="5.1"/><rect x="340.6" y="151.0" width="5.1" height="5.1"/><rect x="311.0" y="255.4" width="5.1" height="5.1"/><rect x="320.5" y="265.7" width="5.1" height="5.1"/><rect x="320.2" y="276.5" width="5.1" height="5.1"/><rect x="322.9" y="288.1" width="5.1" height="5.1"/><rect x="322.5" y="266.8" width="5.1" height="5.1"/><rect x="324.2" y="230.1" width="5.1" height="5.1"/><rect x="317.1" y="317.3" width="5.1" height="5.1"/><rect x="310.9" y="298.4" width="5.1" height="5.1"/><rect x="315.7" y="309.1" width="5.1" height="5.1"/><rect x="324.0" y="245.5" width="5.1" height="5.1"/><rect x="310.6" y="224.6" width="5.1" height="5.1"/><rect x="313.0" y="273.1" width="5.1" height="5.1"/><rect x="318.4" y="297.4" width="5.1" height="5.1"/><rect x="318.6" y="287.3" width="5.1" height="5.1"/><rect x="320.5" y="214.4" width="5.1" height="5.1"/><rect x="312.3" y="222.8" width="5.1" height="5.1"/><rect x="311.1" y="184.8" width="5.1" height="5.1"/><rect x="323.7" y="306.8" width="5.1" height="5.1"/><rect x="321.1" y="175.6" width="5.1" height="5.1"/><rect x="313.3" y="313.1" width="5.1" height="5.1"/><rect x="323.2" y="213.3" width="5.1" height="5.1"/><rect x="322.9" y="141.0" width="5.1" height="5.1"/><rect x="310.6" y="256.1" width="5.1" height="5.1"/><rect x="318.0" y="207.1" width="5.1" height="5.1"/><rect x="309.9" y="283.9" width="5.1" height="5.1"/><rect x="310.7" y="202.3" width="5.1" height="5.1"/><rect x="310.8" y="322.4" width="5.1" height="5.1"/><rect x="331.6" y="110.5" width="5.1" height="5.1"/><rect x="322.4" y="247.2" width="5.1" height="5.1"/><rect x="307.7" y="225.0" width="5.1" height="5.1"/><rect x="313.8" y="166.5" width="5.1" height="5.1"/><rect x="312.8" y="256.4" width="5.1" height="5.1"/><rect x="315.3" y="189.0" width="5.1" height="5.1"/><rect x="310.5" y="285.6" width="5.1" height="5.1"/><rect x="328.4" y="178.4" width="5.1" height="5.1"/><rect x="351.2" y="250.4" width="5.1" height="5.1"/><rect x="307.0" y="231.8" width="5.1" height="5.1"/><rect x="315.5" y="250.9" width="5.1" height="5.1"/><rect x="311.6" y="294.9" width="5.1" height="5.1"/><rect x="314.1" y="265.9" width="5.1" height="5.1"/><rect x="313.2" y="316.0" width="5.1" height="5.1"/><rect x="309.4" y="246.4" width="5.1" height="5.1"/><rect x="326.3" y="260.8" width="5.1" height="5.1"/><rect x="315.6" y="185.6" width="5.1" height="5.1"/><rect x="318.7" y="232.9" width="5.1" height="5.1"/><rect x="316.1" y="315.5" width="5.1" height="5.1"/><rect x="317.2" y="254.0" width="5.1" height="5.1"/><rect x="324.8" y="156.1" width="5.1" height="5.1"/><rect x="312.5" y="195.9" width="5.1" height="5.1"/><rect x="307.7" y="257.1" width="5.1" height="5.1"/><rect x="308.8" y="155.0" width="5.1" height="5.1"/><rect x="313.9" y="239.5" width="5.1" height="5.1"/><rect x="309.2" y="274.9" width="5.1" height="5.1"/><rect x="311.0" y="305.0" width="5.1" height="5.1"/><rect x="315.0" y="233.0" width="5.1" height="5.1"/><rect x="335.2" y="64.5" width="5.1" height="5.1"/><rect x="334.1" y="199.2" width="5.1" height="5.1"/><rect x="328.2" y="213.2" width="5.1" height="5.1"/><rect x="311.6" y="217.2" width="5.1" height="5.1"/><rect x="320.9" y="304.5" width="5.1" height="5.1"/><rect x="321.4" y="163.4" width="5.1" height="5.1"/><rect x="315.8" y="216.9" width="5.1" height="5.1"/><rect x="312.1" y="229.1" width="5.1" height="5.1"/><rect x="329.2" y="192.2" width="5.1" height="5.1"/><rect x="328.0" y="198.0" width="5.1" height="5.1"/><rect x="317.1" y="196.3" width="5.1" height="5.1"/><rect x="320.0" y="280.4" width="5.1" height="5.1"/><rect x="313.6" y="241.6" width="5.1" height="5.1"/><rect x="310.5" y="277.6" width="5.1" height="5.1"/><rect x="314.2" y="229.9" width="5.1" height="5.1"/><rect x="321.9" y="209.6" width="5.1" height="5.1"/><rect x="311.1" y="200.4" width="5.1" height="5.1"/><rect x="313.9" y="306.4" width="5.1" height="5.1"/><rect x="309.0" y="204.9" width="5.1" height="5.1"/><rect x="327.8" y="229.0" width="5.1" height="5.1"/><rect x="325.6" y="150.1" width="5.1" height="5.1"/><rect x="323.7" y="283.9" width="5.1" height="5.1"/><rect x="311.8" y="238.7" width="5.1" height="5.1"/><rect x="327.4" y="151.9" width="5.1" height="5.1"/><rect x="316.7" y="313.8" width="5.1" height="5.1"/><rect x="307.1" y="228.1" width="5.1" height="5.1"/><rect x="314.0" y="302.0" width="5.1" height="5.1"/><rect x="328.9" y="206.3" width="5.1" height="5.1"/><rect x="323.3" y="229.7" width="5.1" height="5.1"/><rect x="315.0" y="228.8" width="5.1" height="5.1"/><rect x="306.9" y="296.0" width="5.1" height="5.1"/><rect x="331.6" y="99.7" width="5.1" height="5.1"/><rect x="322.4" y="307.9" width="5.1" height="5.1"/><rect x="316.1" y="270.9" width="5.1" height="5.1"/><rect x="337.1" y="268.1" width="5.1" height="5.1"/><rect x="322.3" y="249.7" width="5.1" height="5.1"/><rect x="320.1" y="166.5" width="5.1" height="5.1"/><rect x="312.2" y="190.3" width="5.1" height="5.1"/><rect x="307.6" y="305.4" width="5.1" height="5.1"/><rect x="308.7" y="194.7" width="5.1" height="5.1"/><rect x="321.4" y="256.4" width="5.1" height="5.1"/><rect x="315.7" y="205.9" width="5.1" height="5.1"/><rect x="322.9" y="291.7" width="5.1" height="5.1"/><rect x="309.4" y="272.6" width="5.1" height="5.1"/><rect x="342.8" y="282.4" width="5.1" height="5.1"/><rect x="318.5" y="212.6" width="5.1" height="5.1"/><rect x="314.9" y="222.9" width="5.1" height="5.1"/><rect x="330.4" y="114.8" width="5.1" height="5.1"/><rect x="342.9" y="225.6" width="5.1" height="5.1"/><rect x="322.6" y="257.1" width="5.1" height="5.1"/><rect x="308.8" y="210.1" width="5.1" height="5.1"/><rect x="322.5" y="301.3" width="5.1" height="5.1"/><rect x="312.7" y="234.9" width="5.1" height="5.1"/><rect x="326.9" y="223.1" width="5.1" height="5.1"/><rect x="310.5" y="289.4" width="5.1" height="5.1"/><rect x="347.4" y="139.2" width="5.1" height="5.1"/><rect x="323.3" y="117.9" width="5.1" height="5.1"/><rect x="338.6" y="283.6" width="5.1" height="5.1"/><rect x="307.5" y="290.2" width="5.1" height="5.1"/><rect x="336.9" y="117.9" width="5.1" height="5.1"/><rect x="323.3" y="295.4" width="5.1" height="5.1"/><rect x="313.4" y="174.4" width="5.1" height="5.1"/><rect x="314.6" y="195.2" width="5.1" height="5.1"/><rect x="327.6" y="96.0" width="5.1" height="5.1"/><rect x="323.4" y="167.9" width="5.1" height="5.1"/><rect x="327.4" y="161.0" width="5.1" height="5.1"/><rect x="335.2" y="237.8" width="5.1" height="5.1"/><rect x="324.6" y="271.6" width="5.1" height="5.1"/><rect x="312.1" y="312.2" width="5.1" height="5.1"/><rect x="313.4" y="252.3" width="5.1" height="5.1"/><rect x="324.3" y="206.2" width="5.1" height="5.1"/><rect x="314.5" y="201.3" width="5.1" height="5.1"/><rect x="307.2" y="270.3" width="5.1" height="5.1"/><rect x="332.1" y="89.7" width="5.1" height="5.1"/><rect x="307.2" y="316.0" width="5.1" height="5.1"/><rect x="309.4" y="268.2" width="5.1" height="5.1"/><rect x="311.7" y="240.9" width="5.1" height="5.1"/><rect x="338.4" y="317.1" width="5.1" height="5.1"/><rect x="316.9" y="306.7" width="5.1" height="5.1"/><rect x="307.3" y="248.0" width="5.1" height="5.1"/><rect x="329.3" y="196.3" width="5.1" height="5.1"/><rect x="306.6" y="260.6" width="5.1" height="5.1"/><rect x="307.9" y="296.4" width="5.1" height="5.1"/><rect x="322.9" y="181.0" width="5.1" height="5.1"/><rect x="352.8" y="185.8" width="5.1" height="5.1"/><rect x="313.1" y="308.1" width="5.1" height="5.1"/><rect x="324.5" y="281.1" width="5.1" height="5.1"/><rect x="312.9" y="302.4" width="5.1" height="5.1"/><rect x="321.8" y="321.8" width="5.1" height="5.1"/><rect x="321.4" y="265.9" width="5.1" height="5.1"/><rect x="321.4" y="257.4" width="5.1" height="5.1"/><rect x="313.4" y="308.8" width="5.1" height="5.1"/><rect x="311.9" y="232.8" width="5.1" height="5.1"/><rect x="333.8" y="261.9" width="5.1" height="5.1"/><rect x="332.4" y="189.3" width="5.1" height="5.1"/><rect x="329.2" y="156.1" width="5.1" height="5.1"/><rect x="322.2" y="240.0" width="5.1" height="5.1"/><rect x="325.8" y="190.0" width="5.1" height="5.1"/><rect x="327.1" y="248.0" width="5.1" height="5.1"/><rect x="328.3" y="206.1" width="5.1" height="5.1"/><rect x="310.5" y="191.8" width="5.1" height="5.1"/><rect x="316.4" y="182.4" width="5.1" height="5.1"/><rect x="316.9" y="207.4" width="5.1" height="5.1"/><rect x="315.2" y="296.8" width="5.1" height="5.1"/><rect x="326.6" y="137.4" width="5.1" height="5.1"/><rect x="307.2" y="229.2" width="5.1" height="5.1"/><rect x="318.6" y="85.5" width="5.1" height="5.1"/><rect x="307.8" y="320.8" width="5.1" height="5.1"/><rect x="307.5" y="266.3" width="5.1" height="5.1"/><rect x="325.1" y="296.7" width="5.1" height="5.1"/><rect x="314.2" y="234.4" width="5.1" height="5.1"/><rect x="308.7" y="218.0" width="5.1" height="5.1"/><rect x="316.4" y="171.4" width="5.1" height="5.1"/><rect x="320.0" y="208.1" width="5.1" height="5.1"/><rect x="318.3" y="268.6" width="5.1" height="5.1"/><rect x="321.1" y="151.0" width="5.1" height="5.1"/><rect x="329.0" y="261.5" width="5.1" height="5.1"/><rect x="311.1" y="317.1" width="5.1" height="5.1"/><rect x="327.5" y="275.2" width="5.1" height="5.1"/><rect x="325.4" y="257.7" width="5.1" height="5.1"/><rect x="322.2" y="252.3" width="5.1" height="5.1"/><rect x="310.2" y="303.8" width="5.1" height="5.1"/><rect x="311.3" y="267.0" width="5.1" height="5.1"/><rect x="413.8" y="37.2" width="5.1" height="5.1"/><rect x="311.6" y="235.6" width="5.1" height="5.1"/><rect x="319.5" y="198.9" width="5.1" height="5.1"/><rect x="318.3" y="313.7" width="5.1" height="5.1"/><rect x="336.6" y="170.1" width="5.1" height="5.1"/><rect x="326.1" y="282.2" width="5.1" height="5.1"/><rect x="336.6" y="166.1" width="5.1" height="5.1"/><rect x="326.6" y="141.9" width="5.1" height="5.1"/><rect x="325.2" y="283.1" width="5.1" height="5.1"/><rect x="309.3" y="190.2" width="5.1" height="5.1"/><rect x="314.5" y="272.3" width="5.1" height="5.1"/><rect x="320.9" y="105.2" width="5.1" height="5.1"/><rect x="331.1" y="126.1" width="5.1" height="5.1"/><rect x="323.2" y="231.1" width="5.1" height="5.1"/><rect x="325.6" y="104.0" width="5.1" height="5.1"/><rect x="318.1" y="265.3" width="5.1" height="5.1"/><rect x="317.6" y="322.0" width="5.1" height="5.1"/><rect x="316.9" y="298.9" width="5.1" height="5.1"/><rect x="310.0" y="242.8" width="5.1" height="5.1"/><rect x="330.5" y="244.8" width="5.1" height="5.1"/><rect x="315.9" y="318.8" width="5.1" height="5.1"/><rect x="309.0" y="258.1" width="5.1" height="5.1"/><rect x="312.0" y="295.9" width="5.1" height="5.1"/><rect x="316.6" y="155.6" width="5.1" height="5.1"/><rect x="310.9" y="261.7" width="5.1" height="5.1"/><rect x="314.8" y="275.4" width="5.1" height="5.1"/><rect x="318.4" y="304.4" width="5.1" height="5.1"/><rect x="314.4" y="215.6" width="5.1" height="5.1"/><rect x="307.0" y="295.0" width="5.1" height="5.1"/><rect x="322.0" y="251.6" width="5.1" height="5.1"/><rect x="307.2" y="283.5" width="5.1" height="5.1"/><rect x="310.8" y="203.4" width="5.1" height="5.1"/><rect x="333.6" y="61.0" width="5.1" height="5.1"/><rect x="320.4" y="199.8" width="5.1" height="5.1"/><rect x="315.2" y="201.9" width="5.1" height="5.1"/><rect x="308.8" y="230.1" width="5.1" height="5.1"/><rect x="320.6" y="319.9" width="5.1" height="5.1"/><rect x="306.8" y="256.3" width="5.1" height="5.1"/><rect x="329.5" y="251.2" width="5.1" height="5.1"/><rect x="330.2" y="202.3" width="5.1" height="5.1"/><rect x="323.9" y="228.4" width="5.1" height="5.1"/><rect x="326.3" y="261.8" width="5.1" height="5.1"/><rect x="327.1" y="235.3" width="5.1" height="5.1"/><rect x="306.8" y="315.6" width="5.1" height="5.1"/><rect x="315.7" y="200.3" width="5.1" height="5.1"/><rect x="328.6" y="198.6" width="5.1" height="5.1"/><rect x="321.4" y="195.9" width="5.1" height="5.1"/><rect x="345.1" y="233.1" width="5.1" height="5.1"/><rect x="313.0" y="254.9" width="5.1" height="5.1"/><rect x="323.7" y="312.4" width="5.1" height="5.1"/><rect x="319.7" y="230.6" width="5.1" height="5.1"/><rect x="325.3" y="216.9" width="5.1" height="5.1"/><rect x="314.8" y="217.3" width="5.1" height="5.1"/><rect x="317.4" y="150.1" width="5.1" height="5.1"/><rect x="345.6" y="156.1" width="5.1" height="5.1"/><rect x="308.6" y="303.8" width="5.1" height="5.1"/><rect x="309.8" y="270.8" width="5.1" height="5.1"/><rect x="307.2" y="303.4" width="5.1" height="5.1"/><rect x="343.9" y="218.6" width="5.1" height="5.1"/><rect x="309.8" y="284.1" width="5.1" height="5.1"/><rect x="321.9" y="243.9" width="5.1" height="5.1"/><rect x="313.4" y="204.2" width="5.1" height="5.1"/><rect x="313.2" y="244.6" width="5.1" height="5.1"/><rect x="307.2" y="235.0" width="5.1" height="5.1"/><rect x="309.5" y="235.1" width="5.1" height="5.1"/><rect x="314.1" y="319.6" width="5.1" height="5.1"/><rect x="309.5" y="215.7" width="5.1" height="5.1"/><rect x="342.9" y="201.9" width="5.1" height="5.1"/><rect x="331.9" y="187.4" width="5.1" height="5.1"/><rect x="325.1" y="134.8" width="5.1" height="5.1"/><rect x="311.1" y="125.2" width="5.1" height="5.1"/><rect x="307.3" y="243.5" width="5.1" height="5.1"/><rect x="316.0" y="258.3" width="5.1" height="5.1"/><rect x="318.9" y="247.1" width="5.1" height="5.1"/><rect x="322.1" y="260.5" width="5.1" height="5.1"/><rect x="313.3" y="196.5" width="5.1" height="5.1"/><rect x="315.6" y="263.4" width="5.1" height="5.1"/><rect x="312.2" y="224.8" width="5.1" height="5.1"/><rect x="336.6" y="229.2" width="5.1" height="5.1"/><rect x="317.7" y="213.0" width="5.1" height="5.1"/><rect x="315.4" y="158.4" width="5.1" height="5.1"/><rect x="323.8" y="205.9" width="5.1" height="5.1"/><rect x="309.1" y="285.4" width="5.1" height="5.1"/><rect x="306.7" y="261.7" width="5.1" height="5.1"/><rect x="307.8" y="317.8" width="5.1" height="5.1"/><rect x="314.6" y="296.8" width="5.1" height="5.1"/><rect x="319.9" y="244.5" width="5.1" height="5.1"/><rect x="319.4" y="157.9" width="5.1" height="5.1"/><rect x="326.9" y="269.7" width="5.1" height="5.1"/><rect x="333.8" y="155.6" width="5.1" height="5.1"/><rect x="322.1" y="247.2" width="5.1" height="5.1"/><rect x="329.4" y="258.0" width="5.1" height="5.1"/><rect x="312.1" y="260.8" width="5.1" height="5.1"/><rect x="327.9" y="292.8" width="5.1" height="5.1"/><rect x="328.6" y="256.3" width="5.1" height="5.1"/><rect x="323.2" y="241.2" width="5.1" height="5.1"/><rect x="320.7" y="224.0" width="5.1" height="5.1"/><rect x="307.6" y="320.4" width="5.1" height="5.1"/><rect x="318.3" y="161.0" width="5.1" height="5.1"/><rect x="323.0" y="193.2" width="5.1" height="5.1"/><rect x="308.8" y="264.2" width="5.1" height="5.1"/><rect x="310.2" y="204.9" width="5.1" height="5.1"/><rect x="327.9" y="225.8" width="5.1" height="5.1"/><rect x="311.4" y="227.8" width="5.1" height="5.1"/><rect x="307.5" y="303.0" width="5.1" height="5.1"/><rect x="319.8" y="248.5" width="5.1" height="5.1"/><rect x="331.9" y="166.5" width="5.1" height="5.1"/><rect x="317.7" y="277.1" width="5.1" height="5.1"/><rect x="307.6" y="282.5" width="5.1" height="5.1"/><rect x="320.2" y="263.3" width="5.1" height="5.1"/><rect x="311.5" y="229.1" width="5.1" height="5.1"/><rect x="327.0" y="242.3" width="5.1" height="5.1"/><rect x="319.4" y="225.5" width="5.1" height="5.1"/><rect x="326.6" y="186.5" width="5.1" height="5.1"/><rect x="308.2" y="317.4" width="5.1" height="5.1"/><rect x="324.8" y="170.1" width="5.1" height="5.1"/><rect x="338.3" y="212.8" width="5.1" height="5.1"/><rect x="308.9" y="261.8" width="5.1" height="5.1"/><rect x="317.2" y="321.9" width="5.1" height="5.1"/></g>

<g stroke="#00b040" stroke-opacity="0.72" stroke-width="1.6" fill="none"><line x1="62" y1="327" x2="491.5" y2="327"/><line x1="245.9" y1="33" x2="245.9" y2="473"/><line x1="306.8" y1="33" x2="306.8" y2="473"/></g>
<rect x="61.4" y="32.2" width="430.4" height="441.3" fill="none" stroke="#333" stroke-width="1.6"/>
<g stroke="#333" stroke-width="1.4"><line x1="67.8" y1="473.2" x2="67.8" y2="477"/><line x1="119.9" y1="473.2" x2="119.9" y2="477"/><line x1="172.1" y1="473.2" x2="172.1" y2="477"/><line x1="224.2" y1="473.2" x2="224.2" y2="477"/><line x1="276.4" y1="473.2" x2="276.4" y2="477"/><line x1="328.5" y1="473.2" x2="328.5" y2="477"/><line x1="380.6" y1="473.2" x2="380.6" y2="477"/><line x1="432.8" y1="473.2" x2="432.8" y2="477"/><line x1="484.9" y1="473.2" x2="484.9" y2="477"/><line x1="57.8" y1="466.4" x2="61.5" y2="466.4"/><line x1="57.8" y1="359.5" x2="61.5" y2="359.5"/><line x1="57.8" y1="252.6" x2="61.5" y2="252.6"/><line x1="57.8" y1="145.7" x2="61.5" y2="145.7"/><line x1="57.8" y1="38.8" x2="61.5" y2="38.8"/></g>
<text x="146.8" y="19.8" font-size="15.6" font-family="'Liberation Serif', serif" fill="#161616" stroke="#161616" stroke-width="0.25" textLength="256.6" lengthAdjust="spacingAndGlyphs" >(MCAD patients vs healthy control)</text>
<text x="208.2" y="535.9" font-size="16.0" font-family="'Liberation Serif', serif" fill="#161616" stroke="#161616" stroke-width="0.25" textLength="128.8" lengthAdjust="spacingAndGlyphs" >log2(Fold change)</text>
<text transform="translate(18.8,262.6) rotate(-90)" font-size="16" font-family="'Liberation Serif', serif" fill="#161616" stroke="#161616" stroke-width="0.25" textLength="104" lengthAdjust="spacingAndGlyphs">-log10(pvalue)</text>
<text x="78.4" y="294.0" font-size="16.0" font-family="'Liberation Serif', serif" fill="#161616" stroke="#161616" stroke-width="0.25" textLength="117.0" lengthAdjust="spacingAndGlyphs" >Down-regulated</text>
<text x="78.4" y="314.0" font-size="16.0" font-family="'Liberation Serif', serif" fill="#161616" stroke="#161616" stroke-width="0.25" textLength="34.8" lengthAdjust="spacingAndGlyphs" >(504)</text>
<text x="373.4" y="293.6" font-size="16.0" font-family="'Liberation Serif', serif" fill="#161616" stroke="#161616" stroke-width="0.25" textLength="94.8" lengthAdjust="spacingAndGlyphs" >Up-regulated</text>
<text x="373.4" y="313.6" font-size="16.0" font-family="'Liberation Serif', serif" fill="#161616" stroke="#161616" stroke-width="0.25" textLength="34.6" lengthAdjust="spacingAndGlyphs" >(530)</text>
<text x="62.0" y="502.5" font-size="15.5" font-family="'Liberation Serif', serif" fill="#161616" stroke="#161616" stroke-width="0.25" textLength="12.6" lengthAdjust="spacingAndGlyphs" >-4</text>
<text x="116.5" y="502.5" font-size="15.5" font-family="'Liberation Serif', serif" fill="#161616" stroke="#161616" stroke-width="0.25" textLength="12.0" lengthAdjust="spacingAndGlyphs" >-3</text>
<text x="170.3" y="502.5" font-size="15.5" font-family="'Liberation Serif', serif" fill="#161616" stroke="#161616" stroke-width="0.25" textLength="13.2" lengthAdjust="spacingAndGlyphs" >-2</text>
<text x="220.2" y="502.5" font-size="15.5" font-family="'Liberation Serif', serif" fill="#161616" stroke="#161616" stroke-width="0.25" textLength="12.0" lengthAdjust="spacingAndGlyphs" >-1</text>
<text x="274.6" y="502.5" font-size="15.5" font-family="'Liberation Serif', serif" fill="#161616" stroke="#161616" stroke-width="0.25" textLength="7.8" lengthAdjust="spacingAndGlyphs" >0</text>
<text x="328.6" y="502.5" font-size="15.5" font-family="'Liberation Serif', serif" fill="#161616" stroke="#161616" stroke-width="0.25" textLength="6.4" lengthAdjust="spacingAndGlyphs" >1</text>
<text x="380.5" y="502.5" font-size="15.5" font-family="'Liberation Serif', serif" fill="#161616" stroke="#161616" stroke-width="0.25" textLength="7.2" lengthAdjust="spacingAndGlyphs" >2</text>
<text x="429.6" y="502.5" font-size="15.5" font-family="'Liberation Serif', serif" fill="#161616" stroke="#161616" stroke-width="0.25" textLength="7.2" lengthAdjust="spacingAndGlyphs" >3</text>
<text x="481.9" y="502.5" font-size="15.5" font-family="'Liberation Serif', serif" fill="#161616" stroke="#161616" stroke-width="0.25" textLength="7.2" lengthAdjust="spacingAndGlyphs" >4</text>
<text x="39.0" y="45.9" font-size="16.3" font-family="'Liberation Serif', serif" fill="#161616" stroke="#161616" stroke-width="0.25" textLength="7.2" lengthAdjust="spacingAndGlyphs" >4</text>
<text x="38.2" y="151.3" font-size="16.3" font-family="'Liberation Serif', serif" fill="#161616" stroke="#161616" stroke-width="0.25" textLength="7.6" lengthAdjust="spacingAndGlyphs" >3</text>
<text x="39.7" y="259.9" font-size="16.3" font-family="'Liberation Serif', serif" fill="#161616" stroke="#161616" stroke-width="0.25" textLength="7.4" lengthAdjust="spacingAndGlyphs" >2</text>
<text x="39.6" y="364.9" font-size="16.3" font-family="'Liberation Serif', serif" fill="#161616" stroke="#161616" stroke-width="0.25" textLength="5.6" lengthAdjust="spacingAndGlyphs" >1</text>
<text x="38.8" y="469.2" font-size="16.3" font-family="'Liberation Serif', serif" fill="#161616" stroke="#161616" stroke-width="0.25" textLength="7.3" lengthAdjust="spacingAndGlyphs" >0</text>
</svg>
</body></html>
